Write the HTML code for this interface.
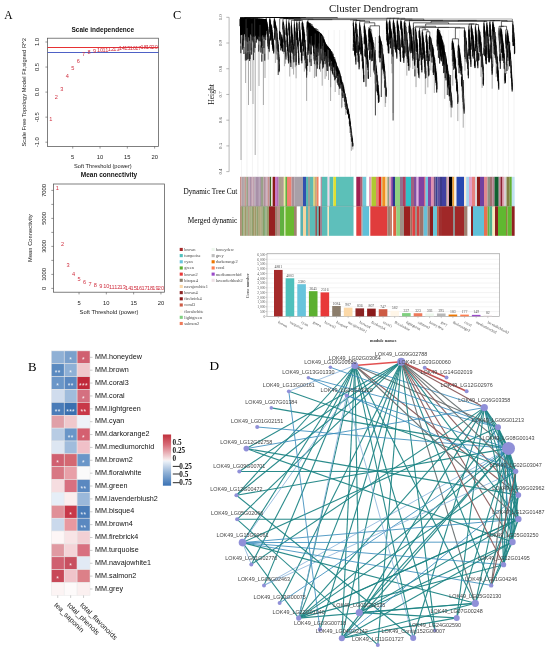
<!DOCTYPE html>
<html><head><meta charset="utf-8"><title>WGCNA figure</title>
<style>html,body{margin:0;padding:0;background:#fff;}svg{display:block}</style></head>
<body><svg width="550" height="651" viewBox="0 0 550 651">
<rect width="550" height="651" fill="#fff"/>
<text x="4.30" y="19.00" font-size="11.5" font-family="'Liberation Serif', 'Times New Roman', serif" fill="#000" text-anchor="start" font-weight="normal">A</text>
<rect x="47.6" y="38.2" width="110.9" height="108.2" fill="none" stroke="#555" stroke-width="0.75"/>
<text x="102.75" y="32.00" font-size="6.5" font-family="'Liberation Sans', Arial, sans-serif" fill="#111" text-anchor="middle" font-weight="bold">Scale independence</text>
<line x1="45.40" y1="42.00" x2="47.60" y2="42.00" stroke="#555" stroke-width="0.6"/>
<text x="39.20" y="42.00" font-size="5.8" font-family="'Liberation Sans', Arial, sans-serif" fill="#222" text-anchor="middle" font-weight="normal" transform="rotate(-90 39.20 42.00)">1.0</text>
<line x1="45.40" y1="67.05" x2="47.60" y2="67.05" stroke="#555" stroke-width="0.6"/>
<text x="39.20" y="67.05" font-size="5.8" font-family="'Liberation Sans', Arial, sans-serif" fill="#222" text-anchor="middle" font-weight="normal" transform="rotate(-90 39.20 67.05)">0.5</text>
<line x1="45.40" y1="92.10" x2="47.60" y2="92.10" stroke="#555" stroke-width="0.6"/>
<text x="39.20" y="92.10" font-size="5.8" font-family="'Liberation Sans', Arial, sans-serif" fill="#222" text-anchor="middle" font-weight="normal" transform="rotate(-90 39.20 92.10)">0.0</text>
<line x1="45.40" y1="117.15" x2="47.60" y2="117.15" stroke="#555" stroke-width="0.6"/>
<text x="39.20" y="117.15" font-size="5.8" font-family="'Liberation Sans', Arial, sans-serif" fill="#222" text-anchor="middle" font-weight="normal" transform="rotate(-90 39.20 117.15)">-0.5</text>
<line x1="45.40" y1="142.20" x2="47.60" y2="142.20" stroke="#555" stroke-width="0.6"/>
<text x="39.20" y="142.20" font-size="5.8" font-family="'Liberation Sans', Arial, sans-serif" fill="#222" text-anchor="middle" font-weight="normal" transform="rotate(-90 39.20 142.20)">-1.0</text>
<line x1="72.74" y1="146.40" x2="72.74" y2="148.60" stroke="#555" stroke-width="0.6"/>
<text x="72.74" y="158.80" font-size="5.8" font-family="'Liberation Sans', Arial, sans-serif" fill="#222" text-anchor="middle" font-weight="normal">5</text>
<line x1="100.04" y1="146.40" x2="100.04" y2="148.60" stroke="#555" stroke-width="0.6"/>
<text x="100.04" y="158.80" font-size="5.8" font-family="'Liberation Sans', Arial, sans-serif" fill="#222" text-anchor="middle" font-weight="normal">10</text>
<line x1="127.34" y1="146.40" x2="127.34" y2="148.60" stroke="#555" stroke-width="0.6"/>
<text x="127.34" y="158.80" font-size="5.8" font-family="'Liberation Sans', Arial, sans-serif" fill="#222" text-anchor="middle" font-weight="normal">15</text>
<line x1="154.64" y1="146.40" x2="154.64" y2="148.60" stroke="#555" stroke-width="0.6"/>
<text x="154.64" y="158.80" font-size="5.8" font-family="'Liberation Sans', Arial, sans-serif" fill="#222" text-anchor="middle" font-weight="normal">20</text>
<text x="102.90" y="167.50" font-size="5.7" font-family="'Liberation Sans', Arial, sans-serif" fill="#222" text-anchor="middle" font-weight="normal">Soft Threshold (power)</text>
<text x="25.60" y="92.30" font-size="5.8" font-family="'Liberation Sans', Arial, sans-serif" fill="#222" text-anchor="middle" font-weight="normal" transform="rotate(-90 25.60 92.30)">Scale Free Topology Model Fit,signed R^2</text>
<line x1="47.60" y1="47.50" x2="158.50" y2="47.50" stroke="#e41a1c" stroke-width="0.9"/>
<line x1="47.60" y1="52.50" x2="158.50" y2="52.50" stroke="#3a4fc0" stroke-width="0.9"/>
<text x="50.90" y="120.65" font-size="5.6" font-family="'Liberation Sans', Arial, sans-serif" fill="#d03040" text-anchor="middle" font-weight="normal">1</text>
<text x="56.36" y="98.61" font-size="5.6" font-family="'Liberation Sans', Arial, sans-serif" fill="#d03040" text-anchor="middle" font-weight="normal">2</text>
<text x="61.82" y="91.09" font-size="5.6" font-family="'Liberation Sans', Arial, sans-serif" fill="#d03040" text-anchor="middle" font-weight="normal">3</text>
<text x="67.28" y="77.57" font-size="5.6" font-family="'Liberation Sans', Arial, sans-serif" fill="#d03040" text-anchor="middle" font-weight="normal">4</text>
<text x="72.74" y="70.05" font-size="5.6" font-family="'Liberation Sans', Arial, sans-serif" fill="#d03040" text-anchor="middle" font-weight="normal">5</text>
<text x="78.20" y="63.04" font-size="5.6" font-family="'Liberation Sans', Arial, sans-serif" fill="#d03040" text-anchor="middle" font-weight="normal">6</text>
<text x="83.66" y="56.02" font-size="5.6" font-family="'Liberation Sans', Arial, sans-serif" fill="#d03040" text-anchor="middle" font-weight="normal">7</text>
<text x="89.12" y="53.52" font-size="5.6" font-family="'Liberation Sans', Arial, sans-serif" fill="#d03040" text-anchor="middle" font-weight="normal">8</text>
<text x="94.58" y="52.52" font-size="5.6" font-family="'Liberation Sans', Arial, sans-serif" fill="#d03040" text-anchor="middle" font-weight="normal">9</text>
<text x="100.04" y="52.02" font-size="5.6" font-family="'Liberation Sans', Arial, sans-serif" fill="#d03040" text-anchor="middle" font-weight="normal">10</text>
<text x="105.50" y="51.51" font-size="5.6" font-family="'Liberation Sans', Arial, sans-serif" fill="#d03040" text-anchor="middle" font-weight="normal">11</text>
<text x="110.96" y="51.01" font-size="5.6" font-family="'Liberation Sans', Arial, sans-serif" fill="#d03040" text-anchor="middle" font-weight="normal">12</text>
<text x="116.42" y="50.51" font-size="5.6" font-family="'Liberation Sans', Arial, sans-serif" fill="#d03040" text-anchor="middle" font-weight="normal">13</text>
<text x="121.88" y="50.26" font-size="5.6" font-family="'Liberation Sans', Arial, sans-serif" fill="#d03040" text-anchor="middle" font-weight="normal">14</text>
<text x="127.34" y="50.01" font-size="5.6" font-family="'Liberation Sans', Arial, sans-serif" fill="#d03040" text-anchor="middle" font-weight="normal">15</text>
<text x="132.80" y="49.76" font-size="5.6" font-family="'Liberation Sans', Arial, sans-serif" fill="#d03040" text-anchor="middle" font-weight="normal">16</text>
<text x="138.26" y="49.51" font-size="5.6" font-family="'Liberation Sans', Arial, sans-serif" fill="#d03040" text-anchor="middle" font-weight="normal">17</text>
<text x="143.72" y="49.26" font-size="5.6" font-family="'Liberation Sans', Arial, sans-serif" fill="#d03040" text-anchor="middle" font-weight="normal">18</text>
<text x="149.18" y="49.01" font-size="5.6" font-family="'Liberation Sans', Arial, sans-serif" fill="#d03040" text-anchor="middle" font-weight="normal">19</text>
<text x="154.64" y="49.01" font-size="5.6" font-family="'Liberation Sans', Arial, sans-serif" fill="#d03040" text-anchor="middle" font-weight="normal">20</text>
<rect x="53.5" y="184" width="111.0" height="108.19999999999999" fill="none" stroke="#555" stroke-width="0.75"/>
<text x="109.00" y="177.30" font-size="6.5" font-family="'Liberation Sans', Arial, sans-serif" fill="#111" text-anchor="middle" font-weight="bold">Mean connectivity</text>
<line x1="51.30" y1="288.40" x2="53.50" y2="288.40" stroke="#555" stroke-width="0.6"/>
<text x="45.60" y="288.40" font-size="5.8" font-family="'Liberation Sans', Arial, sans-serif" fill="#222" text-anchor="middle" font-weight="normal" transform="rotate(-90 45.60 288.40)">0</text>
<line x1="51.30" y1="274.40" x2="53.50" y2="274.40" stroke="#555" stroke-width="0.6"/>
<text x="45.60" y="274.40" font-size="5.8" font-family="'Liberation Sans', Arial, sans-serif" fill="#222" text-anchor="middle" font-weight="normal" transform="rotate(-90 45.60 274.40)">1000</text>
<line x1="51.30" y1="246.40" x2="53.50" y2="246.40" stroke="#555" stroke-width="0.6"/>
<text x="45.60" y="246.40" font-size="5.8" font-family="'Liberation Sans', Arial, sans-serif" fill="#222" text-anchor="middle" font-weight="normal" transform="rotate(-90 45.60 246.40)">3000</text>
<line x1="51.30" y1="218.40" x2="53.50" y2="218.40" stroke="#555" stroke-width="0.6"/>
<text x="45.60" y="218.40" font-size="5.8" font-family="'Liberation Sans', Arial, sans-serif" fill="#222" text-anchor="middle" font-weight="normal" transform="rotate(-90 45.60 218.40)">5000</text>
<line x1="51.30" y1="190.40" x2="53.50" y2="190.40" stroke="#555" stroke-width="0.6"/>
<text x="45.60" y="190.40" font-size="5.8" font-family="'Liberation Sans', Arial, sans-serif" fill="#222" text-anchor="middle" font-weight="normal" transform="rotate(-90 45.60 190.40)">7000</text>
<line x1="51.30" y1="260.40" x2="53.50" y2="260.40" stroke="#555" stroke-width="0.6"/>
<line x1="51.30" y1="232.40" x2="53.50" y2="232.40" stroke="#555" stroke-width="0.6"/>
<line x1="51.30" y1="204.40" x2="53.50" y2="204.40" stroke="#555" stroke-width="0.6"/>
<line x1="79.04" y1="292.20" x2="79.04" y2="294.40" stroke="#555" stroke-width="0.6"/>
<text x="79.04" y="304.80" font-size="5.8" font-family="'Liberation Sans', Arial, sans-serif" fill="#222" text-anchor="middle" font-weight="normal">5</text>
<line x1="106.34" y1="292.20" x2="106.34" y2="294.40" stroke="#555" stroke-width="0.6"/>
<text x="106.34" y="304.80" font-size="5.8" font-family="'Liberation Sans', Arial, sans-serif" fill="#222" text-anchor="middle" font-weight="normal">10</text>
<line x1="133.64" y1="292.20" x2="133.64" y2="294.40" stroke="#555" stroke-width="0.6"/>
<text x="133.64" y="304.80" font-size="5.8" font-family="'Liberation Sans', Arial, sans-serif" fill="#222" text-anchor="middle" font-weight="normal">15</text>
<line x1="160.94" y1="292.20" x2="160.94" y2="294.40" stroke="#555" stroke-width="0.6"/>
<text x="160.94" y="304.80" font-size="5.8" font-family="'Liberation Sans', Arial, sans-serif" fill="#222" text-anchor="middle" font-weight="normal">20</text>
<text x="109.00" y="313.50" font-size="5.8" font-family="'Liberation Sans', Arial, sans-serif" fill="#222" text-anchor="middle" font-weight="normal">Soft Threshold (power)</text>
<text x="32.00" y="238.10" font-size="5.8" font-family="'Liberation Sans', Arial, sans-serif" fill="#222" text-anchor="middle" font-weight="normal" transform="rotate(-90 32.00 238.10)">Mean Connectivity</text>
<text x="57.20" y="190.30" font-size="5.6" font-family="'Liberation Sans', Arial, sans-serif" fill="#d03040" text-anchor="middle" font-weight="normal">1</text>
<text x="62.66" y="245.60" font-size="5.6" font-family="'Liberation Sans', Arial, sans-serif" fill="#d03040" text-anchor="middle" font-weight="normal">2</text>
<text x="68.12" y="266.60" font-size="5.6" font-family="'Liberation Sans', Arial, sans-serif" fill="#d03040" text-anchor="middle" font-weight="normal">3</text>
<text x="73.58" y="276.40" font-size="5.6" font-family="'Liberation Sans', Arial, sans-serif" fill="#d03040" text-anchor="middle" font-weight="normal">4</text>
<text x="79.04" y="281.44" font-size="5.6" font-family="'Liberation Sans', Arial, sans-serif" fill="#d03040" text-anchor="middle" font-weight="normal">5</text>
<text x="84.50" y="284.10" font-size="5.6" font-family="'Liberation Sans', Arial, sans-serif" fill="#d03040" text-anchor="middle" font-weight="normal">6</text>
<text x="89.96" y="285.92" font-size="5.6" font-family="'Liberation Sans', Arial, sans-serif" fill="#d03040" text-anchor="middle" font-weight="normal">7</text>
<text x="95.42" y="287.04" font-size="5.6" font-family="'Liberation Sans', Arial, sans-serif" fill="#d03040" text-anchor="middle" font-weight="normal">8</text>
<text x="100.88" y="287.88" font-size="5.6" font-family="'Liberation Sans', Arial, sans-serif" fill="#d03040" text-anchor="middle" font-weight="normal">9</text>
<text x="106.34" y="288.44" font-size="5.6" font-family="'Liberation Sans', Arial, sans-serif" fill="#d03040" text-anchor="middle" font-weight="normal">10</text>
<text x="111.80" y="288.86" font-size="5.6" font-family="'Liberation Sans', Arial, sans-serif" fill="#d03040" text-anchor="middle" font-weight="normal">11</text>
<text x="117.26" y="289.14" font-size="5.6" font-family="'Liberation Sans', Arial, sans-serif" fill="#d03040" text-anchor="middle" font-weight="normal">12</text>
<text x="122.72" y="289.35" font-size="5.6" font-family="'Liberation Sans', Arial, sans-serif" fill="#d03040" text-anchor="middle" font-weight="normal">13</text>
<text x="128.18" y="289.53" font-size="5.6" font-family="'Liberation Sans', Arial, sans-serif" fill="#d03040" text-anchor="middle" font-weight="normal">14</text>
<text x="133.64" y="289.67" font-size="5.6" font-family="'Liberation Sans', Arial, sans-serif" fill="#d03040" text-anchor="middle" font-weight="normal">15</text>
<text x="139.10" y="289.77" font-size="5.6" font-family="'Liberation Sans', Arial, sans-serif" fill="#d03040" text-anchor="middle" font-weight="normal">16</text>
<text x="144.56" y="289.84" font-size="5.6" font-family="'Liberation Sans', Arial, sans-serif" fill="#d03040" text-anchor="middle" font-weight="normal">17</text>
<text x="150.02" y="289.91" font-size="5.6" font-family="'Liberation Sans', Arial, sans-serif" fill="#d03040" text-anchor="middle" font-weight="normal">18</text>
<text x="155.48" y="289.98" font-size="5.6" font-family="'Liberation Sans', Arial, sans-serif" fill="#d03040" text-anchor="middle" font-weight="normal">19</text>
<text x="160.94" y="290.02" font-size="5.6" font-family="'Liberation Sans', Arial, sans-serif" fill="#d03040" text-anchor="middle" font-weight="normal">20</text>
<text x="172.90" y="18.50" font-size="12.3" font-family="'Liberation Serif', 'Times New Roman', serif" fill="#000" text-anchor="start" font-weight="normal">C</text>
<text x="373.70" y="12.00" font-size="10.9" font-family="'Liberation Serif', 'Times New Roman', serif" fill="#111" text-anchor="middle" font-weight="normal">Cluster Dendrogram</text>
<line x1="241.50" y1="30.00" x2="241.50" y2="176.50" stroke="#e6e6e6" stroke-width="0.5"/>
<line x1="246.95" y1="30.00" x2="246.95" y2="176.50" stroke="#e6e6e6" stroke-width="0.5"/>
<line x1="252.40" y1="30.00" x2="252.40" y2="176.50" stroke="#e6e6e6" stroke-width="0.5"/>
<line x1="257.85" y1="30.00" x2="257.85" y2="176.50" stroke="#e6e6e6" stroke-width="0.5"/>
<line x1="263.30" y1="30.00" x2="263.30" y2="176.50" stroke="#e6e6e6" stroke-width="0.5"/>
<line x1="268.75" y1="30.00" x2="268.75" y2="176.50" stroke="#e6e6e6" stroke-width="0.5"/>
<line x1="274.20" y1="30.00" x2="274.20" y2="176.50" stroke="#e6e6e6" stroke-width="0.5"/>
<line x1="279.65" y1="30.00" x2="279.65" y2="176.50" stroke="#e6e6e6" stroke-width="0.5"/>
<line x1="285.10" y1="30.00" x2="285.10" y2="176.50" stroke="#e6e6e6" stroke-width="0.5"/>
<line x1="290.55" y1="30.00" x2="290.55" y2="176.50" stroke="#e6e6e6" stroke-width="0.5"/>
<line x1="296.00" y1="30.00" x2="296.00" y2="176.50" stroke="#e6e6e6" stroke-width="0.5"/>
<line x1="301.45" y1="30.00" x2="301.45" y2="176.50" stroke="#e6e6e6" stroke-width="0.5"/>
<line x1="306.90" y1="30.00" x2="306.90" y2="176.50" stroke="#e6e6e6" stroke-width="0.5"/>
<line x1="312.35" y1="30.00" x2="312.35" y2="176.50" stroke="#e6e6e6" stroke-width="0.5"/>
<line x1="317.80" y1="30.00" x2="317.80" y2="176.50" stroke="#e6e6e6" stroke-width="0.5"/>
<line x1="323.25" y1="30.00" x2="323.25" y2="176.50" stroke="#e6e6e6" stroke-width="0.5"/>
<line x1="328.70" y1="30.00" x2="328.70" y2="176.50" stroke="#e6e6e6" stroke-width="0.5"/>
<line x1="334.15" y1="30.00" x2="334.15" y2="176.50" stroke="#e6e6e6" stroke-width="0.5"/>
<line x1="339.60" y1="30.00" x2="339.60" y2="176.50" stroke="#e6e6e6" stroke-width="0.5"/>
<line x1="345.05" y1="30.00" x2="345.05" y2="176.50" stroke="#e6e6e6" stroke-width="0.5"/>
<line x1="350.50" y1="30.00" x2="350.50" y2="176.50" stroke="#e6e6e6" stroke-width="0.5"/>
<line x1="355.95" y1="30.00" x2="355.95" y2="176.50" stroke="#e6e6e6" stroke-width="0.5"/>
<line x1="361.40" y1="30.00" x2="361.40" y2="176.50" stroke="#e6e6e6" stroke-width="0.5"/>
<line x1="366.85" y1="30.00" x2="366.85" y2="176.50" stroke="#e6e6e6" stroke-width="0.5"/>
<line x1="372.30" y1="30.00" x2="372.30" y2="176.50" stroke="#e6e6e6" stroke-width="0.5"/>
<line x1="377.75" y1="30.00" x2="377.75" y2="176.50" stroke="#e6e6e6" stroke-width="0.5"/>
<line x1="383.20" y1="30.00" x2="383.20" y2="176.50" stroke="#e6e6e6" stroke-width="0.5"/>
<line x1="388.65" y1="30.00" x2="388.65" y2="176.50" stroke="#e6e6e6" stroke-width="0.5"/>
<line x1="394.10" y1="30.00" x2="394.10" y2="176.50" stroke="#e6e6e6" stroke-width="0.5"/>
<line x1="399.55" y1="30.00" x2="399.55" y2="176.50" stroke="#e6e6e6" stroke-width="0.5"/>
<line x1="405.00" y1="30.00" x2="405.00" y2="176.50" stroke="#e6e6e6" stroke-width="0.5"/>
<line x1="410.45" y1="30.00" x2="410.45" y2="176.50" stroke="#e6e6e6" stroke-width="0.5"/>
<line x1="415.90" y1="30.00" x2="415.90" y2="176.50" stroke="#e6e6e6" stroke-width="0.5"/>
<line x1="421.35" y1="30.00" x2="421.35" y2="176.50" stroke="#e6e6e6" stroke-width="0.5"/>
<line x1="426.80" y1="30.00" x2="426.80" y2="176.50" stroke="#e6e6e6" stroke-width="0.5"/>
<line x1="432.25" y1="30.00" x2="432.25" y2="176.50" stroke="#e6e6e6" stroke-width="0.5"/>
<line x1="437.70" y1="30.00" x2="437.70" y2="176.50" stroke="#e6e6e6" stroke-width="0.5"/>
<line x1="443.15" y1="30.00" x2="443.15" y2="176.50" stroke="#e6e6e6" stroke-width="0.5"/>
<line x1="448.60" y1="30.00" x2="448.60" y2="176.50" stroke="#e6e6e6" stroke-width="0.5"/>
<line x1="454.05" y1="30.00" x2="454.05" y2="176.50" stroke="#e6e6e6" stroke-width="0.5"/>
<line x1="459.50" y1="30.00" x2="459.50" y2="176.50" stroke="#e6e6e6" stroke-width="0.5"/>
<line x1="464.95" y1="30.00" x2="464.95" y2="176.50" stroke="#e6e6e6" stroke-width="0.5"/>
<line x1="470.40" y1="30.00" x2="470.40" y2="176.50" stroke="#e6e6e6" stroke-width="0.5"/>
<line x1="475.85" y1="30.00" x2="475.85" y2="176.50" stroke="#e6e6e6" stroke-width="0.5"/>
<line x1="481.30" y1="30.00" x2="481.30" y2="176.50" stroke="#e6e6e6" stroke-width="0.5"/>
<line x1="486.75" y1="30.00" x2="486.75" y2="176.50" stroke="#e6e6e6" stroke-width="0.5"/>
<line x1="492.20" y1="30.00" x2="492.20" y2="176.50" stroke="#e6e6e6" stroke-width="0.5"/>
<line x1="497.65" y1="30.00" x2="497.65" y2="176.50" stroke="#e6e6e6" stroke-width="0.5"/>
<line x1="503.10" y1="30.00" x2="503.10" y2="176.50" stroke="#e6e6e6" stroke-width="0.5"/>
<line x1="508.55" y1="30.00" x2="508.55" y2="176.50" stroke="#e6e6e6" stroke-width="0.5"/>
<line x1="514.00" y1="30.00" x2="514.00" y2="176.50" stroke="#e6e6e6" stroke-width="0.5"/>
<line x1="229.10" y1="17.30" x2="229.10" y2="171.62" stroke="#888" stroke-width="0.6"/>
<line x1="226.30" y1="17.30" x2="229.10" y2="17.30" stroke="#888" stroke-width="0.6"/>
<text x="222.30" y="17.30" font-size="4.8" font-family="'Liberation Serif', 'Times New Roman', serif" fill="#444" text-anchor="middle" font-weight="normal" transform="rotate(-90 222.30 17.30)">1.0</text>
<line x1="226.30" y1="43.02" x2="229.10" y2="43.02" stroke="#888" stroke-width="0.6"/>
<text x="222.30" y="43.02" font-size="4.8" font-family="'Liberation Serif', 'Times New Roman', serif" fill="#444" text-anchor="middle" font-weight="normal" transform="rotate(-90 222.30 43.02)">0.9</text>
<line x1="226.30" y1="68.74" x2="229.10" y2="68.74" stroke="#888" stroke-width="0.6"/>
<text x="222.30" y="68.74" font-size="4.8" font-family="'Liberation Serif', 'Times New Roman', serif" fill="#444" text-anchor="middle" font-weight="normal" transform="rotate(-90 222.30 68.74)">0.8</text>
<line x1="226.30" y1="94.46" x2="229.10" y2="94.46" stroke="#888" stroke-width="0.6"/>
<text x="222.30" y="94.46" font-size="4.8" font-family="'Liberation Serif', 'Times New Roman', serif" fill="#444" text-anchor="middle" font-weight="normal" transform="rotate(-90 222.30 94.46)">0.7</text>
<line x1="226.30" y1="120.18" x2="229.10" y2="120.18" stroke="#888" stroke-width="0.6"/>
<text x="222.30" y="120.18" font-size="4.8" font-family="'Liberation Serif', 'Times New Roman', serif" fill="#444" text-anchor="middle" font-weight="normal" transform="rotate(-90 222.30 120.18)">0.6</text>
<line x1="226.30" y1="145.90" x2="229.10" y2="145.90" stroke="#888" stroke-width="0.6"/>
<text x="222.30" y="145.90" font-size="4.8" font-family="'Liberation Serif', 'Times New Roman', serif" fill="#444" text-anchor="middle" font-weight="normal" transform="rotate(-90 222.30 145.90)">0.5</text>
<line x1="226.30" y1="171.62" x2="229.10" y2="171.62" stroke="#888" stroke-width="0.6"/>
<text x="222.30" y="171.62" font-size="4.8" font-family="'Liberation Serif', 'Times New Roman', serif" fill="#444" text-anchor="middle" font-weight="normal" transform="rotate(-90 222.30 171.62)">0.4</text>
<text x="213.90" y="94.40" font-size="7.6" font-family="'Liberation Serif', 'Times New Roman', serif" fill="#111" text-anchor="middle" font-weight="normal" transform="rotate(-90 213.90 94.40)">Height</text>
<path d="M240.0,17.9 L240.4,17.9 L240.8,17.9 L241.2,18.0 L241.6,18.0 L242.0,18.0 L242.4,18.0 L242.8,18.0 L243.2,18.0 L243.6,18.1 L244.0,18.1 L244.4,18.1 L244.8,18.1 L245.2,18.1 L245.6,18.1 L246.0,18.2 L246.4,18.2 L246.8,18.2 L247.2,18.2 L247.6,18.2 L248.0,18.2 L248.4,18.3 L248.8,18.3 L249.2,18.3 L249.6,18.3 L250.0,18.3 L250.4,18.3 L250.8,18.4 L251.2,18.4 L251.6,18.4 L252.0,18.4 L252.4,18.4 L252.8,18.4 L253.2,18.5 L253.6,18.5 L254.0,18.5 L254.4,18.5 L254.8,18.5 L255.2,18.5 L255.6,18.6 L256.0,18.6 L256.4,18.6 L256.8,18.6 L257.2,18.6 L257.6,18.6 L258.0,18.7 L258.4,18.7 L258.8,18.7 L259.2,18.7 L259.6,18.7 L260.0,18.7 L260.4,18.8 L260.8,18.8 L261.2,18.8 L261.6,18.8 L262.0,18.8 L262.4,18.8 L262.8,18.9 L263.2,18.9 L263.6,18.9 L264.0,18.9 L264.4,18.9 L264.8,18.9 L265.2,19.0 L265.6,19.0 L266.0,19.0 L266.0,35.2 L265.6,34.8 L265.2,36.7 L264.8,37.3 L264.4,35.4 L264.0,34.7 L263.6,35.2 L263.2,36.7 L262.8,36.3 L262.4,34.6 L262.0,35.5 L261.6,37.3 L261.2,35.7 L260.8,37.0 L260.4,34.9 L260.0,34.2 L259.6,36.8 L259.2,37.1 L258.8,35.4 L258.4,36.7 L258.0,35.4 L257.6,36.4 L257.2,34.3 L256.8,35.0 L256.4,34.8 L256.0,35.0 L255.6,36.2 L255.2,36.6 L254.8,37.0 L254.4,37.0 L254.0,34.8 L253.6,35.3 L253.2,35.9 L252.8,35.4 L252.4,35.8 L252.0,35.5 L251.6,36.4 L251.2,35.2 L250.8,35.2 L250.4,33.9 L250.0,34.5 L249.6,34.4 L249.2,34.0 L248.8,35.4 L248.4,33.8 L248.0,34.2 L247.6,35.6 L247.2,35.7 L246.8,36.6 L246.4,36.6 L246.0,33.8 L245.6,35.7 L245.2,36.0 L244.8,33.9 L244.4,34.5 L244.0,33.9 L243.6,35.9 L243.2,35.4 L242.8,35.1 L242.4,34.1 L242.0,35.2 L241.6,35.0 L241.2,34.8 L240.8,36.2 L240.4,35.1 L240.0,34.8ZM266.0,18.5 L266.4,19.3 L266.8,20.8 L267.2,22.8 L267.6,25.1 L268.0,27.8 L268.4,30.7 L268.8,33.9 L269.2,37.3 L269.2,40.4 L268.8,39.4 L268.4,35.1 L268.0,33.5 L267.6,31.8 L267.2,28.8 L266.8,29.3 L266.4,26.1 L266.0,25.9ZM269.5,18.5 L269.9,19.1 L270.3,20.2 L270.7,21.8 L271.1,23.8 L271.5,26.0 L271.9,28.6 L272.3,31.4 L272.7,34.4 L273.1,37.7 L273.5,41.3 L273.9,45.0 L273.9,50.1 L273.5,45.4 L273.1,41.9 L272.7,41.1 L272.3,36.8 L271.9,36.0 L271.5,34.5 L271.1,30.6 L270.7,29.0 L270.3,28.6 L269.9,27.0 L269.5,28.5ZM274.0,18.5 L274.4,18.7 L274.8,19.5 L275.2,20.6 L275.6,22.3 L276.0,24.5 L276.4,27.1 L276.8,30.2 L277.2,33.8 L277.6,37.8 L278.0,42.4 L278.4,47.4 L278.8,52.9 L279.2,58.8 L279.2,62.5 L278.8,57.8 L278.4,51.7 L278.0,48.2 L277.6,42.7 L277.2,39.1 L276.8,36.7 L276.4,34.2 L276.0,33.4 L275.6,30.2 L275.2,28.9 L274.8,30.5 L274.4,27.6 L274.0,29.5ZM279.4,30.0 L279.8,31.2 L280.2,32.4 L280.6,33.5 L281.0,34.7 L281.4,35.9 L281.8,37.1 L282.2,38.2 L282.6,39.4 L282.6,43.5 L282.2,43.0 L281.8,40.0 L281.4,39.4 L281.0,40.7 L280.6,39.1 L280.2,38.1 L279.8,38.8 L279.4,36.6ZM282.8,19.8 L283.2,20.9 L283.6,23.1 L284.0,26.1 L284.4,29.8 L284.8,34.0 L285.2,38.9 L285.6,44.2 L286.0,50.0 L286.0,54.6 L285.6,50.4 L285.2,47.0 L284.8,43.4 L284.4,38.0 L284.0,37.6 L283.6,35.1 L283.2,32.3 L282.8,32.5ZM286.0,19.8 L286.4,21.4 L286.8,24.7 L287.2,29.1 L287.6,34.6 L288.0,41.0 L288.4,48.1 L288.4,54.0 L288.0,46.6 L287.6,43.0 L287.2,37.5 L286.8,36.7 L286.4,32.0 L286.0,32.1ZM288.7,20.3 L289.1,22.6 L289.5,27.3 L289.9,33.6 L290.3,41.4 L290.7,50.4 L290.7,55.7 L290.3,47.8 L289.9,43.7 L289.5,37.3 L289.1,34.7 L288.7,35.0ZM291.0,21.5 L291.4,22.9 L291.8,25.7 L292.2,29.5 L292.6,34.1 L293.0,39.5 L293.4,45.6 L293.8,52.4 L293.8,57.1 L293.4,50.9 L293.0,46.6 L292.6,44.7 L292.2,39.4 L291.8,37.8 L291.4,37.1 L291.0,36.1ZM294.0,21.5 L294.4,23.3 L294.8,26.9 L295.2,31.9 L295.6,37.9 L296.0,44.9 L296.4,52.9 L296.4,57.7 L296.0,50.6 L295.6,46.4 L295.2,41.3 L294.8,37.3 L294.4,34.8 L294.0,35.7ZM296.5,21.5 L296.9,23.3 L297.3,26.9 L297.7,31.9 L298.1,37.9 L298.5,44.9 L298.9,52.9 L298.9,56.7 L298.5,50.6 L298.1,46.4 L297.7,42.2 L297.3,38.7 L296.9,37.6 L296.5,37.1ZM299.0,21.5 L299.4,22.9 L299.8,25.7 L300.2,29.5 L300.6,34.1 L301.0,39.5 L301.4,45.6 L301.8,52.4 L301.8,58.5 L301.4,52.3 L301.0,47.9 L300.6,42.0 L300.2,41.4 L299.8,38.1 L299.4,37.2 L299.0,34.5ZM302.0,21.5 L302.4,22.0 L302.8,23.1 L303.2,24.9 L303.6,27.2 L304.0,30.0 L304.4,33.3 L304.8,37.0 L305.2,41.2 L305.6,45.9 L306.0,51.0 L306.4,56.5 L306.8,62.5 L306.8,68.6 L306.4,62.8 L306.0,57.1 L305.6,54.5 L305.2,50.2 L304.8,46.5 L304.4,43.7 L304.0,41.7 L303.6,39.1 L303.2,37.1 L302.8,34.7 L302.4,37.1 L302.0,35.4ZM306.9,20.8 L307.3,21.2 L307.7,21.6 L308.1,22.0 L308.5,22.4 L308.9,22.8 L309.3,23.2 L309.7,23.6 L310.1,24.0 L310.5,24.4 L310.9,24.8 L311.3,25.1 L311.7,25.5 L312.1,25.9 L312.5,26.3 L312.9,26.7 L313.3,27.1 L313.7,27.5 L314.1,27.9 L314.5,28.3 L314.9,28.7 L315.3,29.1 L315.7,29.4 L316.1,29.7 L316.5,30.0 L316.9,30.4 L317.3,30.7 L317.7,31.0 L318.1,31.3 L318.5,31.6 L318.9,31.9 L319.3,32.2 L319.7,32.5 L320.1,32.8 L320.5,33.1 L320.9,33.4 L321.3,33.8 L321.7,34.1 L322.1,34.5 L322.5,35.5 L322.9,36.4 L323.3,37.4 L323.7,38.3 L324.1,39.2 L324.5,40.2 L324.9,41.1 L325.3,42.1 L325.7,43.0 L326.1,43.9 L326.5,44.6 L326.9,45.1 L327.3,45.6 L327.7,46.1 L328.1,46.5 L328.5,47.0 L328.9,47.5 L329.3,48.0 L329.7,48.4 L330.1,48.9 L330.5,49.4 L330.9,50.2 L331.3,51.2 L331.7,52.1 L332.1,53.0 L332.5,54.0 L332.9,54.9 L333.3,55.9 L333.7,56.8 L334.1,57.8 L334.5,58.7 L334.9,59.6 L335.3,60.6 L335.7,61.6 L336.1,62.7 L336.5,63.8 L336.9,64.9 L337.3,66.0 L337.7,67.1 L338.1,68.2 L338.5,69.3 L338.9,70.4 L339.3,71.5 L339.7,72.6 L340.1,73.9 L340.5,75.4 L340.9,76.9 L341.3,78.4 L341.7,79.9 L342.1,81.4 L342.5,82.8 L342.9,84.3 L343.3,85.8 L343.7,87.3 L344.1,88.9 L344.5,90.8 L344.9,92.7 L345.3,94.7 L345.7,96.6 L346.1,98.5 L346.5,100.5 L346.9,102.4 L347.3,104.3 L347.7,106.4 L348.1,108.5 L348.5,110.7 L348.9,112.9 L349.3,115.0 L349.7,117.2 L350.1,119.7 L350.5,123.5 L350.9,127.2 L351.3,131.0 L351.7,134.0 L352.1,137.0 L352.5,139.9 L352.9,142.9 L352.9,146.9 L352.5,143.0 L352.1,139.5 L351.7,138.1 L351.3,134.3 L350.9,130.1 L350.5,125.5 L350.1,123.6 L349.7,121.8 L349.3,117.2 L348.9,117.7 L348.5,115.3 L348.1,112.0 L347.7,111.1 L347.3,108.7 L346.9,106.6 L346.5,105.3 L346.1,102.5 L345.7,100.4 L345.3,98.3 L344.9,98.1 L344.5,95.6 L344.1,92.4 L343.7,91.4 L343.3,90.9 L342.9,88.7 L342.5,88.8 L342.1,88.3 L341.7,86.4 L341.3,84.6 L340.9,83.2 L340.5,81.3 L340.1,80.4 L339.7,77.5 L339.3,76.8 L338.9,76.1 L338.5,76.9 L338.1,73.5 L337.7,73.8 L337.3,71.9 L336.9,70.7 L336.5,72.0 L336.1,69.7 L335.7,69.5 L335.3,69.1 L334.9,66.3 L334.5,68.1 L334.1,64.8 L333.7,64.1 L333.3,64.5 L332.9,65.3 L332.5,64.1 L332.1,61.8 L331.7,61.5 L331.3,61.1 L330.9,59.7 L330.5,58.5 L330.1,58.4 L329.7,58.6 L329.3,57.4 L328.9,57.5 L328.5,59.2 L328.1,58.2 L327.7,58.3 L327.3,57.9 L326.9,56.6 L326.5,55.2 L326.1,55.2 L325.7,55.3 L325.3,53.9 L324.9,54.6 L324.5,54.0 L324.1,52.9 L323.7,51.0 L323.3,49.5 L322.9,50.2 L322.5,48.4 L322.1,49.3 L321.7,47.7 L321.3,48.2 L320.9,48.8 L320.5,46.4 L320.1,46.4 L319.7,47.7 L319.3,46.4 L318.9,45.4 L318.5,46.0 L318.1,47.9 L317.7,46.8 L317.3,46.3 L316.9,46.8 L316.5,45.3 L316.1,45.9 L315.7,46.1 L315.3,44.2 L314.9,46.2 L314.5,43.9 L314.1,46.0 L313.7,44.6 L313.3,44.8 L312.9,45.0 L312.5,43.7 L312.1,44.5 L311.7,44.8 L311.3,44.9 L310.9,43.6 L310.5,41.7 L310.1,43.1 L309.7,42.8 L309.3,41.9 L308.9,42.4 L308.5,42.1 L308.1,42.7 L307.7,42.3 L307.3,40.9 L306.9,42.1ZM353.0,21.6 L353.4,22.5 L353.8,24.7 L354.2,28.0 L354.6,32.4 L355.0,37.7 L355.4,44.0 L355.8,51.1 L355.8,56.0 L355.4,50.7 L355.0,45.4 L354.6,39.8 L354.2,38.1 L353.8,35.5 L353.4,36.0 L353.0,35.9ZM355.5,21.6 L355.9,22.3 L356.3,23.9 L356.7,26.4 L357.1,29.7 L357.5,33.7 L357.9,38.4 L358.3,43.8 L358.7,49.8 L359.1,56.4 L359.1,61.8 L358.7,56.1 L358.3,49.2 L357.9,46.1 L357.5,41.5 L357.1,39.7 L356.7,37.3 L356.3,35.4 L355.9,32.5 L355.5,34.3ZM359.3,22.5 L359.7,23.1 L360.1,24.6 L360.5,26.9 L360.9,29.9 L361.3,33.6 L361.7,37.9 L362.1,42.8 L362.5,48.3 L362.9,54.4 L363.3,61.0 L363.7,68.2 L363.7,72.2 L363.3,65.3 L362.9,61.4 L362.5,53.9 L362.1,51.4 L361.7,45.0 L361.3,42.9 L360.9,40.9 L360.5,38.1 L360.1,36.3 L359.7,34.5 L359.3,35.5ZM364.0,24.0 L364.4,24.6 L364.8,26.0 L365.2,28.1 L365.6,30.9 L366.0,34.3 L366.4,38.3 L366.8,42.8 L367.2,47.9 L367.6,53.6 L368.0,59.8 L368.4,66.5 L368.4,69.9 L368.0,63.6 L367.6,60.9 L367.2,54.7 L366.8,51.8 L366.4,47.3 L366.0,44.6 L365.6,41.6 L365.2,39.1 L364.8,36.7 L364.4,36.1 L364.0,38.3ZM368.6,27.0 L369.0,27.2 L369.4,27.7 L369.8,28.4 L370.2,29.3 L370.6,30.5 L371.0,31.9 L371.4,33.4 L371.8,35.1 L372.2,37.1 L372.6,39.2 L373.0,41.5 L373.4,43.9 L373.8,46.5 L374.2,49.3 L374.6,52.3 L375.0,55.4 L375.4,58.6 L375.8,62.1 L376.2,65.7 L376.6,69.4 L377.0,73.3 L377.4,77.3 L377.8,81.5 L378.2,85.9 L378.6,90.4 L379.0,95.0 L379.0,97.9 L378.6,93.9 L378.2,90.5 L377.8,85.4 L377.4,82.0 L377.0,79.8 L376.6,73.5 L376.2,72.0 L375.8,68.5 L375.4,65.6 L375.0,61.8 L374.6,60.2 L374.2,57.6 L373.8,56.6 L373.4,54.0 L373.0,50.1 L372.6,50.3 L372.2,48.5 L371.8,45.6 L371.4,44.1 L371.0,43.8 L370.6,43.7 L370.2,42.0 L369.8,41.9 L369.4,41.9 L369.0,40.5 L368.6,41.5ZM379.0,35.0 L379.4,35.3 L379.8,36.0 L380.2,37.1 L380.6,38.6 L381.0,40.3 L381.4,42.4 L381.8,44.8 L382.2,47.5 L382.6,50.4 L383.0,53.6 L383.4,57.1 L383.8,60.9 L384.2,64.9 L384.6,69.1 L385.0,73.6 L385.4,78.4 L385.8,83.4 L386.2,88.7 L386.2,92.5 L385.8,85.8 L385.4,83.6 L385.0,78.4 L384.6,73.1 L384.2,69.7 L383.8,66.6 L383.4,64.6 L383.0,61.4 L382.6,57.5 L382.2,54.1 L381.8,52.9 L381.4,50.4 L381.0,50.8 L380.6,49.6 L380.2,47.0 L379.8,46.7 L379.4,45.0 L379.0,47.1ZM386.3,19.5 L386.7,20.4 L387.1,22.5 L387.5,25.7 L387.9,29.8 L388.3,34.9 L388.7,40.9 L388.7,46.2 L388.3,40.8 L387.9,37.0 L387.5,35.4 L387.1,32.2 L386.7,31.5 L386.3,31.5ZM389.0,19.5 L389.4,20.0 L389.8,21.2 L390.2,23.0 L390.6,25.4 L391.0,28.3 L391.4,31.7 L391.8,35.6 L392.2,39.9 L392.6,44.7 L393.0,50.0 L393.0,53.9 L392.6,49.3 L392.2,45.3 L391.8,42.1 L391.4,39.4 L391.0,36.0 L390.6,34.2 L390.2,33.6 L389.8,31.6 L389.4,33.2 L389.0,31.8ZM393.0,19.5 L393.4,20.0 L393.8,21.3 L394.2,23.2 L394.6,25.7 L395.0,28.8 L395.4,32.5 L395.8,36.6 L396.2,41.2 L396.6,46.4 L397.0,52.0 L397.0,56.8 L396.6,52.0 L396.2,46.4 L395.8,44.7 L395.4,40.9 L395.0,39.0 L394.6,36.0 L394.2,34.9 L393.8,34.0 L393.4,32.5 L393.0,32.9ZM397.0,20.3 L397.4,20.8 L397.8,22.2 L398.2,24.2 L398.6,26.9 L399.0,30.1 L399.4,33.9 L399.8,38.3 L400.2,43.2 L400.6,48.6 L400.6,53.3 L400.2,47.5 L399.8,43.4 L399.4,42.3 L399.0,39.9 L398.6,35.3 L398.2,35.8 L397.8,33.0 L397.4,32.7 L397.0,34.9ZM400.7,20.3 L401.1,21.1 L401.5,23.0 L401.9,25.9 L402.3,29.7 L402.7,34.4 L403.1,39.9 L403.5,46.1 L403.9,53.1 L403.9,55.7 L403.5,51.5 L403.1,45.2 L402.7,39.8 L402.3,37.9 L401.9,33.8 L401.5,32.9 L401.1,29.6 L400.7,30.1ZM404.0,21.6 L404.4,22.0 L404.8,22.9 L405.2,24.4 L405.6,26.3 L406.0,28.6 L406.4,31.3 L406.8,34.4 L407.2,37.9 L407.6,41.8 L408.0,46.0 L408.4,50.5 L408.8,55.4 L408.8,58.3 L408.4,54.4 L408.0,50.6 L407.6,47.6 L407.2,46.1 L406.8,42.9 L406.4,41.4 L406.0,38.8 L405.6,36.1 L405.2,37.7 L404.8,36.9 L404.4,36.1 L404.0,35.1ZM409.0,21.6 L409.4,22.1 L409.8,23.3 L410.2,25.1 L410.6,27.4 L411.0,30.3 L411.4,33.7 L411.8,37.6 L412.2,41.9 L412.6,46.7 L413.0,52.0 L413.0,54.5 L412.6,50.3 L412.2,49.0 L411.8,45.8 L411.4,42.4 L411.0,38.1 L410.6,36.1 L410.2,34.6 L409.8,35.0 L409.4,34.6 L409.0,35.2ZM413.0,24.0 L413.4,26.1 L413.8,31.3 L414.2,39.2 L414.6,49.4 L415.0,62.0 L415.0,65.9 L414.6,55.1 L414.2,46.3 L413.8,41.7 L413.4,37.5 L413.0,38.8ZM415.0,27.5 L415.4,28.1 L415.8,29.7 L416.2,32.1 L416.6,35.3 L417.0,39.1 L417.4,43.6 L417.8,48.8 L418.2,54.6 L418.6,61.0 L419.0,68.0 L419.0,70.8 L418.6,64.9 L418.2,60.1 L417.8,56.3 L417.4,51.2 L417.0,46.8 L416.6,45.9 L416.2,43.3 L415.8,39.8 L415.4,40.9 L415.0,40.7ZM419.0,29.0 L419.4,29.9 L419.8,32.2 L420.2,35.7 L420.6,40.3 L421.0,45.9 L421.4,52.4 L421.8,59.9 L421.8,64.1 L421.4,58.6 L421.0,54.0 L420.6,49.2 L420.2,46.2 L419.8,44.3 L419.4,40.6 L419.0,42.5ZM422.0,31.0 L422.4,31.6 L422.8,33.3 L423.2,35.7 L423.6,38.9 L424.0,42.8 L424.4,47.3 L424.8,52.6 L425.2,58.4 L425.6,64.9 L426.0,72.0 L426.0,77.0 L425.6,69.5 L425.2,65.3 L424.8,60.4 L424.4,56.1 L424.0,53.1 L423.6,48.3 L423.2,47.8 L422.8,47.0 L422.4,45.0 L422.0,45.7ZM426.0,33.0 L426.4,33.9 L426.8,36.2 L427.2,39.7 L427.6,44.3 L428.0,49.9 L428.4,56.4 L428.8,63.9 L428.8,68.0 L428.4,61.1 L428.0,57.9 L427.6,52.8 L427.2,50.7 L426.8,48.6 L426.4,47.5 L426.0,48.5ZM429.0,35.0 L429.4,35.2 L429.8,35.7 L430.2,36.5 L430.6,37.5 L431.0,38.7 L431.4,40.2 L431.8,41.8 L432.2,43.6 L432.6,45.7 L433.0,47.9 L433.4,50.3 L433.8,52.9 L434.2,55.7 L434.6,58.7 L435.0,61.8 L435.4,65.1 L435.8,68.6 L436.2,72.2 L436.6,76.0 L437.0,80.0 L437.0,84.6 L436.6,80.8 L436.2,75.8 L435.8,75.6 L435.4,72.0 L435.0,69.1 L434.6,66.4 L434.2,65.1 L433.8,61.1 L433.4,59.5 L433.0,57.7 L432.6,56.3 L432.2,53.9 L431.8,53.6 L431.4,53.4 L431.0,50.4 L430.6,50.9 L430.2,50.5 L429.8,49.5 L429.4,48.5 L429.0,50.3ZM437.0,28.6 L437.4,28.7 L437.8,29.0 L438.2,29.4 L438.6,29.9 L439.0,30.5 L439.4,31.2 L439.8,32.1 L440.2,33.0 L440.6,34.1 L441.0,35.2 L441.4,36.5 L441.8,37.8 L442.2,39.2 L442.6,40.7 L443.0,42.3 L443.4,44.0 L443.8,45.8 L444.2,47.7 L444.6,49.6 L445.0,51.6 L445.4,53.7 L445.8,55.9 L446.2,58.2 L446.6,60.6 L447.0,63.0 L447.4,65.5 L447.8,68.1 L448.2,70.8 L448.6,73.6 L449.0,76.4 L449.4,79.3 L449.8,82.3 L450.2,85.3 L450.6,88.5 L451.0,91.7 L451.4,94.9 L451.8,98.3 L451.8,99.9 L451.4,97.7 L451.0,96.1 L450.6,91.9 L450.2,90.0 L449.8,87.6 L449.4,83.9 L449.0,81.5 L448.6,79.8 L448.2,77.2 L447.8,74.5 L447.4,73.9 L447.0,69.0 L446.6,68.6 L446.2,66.3 L445.8,63.4 L445.4,62.5 L445.0,59.8 L444.6,60.4 L444.2,56.2 L443.8,56.8 L443.4,54.9 L443.0,52.0 L442.6,53.0 L442.2,51.3 L441.8,51.3 L441.4,49.0 L441.0,49.4 L440.6,47.2 L440.2,46.6 L439.8,47.1 L439.4,44.7 L439.0,43.8 L438.6,44.4 L438.2,43.7 L437.8,43.2 L437.4,44.4 L437.0,44.2ZM452.0,40.0 L452.4,40.4 L452.8,41.5 L453.2,43.0 L453.6,45.1 L454.0,47.6 L454.4,50.6 L454.8,54.0 L455.2,57.7 L455.6,61.9 L456.0,66.5 L456.4,71.5 L456.8,76.8 L457.2,82.5 L457.6,88.6 L458.0,95.0 L458.0,97.1 L457.6,93.4 L457.2,86.3 L456.8,81.0 L456.4,77.6 L456.0,70.7 L455.6,69.2 L455.2,65.7 L454.8,59.6 L454.4,58.8 L454.0,56.8 L453.6,53.3 L453.2,52.8 L452.8,50.0 L452.4,49.1 L452.0,49.8ZM458.0,44.0 L458.4,44.4 L458.8,45.6 L459.2,47.2 L459.6,49.4 L460.0,52.1 L460.4,55.2 L460.8,58.8 L461.2,62.9 L461.6,67.3 L462.0,72.2 L462.4,77.4 L462.8,83.1 L463.2,89.2 L463.6,95.6 L464.0,102.4 L464.0,106.1 L463.6,99.2 L463.2,92.3 L462.8,88.0 L462.4,81.5 L462.0,77.2 L461.6,73.7 L461.2,70.3 L460.8,65.3 L460.4,63.7 L460.0,61.8 L459.6,60.1 L459.2,57.0 L458.8,56.6 L458.4,56.7 L458.0,55.6ZM464.2,29.2 L464.6,29.7 L465.0,31.1 L465.4,33.1 L465.8,35.7 L466.2,39.0 L466.6,42.8 L467.0,47.1 L467.4,52.0 L467.8,57.4 L468.2,63.3 L468.2,66.6 L467.8,62.0 L467.4,59.0 L467.0,55.7 L466.6,52.4 L466.2,48.0 L465.8,46.4 L465.4,43.6 L465.0,43.0 L464.6,41.6 L464.2,42.5ZM468.5,25.2 L468.9,26.4 L469.3,29.4 L469.7,34.0 L470.1,39.9 L470.5,47.2 L470.9,55.7 L470.9,60.1 L470.5,53.7 L470.1,46.8 L469.7,42.9 L469.3,40.8 L468.9,40.0 L468.5,40.8ZM471.0,25.2 L471.4,25.7 L471.8,27.0 L472.2,28.8 L472.6,31.3 L473.0,34.4 L473.4,37.9 L473.8,42.0 L474.2,46.5 L474.6,51.6 L475.0,57.1 L475.0,60.7 L474.6,55.6 L474.2,51.5 L473.8,50.5 L473.4,47.5 L473.0,45.2 L472.6,40.9 L472.2,39.3 L471.8,40.1 L471.4,39.5 L471.0,39.9ZM475.2,25.8 L475.6,26.9 L476.0,29.6 L476.4,33.7 L476.8,39.0 L477.2,45.6 L477.6,53.2 L478.0,62.0 L478.0,66.0 L477.6,59.1 L477.2,51.2 L476.8,46.1 L476.4,43.7 L476.0,39.8 L475.6,40.2 L475.2,40.0ZM478.0,26.0 L478.4,26.4 L478.8,27.4 L479.2,29.0 L479.6,31.0 L480.0,33.4 L480.4,36.3 L480.8,39.6 L481.2,43.3 L481.6,47.4 L482.0,51.9 L482.4,56.7 L482.8,62.0 L483.2,67.5 L483.6,73.5 L483.6,76.8 L483.2,72.1 L482.8,66.6 L482.4,63.8 L482.0,59.3 L481.6,56.1 L481.2,50.7 L480.8,47.6 L480.4,47.3 L480.0,44.9 L479.6,41.9 L479.2,40.3 L478.8,40.3 L478.4,39.7 L478.0,40.8ZM483.7,22.6 L484.1,23.6 L484.5,26.0 L484.9,29.6 L485.3,34.4 L485.7,40.3 L486.1,47.1 L486.5,55.0 L486.5,60.1 L486.1,53.2 L485.7,47.3 L485.3,42.3 L484.9,41.0 L484.5,37.8 L484.1,36.1 L483.7,37.9ZM486.5,22.6 L486.9,23.4 L487.3,25.5 L487.7,28.7 L488.1,32.8 L488.5,37.8 L488.9,43.7 L489.3,50.4 L489.3,55.2 L488.9,50.1 L488.5,44.1 L488.1,40.4 L487.7,40.1 L487.3,36.0 L486.9,36.1 L486.5,36.8ZM489.6,21.8 L490.0,23.1 L490.4,26.3 L490.8,31.2 L491.2,37.6 L491.6,45.5 L492.0,54.7 L492.4,65.2 L492.4,68.8 L492.0,59.1 L491.6,53.1 L491.2,45.4 L490.8,40.0 L490.4,38.7 L490.0,35.4 L489.6,36.8ZM492.5,21.8 L492.9,22.2 L493.3,23.2 L493.7,24.8 L494.1,26.8 L494.5,29.2 L494.9,32.1 L495.3,35.4 L495.7,39.1 L496.1,43.2 L496.5,47.6 L496.9,52.5 L497.3,57.7 L497.7,63.2 L498.1,69.1 L498.5,75.4 L498.9,82.0 L498.9,85.3 L498.5,79.3 L498.1,75.2 L497.7,68.9 L497.3,65.4 L496.9,60.9 L496.5,56.7 L496.1,51.8 L495.7,48.8 L495.3,44.0 L494.9,42.1 L494.5,41.0 L494.1,38.1 L493.7,36.1 L493.3,35.7 L492.9,36.5 L492.5,36.9ZM498.9,27.5 L499.3,30.6 L499.7,38.3 L500.1,49.8 L500.5,65.0 L500.5,68.4 L500.1,55.3 L499.7,48.1 L499.3,42.9 L498.9,40.6ZM500.5,27.5 L500.9,28.0 L501.3,29.2 L501.7,31.0 L502.1,33.4 L502.5,36.3 L502.9,39.7 L503.3,43.6 L503.7,48.0 L504.1,52.9 L504.5,58.2 L504.9,63.9 L505.3,70.1 L505.3,75.6 L504.9,69.8 L504.5,63.1 L504.1,59.7 L503.7,56.5 L503.3,51.9 L502.9,49.5 L502.5,46.2 L502.1,42.9 L501.7,41.9 L501.3,40.8 L500.9,40.3 L500.5,40.5ZM505.6,31.0 L506.0,34.0 L506.4,41.6 L506.8,53.0 L506.8,58.3 L506.4,49.6 L506.0,43.3 L505.6,43.8ZM507.0,31.0 L507.4,31.5 L507.8,32.7 L508.2,34.5 L508.6,36.9 L509.0,39.9 L509.4,43.3 L509.8,47.2 L510.2,51.7 L510.6,56.5 L511.0,61.9 L511.4,67.7 L511.8,73.9 L512.2,80.5 L512.2,83.6 L511.8,79.2 L511.4,72.0 L511.0,69.4 L510.6,64.3 L510.2,58.2 L509.8,54.5 L509.4,53.4 L509.0,49.9 L508.6,46.2 L508.2,46.8 L507.8,45.2 L507.4,45.6 L507.0,44.6ZM512.4,22.6 L512.8,23.5 L513.2,25.8 L513.6,29.3 L514.0,33.9 L514.4,39.5 L514.8,46.0 L514.8,49.7 L514.4,43.5 L514.0,39.8 L513.6,34.7 L513.2,32.4 L512.8,32.5 L512.4,32.9Z" fill="#000"/>
<path d="M240.06 26.2V19.2H240.18V26.2M240.30 26.1V19.1H240.42V26.1M240.12 19.2V19.1H240.36V19.1M240.54 43.4V36.4H240.66V43.4M240.78 53.2V46.2H240.90V53.2M240.84 46.2V24.8H241.02V31.8M240.60 36.4V20.2H240.93V24.8M240.77 20.2V19.2H241.14V26.2M241.26 31.1V24.1H241.38V31.1M241.32 24.1V21.1H241.50V28.1M240.95 19.2V18.9H241.41V21.1M240.24 19.1V18.7H241.18V18.9M241.74 29.7V22.7H241.86V29.7M241.98 31.6V24.6H242.10V31.6M242.34 49.6V42.6H242.46V49.6M242.22 34.6V27.6H242.40V42.6M242.58 33.9V26.9H242.70V33.9M242.31 27.6V26.7H242.64V26.9M242.04 24.6V24.0H242.48V26.7M241.80 22.7V22.2H242.26V24.0M241.62 28.7V21.7H242.03V22.2M242.82 45.7V38.7H242.94V45.7M243.06 47.7V40.7H243.18V47.7M242.88 38.7V20.9H243.12V40.7M241.82 21.7V20.4H243.00V20.9M242.41 20.4V18.9H243.30V25.9M240.71 18.7V18.1H242.86V18.9M243.66 40.5V33.5H243.78V40.5M243.54 33.6V26.6H243.72V33.5M243.90 54.0V47.0H244.02V54.0M243.96 47.0V21.4H244.14V28.4M243.63 26.6V20.2H244.05V21.4M243.42 26.5V19.5H243.84V20.2M244.26 30.7V23.7H244.38V30.7M244.50 30.6V23.6H244.62V30.6M244.32 23.7V21.7H244.56V23.6M244.98 33.5V26.5H245.10V33.5M244.86 32.5V25.5H245.04V26.5M244.74 32.0V25.0H244.95V25.5M244.85 25.0V24.8H245.22V31.8M245.34 60.5V53.5H245.46V60.5M245.40 53.5V52.0H245.58V59.0M245.49 52.0V32.6H245.70V39.6M245.82 39.3V32.3H245.94V39.3M245.60 32.6V30.4H245.88V32.3M245.03 24.8V22.7H245.74V30.4M244.44 21.7V21.3H245.39V22.7M246.06 40.9V33.9H246.18V40.9M244.91 21.3V19.1H246.12V33.9M246.54 60.3V53.3H246.66V60.3M247.02 35.1V28.1H247.14V35.1M247.26 42.0V35.0H247.38V42.0M247.32 35.0V27.4H247.50V34.4M247.08 28.1V25.2H247.41V27.4M246.90 28.8V21.8H247.25V25.2M246.78 28.5V21.5H247.07V21.8M246.60 53.3V21.3H246.93V21.5M246.42 26.9V19.9H246.76V21.3M247.62 59.3V52.3H247.74V59.3M247.68 52.3V30.0H247.86V37.0M247.98 51.1V44.1H248.10V51.1M247.77 30.0V25.6H248.04V44.1M248.22 58.9V51.9H248.34V58.9M248.46 36.8V29.8H248.58V36.8M248.70 37.7V30.7H248.82V37.7M248.52 29.8V28.7H248.76V30.7M248.28 51.9V26.2H248.64V28.7M247.91 25.6V20.8H248.46V26.2M246.59 19.9V19.7H248.18V20.8M246.30 26.3V19.3H247.39V19.7M245.52 19.1V19.0H246.84V19.3M248.94 37.9V30.9H249.06V37.9M249.30 40.8V33.8H249.42V40.8M249.54 60.9V53.9H249.66V60.9M249.36 33.8V32.1H249.60V53.9M249.48 32.1V25.4H249.78V32.4M249.18 26.7V19.7H249.63V25.4M249.00 30.9V19.6H249.41V19.7M250.02 59.1V52.1H250.14V59.1M249.90 31.4V24.4H250.08V52.1M249.99 24.4V19.8H250.26V26.8M250.50 32.6V25.6H250.62V32.6M250.56 25.6V19.9H250.74V26.9M250.38 26.7V19.7H250.65V19.9M250.13 19.8V19.6H250.52V19.7M249.20 19.6V18.7H250.32V19.6M246.18 19.0V18.7H249.76V18.7M250.98 50.3V43.3H251.10V50.3M251.04 43.3V22.1H251.22V29.1M250.86 27.3V20.3H251.13V22.1M251.34 29.7V22.7H251.46V29.7M251.58 54.6V47.6H251.70V54.6M251.94 32.2V25.2H252.06V32.2M251.82 30.5V23.5H252.00V25.2M252.18 40.2V33.2H252.30V40.2M251.91 23.5V22.4H252.24V33.2M251.64 47.6V21.5H252.08V22.4M251.40 22.7V20.1H251.86V21.5M252.42 40.5V33.5H252.54V40.5M251.63 20.1V19.4H252.48V33.5M251.00 20.3V19.0H252.05V19.4M252.78 26.7V19.7H252.90V26.7M252.66 26.4V19.4H252.84V19.7M251.52 19.0V19.0H252.75V19.4M253.02 42.3V35.3H253.14V42.3M252.14 19.0V19.0H253.08V35.3M253.50 60.1V53.1H253.62V60.1M253.74 36.4V29.4H253.86V36.4M253.56 53.1V20.0H253.80V29.4M253.38 26.7V19.7H253.68V20.0M253.26 26.4V19.4H253.53V19.7M252.61 19.0V18.7H253.40V19.4M253.98 52.6V45.6H254.10V52.6M254.04 45.6V39.4H254.22V46.4M254.34 35.1V28.1H254.46V35.1M254.13 39.4V21.8H254.40V28.1M254.27 21.8V20.6H254.58V27.6M253.00 18.7V18.6H254.42V20.6M254.70 34.1V27.1H254.82V34.1M254.76 27.1V24.4H254.94V31.4M255.06 48.0V41.0H255.18V48.0M255.12 41.0V22.2H255.30V29.2M254.85 24.4V22.0H255.21V22.2M255.42 32.8V25.8H255.54V32.8M255.03 22.0V18.9H255.48V25.8M255.90 35.1V28.1H256.02V35.1M256.26 42.6V35.6H256.38V42.6M256.14 35.6V28.6H256.32V35.6M256.23 28.6V28.0H256.50V35.0M255.96 28.1V28.0H256.37V28.0M255.78 33.6V26.6H256.16V28.0M255.66 33.0V26.0H255.97V26.6M256.62 37.9V30.9H256.74V37.9M255.82 26.0V24.6H256.68V30.9M256.86 40.1V33.1H256.98V40.1M257.10 38.7V31.7H257.22V38.7M256.92 33.1V25.0H257.16V31.7M256.25 24.6V21.4H257.04V25.0M257.46 39.0V32.0H257.58V39.0M257.70 28.3V21.3H257.82V28.3M258.06 32.5V25.5H258.18V32.5M257.94 28.9V21.9H258.12V25.5M258.42 40.6V33.6H258.54V40.6M258.30 35.3V28.3H258.48V33.6M258.03 21.9V21.7H258.39V28.3M258.66 51.6V44.6H258.78V51.6M258.90 33.3V26.3H259.02V33.3M258.72 44.6V25.6H258.96V26.3M258.21 21.7V21.3H258.84V25.6M257.76 21.3V20.4H258.53V21.3M257.52 32.0V19.4H258.14V20.4M257.34 26.1V19.1H257.83V19.4M259.26 33.4V26.4H259.38V33.4M259.50 41.1V34.1H259.62V41.1M259.56 34.1V23.7H259.74V30.7M259.86 31.9V24.9H259.98V31.9M259.65 23.7V22.5H259.92V24.9M259.32 26.4V20.4H259.79V22.5M259.55 20.4V20.1H260.10V27.1M260.22 41.4V34.4H260.34V41.4M260.46 28.2V21.2H260.58V28.2M260.82 52.5V45.5H260.94V52.5M260.70 40.3V33.3H260.88V45.5M260.79 33.3V21.6H261.06V28.6M261.42 47.5V40.5H261.54V47.5M261.30 42.1V35.1H261.48V40.5M261.18 29.3V22.3H261.39V35.1M261.78 61.6V54.6H261.90V61.6M262.02 45.9V38.9H262.14V45.9M261.84 54.6V28.2H262.08V38.9M261.66 30.3V23.3H261.96V28.2M262.26 33.9V26.9H262.38V33.9M262.74 53.7V46.7H262.86V53.7M262.62 32.7V25.7H262.80V46.7M262.98 34.4V27.4H263.10V34.4M262.71 25.7V25.5H263.04V27.4M262.50 32.4V25.4H262.88V25.5M262.32 26.9V25.1H262.69V25.4M261.81 23.3V21.8H262.50V25.1M261.29 22.3V21.3H262.16V21.8M260.93 21.6V21.1H261.72V21.3M260.52 21.2V20.6H261.32V21.1M263.22 34.9V27.9H263.34V34.9M263.28 27.9V27.5H263.46V34.5M263.82 48.0V41.0H263.94V48.0M263.70 37.3V30.3H263.88V41.0M263.58 35.0V28.0H263.79V30.3M264.06 38.8V31.8H264.18V38.8M263.69 28.0V22.6H264.12V31.8M263.37 27.5V20.8H263.90V22.6M260.92 20.6V20.3H263.64V20.8M262.28 20.3V20.2H264.30V27.2M260.28 34.4V20.0H263.29V20.2M264.42 33.1V26.1H264.54V33.1M264.66 60.7V53.7H264.78V60.7M264.90 33.7V26.7H265.02V33.7M265.14 32.7V25.7H265.26V32.7M265.20 25.7V24.7H265.38V31.7M265.62 40.1V33.1H265.74V40.1M265.68 33.1V28.0H265.86V35.0M265.50 32.7V25.7H265.77V28.0M265.29 24.7V24.4H265.64V25.7M264.96 26.7V24.3H265.46V24.4M264.72 53.7V22.6H265.21V24.3M264.48 26.1V20.7H264.97V22.6M261.78 20.0V19.7H264.72V20.7M259.83 20.1V19.6H263.25V19.7M261.54 19.6V19.4H265.98V26.4M259.14 26.2V19.2H263.76V19.4M257.59 19.1V19.1H261.45V19.2M256.64 21.4V18.8H259.52V19.1M255.26 18.9V18.7H258.08V18.8M253.71 18.6V18.6H256.67V18.7M247.97 18.7V18.4H255.19V18.6M243.63 19.5V18.3H251.58V18.4M241.78 18.1V18.1H247.61V18.3M266.18 30.7V23.7H266.30V30.7M266.54 30.7V23.7H266.66V30.7M267.02 33.6V26.6H267.14V33.6M267.38 36.8V29.8H267.50V36.8M267.44 29.8V28.9H267.62V35.9M267.86 46.4V39.4H267.98V46.4M267.74 43.5V36.5H267.92V39.4M267.83 36.5V34.3H268.10V41.3M268.34 48.5V41.5H268.46V48.5M268.58 49.0V42.0H268.70V49.0M268.64 42.0V41.9H268.82V48.9M269.18 51.5V44.5H269.30V51.5M269.24 44.5V39.9H269.42V46.9M269.06 46.2V39.2H269.33V39.9M268.94 44.8V37.8H269.20V39.2M268.73 41.9V36.0H269.07V37.8M268.40 41.5V34.5H268.90V36.0M268.22 41.1V34.1H268.65V34.5M267.97 34.3V29.8H268.43V34.1M267.53 28.9V27.0H268.20V29.8M267.26 33.7V26.7H267.86V27.0M267.08 26.6V25.4H267.56V26.7M266.90 31.1V24.1H267.32V25.4M266.78 29.5V22.5H267.11V24.1M266.60 23.7V22.0H266.95V22.5M266.42 28.1V21.1H266.77V22.0M266.24 23.7V21.0H266.60V21.1M266.06 25.8V18.8H266.42V21.0M269.68 33.8V26.8H269.80V33.8M269.92 32.1V25.1H270.04V32.1M269.74 26.8V20.8H269.98V25.1M270.40 40.4V33.4H270.52V40.4M270.46 33.4V32.3H270.64V39.3M270.55 32.3V29.6H270.76V36.6M271.00 40.5V33.5H271.12V40.5M270.88 39.8V32.8H271.06V33.5M270.66 29.6V29.5H270.97V32.8M270.28 32.4V25.4H270.81V29.5M271.48 34.7V27.7H271.60V34.7M271.72 38.5V31.5H271.84V38.5M271.96 44.7V37.7H272.08V44.7M272.02 37.7V32.8H272.20V39.8M272.44 46.8V39.8H272.56V46.8M272.32 44.3V37.3H272.50V39.8M272.68 48.6V41.6H272.80V48.6M272.92 50.8V43.8H273.04V50.8M272.98 43.8V40.3H273.16V47.3M273.64 53.5V46.5H273.76V53.5M273.52 52.6V45.6H273.70V46.5M273.61 45.6V44.8H273.88V51.8M273.40 50.7V43.7H273.75V44.8M273.28 49.7V42.7H273.57V43.7M273.07 40.3V39.7H273.43V42.7M272.74 41.6V38.6H273.25V39.7M272.41 37.3V35.6H272.99V38.6M272.11 32.8V32.6H272.70V35.6M271.78 31.5V30.0H272.41V32.6M271.54 27.7V27.6H272.09V30.0M271.36 33.3V26.3H271.82V27.6M271.24 32.6V25.6H271.59V26.3M270.55 25.4V24.9H271.41V25.6M270.16 31.5V24.5H270.98V24.9M269.86 20.8V20.1H270.57V24.5M269.56 26.0V19.0H270.22V20.1M274.06 27.9V20.9H274.18V27.9M274.30 27.6V20.6H274.42V27.6M274.54 39.7V32.7H274.66V39.7M274.60 32.7V31.1H274.78V38.1M275.14 37.3V30.3H275.26V37.3M275.20 30.3V28.4H275.38V35.4M275.86 40.6V33.6H275.98V40.6M275.92 33.6V31.7H276.10V38.7M276.22 39.9V32.9H276.34V39.9M276.01 31.7V30.7H276.28V32.9M275.74 36.3V29.3H276.15V30.7M275.62 35.1V28.1H275.94V29.3M276.58 43.7V36.7H276.70V43.7M276.94 48.5V41.5H277.06V48.5M277.30 50.4V43.4H277.42V50.4M277.18 48.6V41.6H277.36V43.4M277.00 41.5V40.6H277.27V41.6M277.90 51.6V44.6H278.02V51.6M278.14 59.9V52.9H278.26V59.9M278.38 58.9V51.9H278.50V58.9M278.98 72.2V65.2H279.10V72.2M279.22 70.8V63.8H279.34V70.8M279.04 65.2V59.2H279.28V63.8M278.86 64.1V57.1H279.16V59.2M278.74 61.7V54.7H279.01V57.1M278.62 60.6V53.6H278.88V54.7M278.44 51.9V51.0H278.75V53.6M278.20 52.9V48.1H278.59V51.0M277.96 44.6V44.4H278.40V48.1M277.78 49.1V42.1H278.18V44.4M277.66 47.4V40.4H277.98V42.1M277.54 47.1V40.1H277.82V40.4M277.14 40.6V38.0H277.68V40.1M276.82 40.6V33.6H277.41V38.0M276.64 36.7V30.5H277.11V33.6M276.46 35.5V28.5H276.88V30.5M275.78 28.1V27.9H276.67V28.5M275.50 33.6V26.6H276.22V27.9M275.29 28.4V25.3H275.86V26.6M275.02 31.1V24.1H275.58V25.3M274.90 29.3V22.3H275.30V24.1M274.69 31.1V21.7H275.10V22.3M274.36 20.6V20.3H274.89V21.7M274.12 20.9V19.3H274.63V20.3M279.46 38.6V31.6H279.58V38.6M279.94 40.0V33.0H280.06V40.0M280.54 45.7V38.7H280.66V45.7M280.78 50.4V43.4H280.90V50.4M280.84 43.4V36.8H281.02V43.8M280.60 38.7V35.8H280.93V36.8M281.62 47.9V40.9H281.74V47.9M281.50 46.8V39.8H281.68V40.9M281.38 45.7V38.7H281.59V39.8M281.26 45.5V38.5H281.49V38.7M281.14 45.2V38.2H281.37V38.5M281.86 48.5V41.5H281.98V48.5M281.92 41.5V40.8H282.10V47.8M282.01 40.8V39.2H282.22V46.2M282.46 51.4V44.4H282.58V51.4M282.34 51.1V44.1H282.52V44.4M282.43 44.1V40.3H282.70V47.3M282.12 39.2V39.1H282.57V40.3M281.26 38.2V37.4H282.34V39.1M280.77 35.8V35.6H281.80V37.4M280.42 41.5V34.5H281.28V35.6M280.30 40.9V33.9H280.85V34.5M280.18 40.6V33.6H280.58V33.9M280.00 33.0V32.9H280.38V33.6M279.82 39.3V32.3H280.19V32.9M279.70 39.2V32.2H280.00V32.3M279.52 31.6V31.5H279.85V32.2M283.10 41.8V34.8H283.22V41.8M283.34 31.3V24.3H283.46V31.3M283.94 52.0V45.0H284.06V52.0M283.82 42.9V35.9H284.00V45.0M284.30 51.7V44.7H284.42V51.7M284.18 42.3V35.3H284.36V44.7M284.90 51.8V44.8H285.02V51.8M285.14 49.0V42.0H285.26V49.0M285.86 59.5V52.5H285.98V59.5M285.74 57.3V50.3H285.92V52.5M285.62 55.8V48.8H285.83V50.3M285.50 54.4V47.4H285.73V48.8M285.38 52.7V45.7H285.61V47.4M285.20 42.0V41.7H285.50V45.7M284.96 44.8V41.5H285.35V41.7M284.78 46.7V39.7H285.15V41.5M284.66 43.7V36.7H284.97V39.7M284.54 39.7V32.7H284.81V36.7M284.27 35.3V32.4H284.68V32.7M283.91 35.9V30.4H284.47V32.4M283.70 33.4V26.4H284.19V30.4M283.58 31.8V24.8H283.95V26.4M283.40 24.3V24.2H283.76V24.8M283.16 34.8V23.3H283.58V24.2M282.98 29.6V22.6H283.37V23.3M282.86 29.2V22.2H283.18V22.6M286.18 34.9V27.9H286.30V34.9M286.06 34.7V27.7H286.24V27.9M286.90 47.2V40.2H287.02V47.2M287.50 50.9V43.9H287.62V50.9M288.46 63.4V56.4H288.58V63.4M288.34 61.3V54.3H288.52V56.4M288.22 60.2V53.2H288.43V54.3M288.10 57.7V50.7H288.33V53.2M287.98 55.6V48.6H288.21V50.7M287.86 53.5V46.5H288.10V48.6M287.74 51.2V44.2H287.98V46.5M287.56 43.9V42.0H287.86V44.2M287.38 45.5V38.5H287.71V42.0M287.26 44.5V37.5H287.54V38.5M287.14 42.0V35.0H287.40V37.5M286.96 40.2V32.9H287.27V35.0M286.78 35.7V28.7H287.12V32.9M286.66 35.4V28.4H286.95V28.7M286.54 33.6V26.6H286.80V28.4M286.42 32.6V25.6H286.67V26.6M286.15 27.7V24.3H286.55V25.6M289.24 51.7V44.7H289.36V51.7M289.12 35.8V28.8H289.30V44.7M289.60 52.6V45.6H289.72V52.6M290.08 62.3V55.3H290.20V62.3M290.14 55.3V53.4H290.32V60.4M290.80 67.0V60.0H290.92V67.0M290.68 63.3V56.3H290.86V60.0M290.56 60.6V53.6H290.77V56.3M290.44 58.1V51.1H290.67V53.6M290.23 53.4V47.0H290.55V51.1M289.96 47.7V40.7H290.39V47.0M289.84 46.4V39.4H290.18V40.7M289.66 45.6V36.5H290.01V39.4M289.48 38.6V31.6H289.83V36.5M289.21 28.8V27.6H289.66V31.6M289.00 31.3V24.3H289.43V27.6M288.88 30.0V23.0H289.22V24.3M288.76 29.6V22.6H289.05V23.0M291.06 43.4V36.4H291.18V43.4M291.12 36.4V25.8H291.30V32.8M291.66 52.7V45.7H291.78V52.7M291.54 50.8V43.8H291.72V45.7M292.14 51.8V44.8H292.26V51.8M292.20 44.8V41.2H292.38V48.2M292.62 52.7V45.7H292.74V52.7M292.50 52.3V45.3H292.68V45.7M292.59 45.3V41.9H292.86V48.9M292.98 54.0V47.0H293.10V54.0M293.34 59.0V52.0H293.46V59.0M293.70 62.4V55.4H293.82V62.4M293.76 55.4V54.9H293.94V61.9M293.58 60.3V53.3H293.85V54.9M293.40 52.0V49.6H293.72V53.3M293.22 52.8V45.8H293.56V49.6M293.04 47.0V44.1H293.39V45.8M292.73 41.9V39.9H293.21V44.1M292.29 41.2V37.0H292.97V39.9M292.02 42.2V35.2H292.63V37.0M291.90 41.9V34.9H292.32V35.2M291.63 43.8V33.5H292.11V34.9M291.42 34.3V27.3H291.87V33.5M291.21 25.8V25.5H291.65V27.3M294.06 55.6V48.6H294.18V55.6M294.42 45.9V38.9H294.54V45.9M294.30 40.5V33.5H294.48V38.9M294.90 48.9V41.9H295.02V48.9M294.96 41.9V37.3H295.14V44.3M295.26 49.2V42.2H295.38V49.2M295.50 55.1V48.1H295.62V55.1M295.86 61.8V54.8H295.98V61.8M296.10 65.4V58.4H296.22V65.4M296.34 61.8V54.8H296.46V61.8M296.16 58.4V51.9H296.40V54.8M295.92 54.8V46.9H296.28V51.9M295.74 53.1V46.1H296.10V46.9M295.56 48.1V41.2H295.92V46.1M295.32 42.2V39.8H295.74V41.2M295.05 37.3V32.7H295.53V39.8M294.78 38.5V31.5H295.29V32.7M294.66 35.1V28.1H295.04V31.5M294.39 33.5V27.1H294.85V28.1M294.12 48.6V24.4H294.62V27.1M296.56 39.9V32.9H296.68V39.9M297.04 46.2V39.2H297.16V46.2M296.92 40.4V33.4H297.10V39.2M298.24 53.1V46.1H298.36V53.1M298.60 63.2V56.2H298.72V63.2M298.84 64.9V57.9H298.96V64.9M298.66 56.2V53.2H298.90V57.9M298.48 57.4V50.4H298.78V53.2M298.30 46.1V44.6H298.63V50.4M298.12 50.2V43.2H298.47V44.6M298.00 48.7V41.7H298.29V43.2M297.88 46.9V39.9H298.15V41.7M297.76 44.7V37.7H298.01V39.9M297.64 44.3V37.3H297.89V37.7M297.52 41.4V34.4H297.76V37.3M297.40 39.1V32.1H297.64V34.4M297.28 38.9V31.9H297.52V32.1M297.01 33.4V28.8H297.40V31.9M296.80 30.4V23.4H297.21V28.8M296.62 32.9V22.7H297.00V23.4M299.18 31.1V24.1H299.30V31.1M299.42 33.6V26.6H299.54V33.6M299.66 41.0V34.0H299.78V41.0M300.50 52.4V45.4H300.62V52.4M300.38 50.7V43.7H300.56V45.4M300.74 48.3V41.3H300.86V48.3M300.47 43.7V41.2H300.80V41.3M301.34 60.6V53.6H301.46V60.6M301.82 63.3V56.3H301.94V63.3M301.70 60.6V53.6H301.88V56.3M301.58 58.1V51.1H301.79V53.6M301.40 53.6V49.8H301.69V51.1M301.22 52.2V45.2H301.54V49.8M301.10 49.8V42.8H301.38V45.2M300.98 49.8V42.8H301.24V42.8M300.64 41.2V39.9H301.11V42.8M300.26 45.8V38.8H300.87V39.9M300.14 43.2V36.2H300.57V38.8M300.02 42.0V35.0H300.35V36.2M299.90 39.8V32.8H300.19V35.0M299.72 34.0V29.8H300.04V32.8M299.48 26.6V26.4H299.88V29.8M299.24 24.1V23.5H299.68V26.4M299.06 29.0V22.0H299.46V23.5M302.18 30.0V23.0H302.30V30.0M302.42 46.1V39.1H302.54V46.1M302.48 39.1V37.4H302.66V44.4M302.90 55.8V48.8H303.02V55.8M302.78 43.0V36.0H302.96V48.8M303.38 51.5V44.5H303.50V51.5M303.62 50.7V43.7H303.74V50.7M303.44 44.5V30.3H303.68V43.7M303.26 37.3V30.3H303.56V30.3M303.98 41.2V34.2H304.10V41.2M304.22 49.3V42.3H304.34V49.3M304.04 34.2V34.1H304.28V42.3M304.70 60.3V53.3H304.82V60.3M304.76 53.3V51.0H304.94V58.0M304.58 47.4V40.4H304.85V51.0M305.42 58.7V51.7H305.54V58.7M305.30 56.2V49.2H305.48V51.7M305.18 55.1V48.1H305.39V49.2M306.02 68.3V61.3H306.14V68.3M306.26 69.5V62.5H306.38V69.5M306.50 77.6V70.6H306.62V77.6M306.56 70.6V68.3H306.74V75.3M306.65 68.3V63.9H306.86V70.9M306.32 62.5V62.0H306.76V63.9M306.08 61.3V58.7H306.54V62.0M305.90 63.1V56.1H306.31V58.7M305.78 62.8V55.8H306.10V56.1M305.66 59.1V52.1H305.94V55.8M305.29 48.1V47.3H305.80V52.1M305.06 53.9V46.9H305.54V47.3M304.72 40.4V40.0H305.30V46.9M304.46 47.0V40.0H305.01V40.0M304.16 34.1V34.1H304.73V40.0M303.86 39.5V32.5H304.45V34.1M303.41 30.3V29.5H304.15V32.5M303.14 34.4V27.4H303.78V29.5M302.87 36.0V26.9H303.46V27.4M302.57 37.4V23.6H303.17V26.9M302.24 23.0V22.8H302.87V23.6M302.06 29.4V22.4H302.55V22.8M299.26 22.0V20.3H302.31V22.4M296.81 22.7V20.3H300.78V20.3M294.37 24.4V20.3H298.80V20.3M291.43 25.5V20.3H296.58V20.3M307.20 35.9V28.9H307.32V35.9M307.56 65.9V58.9H307.68V65.9M307.44 36.7V29.7H307.62V58.9M307.92 54.9V47.9H308.04V54.9M308.40 48.5V41.5H308.52V48.5M308.64 50.6V43.6H308.76V50.6M308.46 41.5V39.6H308.70V43.6M308.28 45.8V38.8H308.58V39.6M308.16 43.3V36.3H308.43V38.8M307.98 47.9V33.1H308.30V36.3M307.80 39.9V32.9H308.14V33.1M309.00 53.5V46.5H309.12V53.5M308.88 35.8V28.8H309.06V46.5M307.97 32.9V27.5H308.97V28.8M307.53 29.7V27.5H308.47V27.5M307.26 28.9V26.8H308.00V27.5M307.08 32.3V25.3H307.63V26.8M309.36 50.7V43.7H309.48V50.7M309.24 45.3V38.3H309.42V43.7M309.33 38.3V23.7H309.60V30.7M309.72 62.3V55.3H309.84V62.3M310.20 44.6V37.6H310.32V44.6M310.68 54.5V47.5H310.80V54.5M310.56 43.2V36.2H310.74V47.5M310.44 42.0V35.0H310.65V36.2M310.26 37.6V33.2H310.55V35.0M310.08 39.8V32.8H310.40V33.2M309.96 37.3V30.3H310.24V32.8M311.04 66.0V59.0H311.16V66.0M310.92 47.5V40.5H311.10V59.0M311.28 54.2V47.2H311.40V54.2M311.01 40.5V36.0H311.34V47.2M311.18 36.0V31.2H311.52V38.2M311.35 31.2V31.1H311.64V38.1M310.10 30.3V27.8H311.49V31.1M311.76 34.4V27.4H311.88V34.4M310.80 27.8V26.5H311.82V27.4M312.36 45.7V38.7H312.48V45.7M312.60 42.7V35.7H312.72V42.7M312.66 35.7V33.6H312.84V40.6M313.20 47.4V40.4H313.32V47.4M313.26 40.4V39.9H313.44V46.9M313.08 45.3V38.3H313.35V39.9M312.96 45.1V38.1H313.22V38.3M312.75 33.6V33.6H313.09V38.1M312.42 38.7V33.6H312.92V33.6M312.24 38.5V31.5H312.67V33.6M313.68 53.3V46.3H313.80V53.3M313.56 52.7V45.7H313.74V46.3M314.40 64.1V57.1H314.52V64.1M314.28 60.9V53.9H314.46V57.1M314.16 60.3V53.3H314.37V53.9M314.04 58.9V51.9H314.27V53.3M313.92 56.0V49.0H314.15V51.9M313.65 45.7V45.5H314.04V49.0M312.45 31.5V30.3H313.84V45.5M312.12 35.6V28.6H313.15V30.3M314.88 59.7V52.7H315.00V59.7M314.94 52.7V40.7H315.12V47.7M314.76 42.9V35.9H315.03V40.7M315.36 60.5V53.5H315.48V60.5M315.60 46.5V39.5H315.72V46.5M315.84 47.7V40.7H315.96V47.7M316.08 53.6V46.6H316.20V53.6M316.14 46.6V44.9H316.32V51.9M316.56 56.9V49.9H316.68V56.9M317.04 64.4V57.4H317.16V64.4M316.92 60.2V53.2H317.10V57.4M316.80 56.8V49.8H317.01V53.2M316.62 49.9V48.3H316.91V49.8M316.44 52.7V45.7H316.76V48.3M316.23 44.9V42.6H316.60V45.7M315.90 40.7V39.8H316.42V42.6M315.66 39.5V39.3H316.16V39.8M315.42 53.5V37.7H315.91V39.3M315.24 41.1V34.1H315.66V37.7M314.90 35.9V33.5H315.45V34.1M317.28 68.6V61.6H317.40V68.6M317.34 61.6V44.9H317.52V51.9M317.64 42.0V35.0H317.76V42.0M318.00 55.8V48.8H318.12V55.8M317.88 52.0V45.0H318.06V48.8M318.24 42.8V35.8H318.36V42.8M318.30 35.8V35.6H318.48V42.6M317.97 45.0V34.9H318.39V35.6M317.70 35.0V34.0H318.18V34.9M317.43 44.9V33.7H317.94V34.0M315.17 33.5V32.6H317.69V33.7M318.60 52.5V45.5H318.72V52.5M318.96 50.4V43.4H319.08V50.4M319.20 50.5V43.5H319.32V50.5M319.02 43.4V41.9H319.26V43.5M318.84 47.7V40.7H319.14V41.9M318.66 45.5V39.5H318.99V40.7M319.44 69.2V62.2H319.56V69.2M319.68 55.3V48.3H319.80V55.3M319.50 62.2V44.7H319.74V48.3M320.04 48.9V41.9H320.16V48.9M319.92 46.0V39.0H320.10V41.9M320.01 39.0V34.3H320.28V41.3M320.52 63.5V56.5H320.64V63.5M320.40 59.0V52.0H320.58V56.5M320.88 48.4V41.4H321.00V48.4M321.12 60.2V53.2H321.24V60.2M321.18 53.2V41.5H321.36V48.5M321.27 41.5V40.6H321.48V47.6M321.60 47.9V40.9H321.72V47.9M321.38 40.6V40.3H321.66V40.9M320.94 41.4V38.0H321.52V40.3M320.76 43.2V36.2H321.23V38.0M322.08 61.4V54.4H322.20V61.4M322.56 68.6V61.6H322.68V68.6M322.44 64.6V57.6H322.62V61.6M322.53 57.6V49.1H322.80V56.1M322.32 53.3V46.3H322.67V49.1M322.14 54.4V46.1H322.49V46.3M321.96 48.9V41.9H322.32V46.1M321.84 47.7V40.7H322.14V41.9M323.04 64.5V57.5H323.16V64.5M323.28 67.4V60.4H323.40V67.4M323.10 57.5V55.3H323.34V60.4M322.92 59.2V52.2H323.22V55.3M323.07 52.2V42.8H323.52V49.8M323.30 42.8V42.2H323.64V49.2M324.12 55.3V48.3H324.24V55.3M324.00 49.3V42.3H324.18V48.3M324.36 61.0V54.0H324.48V61.0M324.60 52.5V45.5H324.72V52.5M324.66 45.5V45.0H324.84V52.0M325.08 64.2V57.2H325.20V64.2M324.96 59.0V52.0H325.14V57.2M325.32 55.6V48.6H325.44V55.6M325.68 57.1V50.1H325.80V57.1M326.28 63.2V56.2H326.40V63.2M326.16 60.2V53.2H326.34V56.2M326.04 59.2V52.2H326.25V53.2M325.92 57.9V50.9H326.15V52.2M326.88 70.7V63.7H327.00V70.7M326.76 65.6V58.6H326.94V63.7M326.64 63.2V56.2H326.85V58.6M326.52 62.6V55.6H326.75V56.2M326.03 50.9V50.6H326.63V55.6M327.12 67.1V60.1H327.24V67.1M327.18 60.1V57.1H327.36V64.1M326.33 50.6V50.4H327.27V57.1M325.74 50.1V50.0H326.80V50.4M325.56 55.8V48.8H326.27V50.0M325.38 48.6V47.6H325.92V48.8M325.05 52.0V47.3H325.65V47.6M327.72 71.0V64.0H327.84V71.0M327.78 64.0V53.0H327.96V60.0M327.60 56.4V49.4H327.87V53.0M328.20 56.9V53.9H328.32V56.9M328.08 53.0V50.0H328.26V53.9M328.44 52.1V49.1H328.56V52.1M328.17 50.0V49.0H328.50V49.1M328.80 62.0V59.0H328.92V62.0M328.86 59.0V55.3H329.04V58.3M329.28 66.5V63.5H329.40V66.5M329.64 65.3V62.3H329.76V65.3M330.00 65.9V62.9H330.12V65.9M329.88 60.6V57.6H330.06V62.9M329.70 62.3V57.1H329.97V57.6M329.52 58.9V55.9H329.84V57.1M329.34 63.5V54.8H329.68V55.9M329.16 56.1V53.1H329.51V54.8M328.95 55.3V52.8H329.33V53.1M330.24 64.7V61.7H330.36V64.7M329.14 52.8V51.1H330.30V61.7M330.48 70.0V67.0H330.60V70.0M330.54 67.0V61.9H330.72V64.9M331.08 71.2V68.2H331.20V71.2M331.14 68.2V66.1H331.32V69.1M330.96 68.0V65.0H331.23V66.1M330.84 59.8V56.8H331.10V65.0M330.97 56.8V55.6H331.44V58.6M331.68 65.9V62.9H331.80V65.9M331.74 62.9V57.6H331.92V60.6M332.04 61.1V58.1H332.16V61.1M332.40 73.0V70.0H332.52V73.0M332.28 58.9V55.9H332.46V70.0M332.10 58.1V55.2H332.37V55.9M331.83 57.6V54.6H332.24V55.2M332.64 74.4V71.4H332.76V74.4M332.88 71.3V68.3H333.00V71.3M332.70 71.4V58.1H332.94V68.3M333.36 66.7V63.7H333.48V66.7M333.24 64.8V61.8H333.42V63.7M333.12 64.0V61.0H333.33V61.8M333.60 67.5V64.5H333.72V67.5M333.66 64.5V64.2H333.84V67.2M333.23 61.0V57.8H333.75V64.2M334.20 77.2V74.2H334.32V77.2M334.08 75.5V72.5H334.26V74.2M333.96 75.4V72.4H334.17V72.5M334.07 72.4V70.5H334.44V73.5M334.68 80.3V77.3H334.80V80.3M334.56 77.2V74.2H334.74V77.3M334.92 70.4V67.4H335.04V70.4M334.98 67.4V64.1H335.16V67.1M334.65 74.2V62.2H335.07V64.1M335.40 79.2V76.2H335.52V79.2M335.28 79.0V76.0H335.46V76.2M335.64 66.8V63.8H335.76V66.8M335.37 76.0V63.6H335.70V63.8M335.54 63.6V62.9H335.88V65.9M336.12 70.7V67.7H336.24V70.7M336.36 77.9V74.9H336.48V77.9M336.72 74.8V71.8H336.84V74.8M336.60 71.8V68.8H336.78V71.8M336.42 74.9V67.0H336.69V68.8M337.20 82.7V79.7H337.32V82.7M337.44 76.2V73.2H337.56V76.2M337.26 79.7V72.8H337.50V73.2M337.38 72.8V71.3H337.68V74.3M337.08 71.7V68.7H337.53V71.3M337.80 84.7V81.7H337.92V84.7M337.86 81.7V76.8H338.04V79.8M338.28 82.3V79.3H338.40V82.3M338.16 81.2V78.2H338.34V79.3M337.95 76.8V72.2H338.25V78.2M338.64 85.5V82.5H338.76V85.5M338.52 81.4V78.4H338.70V82.5M338.61 78.4V71.0H338.88V74.0M339.12 86.7V83.7H339.24V86.7M339.00 86.3V83.3H339.18V83.7M339.48 88.5V85.5H339.60V88.5M339.36 86.6V83.6H339.54V85.5M339.96 88.7V85.7H340.08V88.7M340.56 82.9V79.9H340.68V82.9M340.44 81.8V78.8H340.62V79.9M340.32 81.5V78.5H340.53V78.8M340.20 80.4V77.4H340.43V78.5M341.16 87.9V84.9H341.28V87.9M341.04 86.2V83.2H341.22V84.9M340.92 85.0V82.0H341.13V83.2M340.80 84.8V81.8H341.03V82.0M341.64 90.5V87.5H341.76V90.5M341.52 87.7V84.7H341.70V87.5M342.12 95.6V92.6H342.24V95.6M342.36 91.2V88.2H342.48V91.2M342.18 92.6V87.5H342.42V88.2M342.00 89.2V86.2H342.30V87.5M341.88 89.0V86.0H342.15V86.2M342.02 86.0V84.7H342.60V87.7M342.84 98.0V95.0H342.96V98.0M342.72 97.8V94.8H342.90V95.0M342.81 94.8V86.1H343.08V89.1M343.32 90.9V87.9H343.44V90.9M343.20 90.1V87.1H343.38V87.9M343.68 92.8V89.8H343.80V92.8M343.56 92.2V89.2H343.74V89.8M344.40 101.4V98.4H344.52V101.4M344.46 98.4V96.0H344.64V99.0M344.28 97.4V94.4H344.55V96.0M344.76 101.3V98.3H344.88V101.3M344.42 94.4V94.3H344.82V98.3M345.24 106.9V103.9H345.36V106.9M345.12 104.9V101.9H345.30V103.9M345.00 102.0V99.0H345.21V101.9M345.60 101.5V98.5H345.72V101.5M345.84 108.9V105.9H345.96V108.9M346.80 110.0V107.0H346.92V110.0M347.16 113.2V110.2H347.28V113.2M347.52 113.7V110.7H347.64V113.7M347.58 110.7V110.3H347.76V113.3M347.88 114.6V111.6H348.00V114.6M347.67 110.3V109.2H347.94V111.6M347.40 111.9V108.9H347.81V109.2M348.60 118.4V115.4H348.72V118.4M348.66 115.4V114.5H348.84V117.5M349.32 124.2V121.2H349.44V124.2M349.68 126.4V123.4H349.80V126.4M349.74 123.4V122.8H349.92V125.8M350.04 125.7V122.7H350.16V125.7M350.76 132.5V129.5H350.88V132.5M351.12 136.9V133.9H351.24V136.9M351.48 140.8V137.8H351.60V140.8M351.36 140.1V137.1H351.54V137.8M351.72 141.8V138.8H351.84V141.8M351.96 141.3V138.3H352.08V141.3M352.32 146.3V143.3H352.44V146.3M352.68 146.4V143.4H352.80V146.4M352.74 143.4V143.1H352.92V146.1M352.56 145.3V142.3H352.83V143.1M352.38 143.3V140.9H352.70V142.3M352.20 141.9V138.9H352.54V140.9M352.02 138.3V137.7H352.37V138.9M351.78 138.8V135.9H352.19V137.7M351.45 137.1V134.7H351.99V135.9M351.18 133.9V132.4H351.72V134.7M351.00 134.8V131.8H351.45V132.4M350.82 129.5V128.5H351.22V131.8M350.64 129.5V126.5H351.02V128.5M350.52 129.2V126.2H350.83V126.5M350.40 129.2V126.2H350.68V126.2M350.28 126.0V123.0H350.54V126.2M350.10 122.7V122.5H350.41V123.0M349.83 122.8V121.0H350.25V122.5M349.56 121.7V118.7H350.04V121.0M349.38 121.2V117.9H349.80V118.7M349.20 119.7V116.7H349.59V117.9M349.08 117.8V114.8H349.40V116.7M348.96 117.0V114.0H349.24V114.8M348.75 114.5V113.9H349.10V114.0M348.48 114.9V111.9H348.92V113.9M348.36 114.0V111.0H348.70V111.9M348.24 113.5V110.5H348.53V111.0M348.12 112.5V109.5H348.39V110.5M347.60 108.9V108.8H348.25V109.5M347.22 110.2V107.8H347.93V108.8M347.04 109.9V106.9H347.57V107.8M346.86 107.0V106.2H347.31V106.9M346.68 107.3V104.3H347.08V106.2M346.56 106.5V103.5H346.88V104.3M346.44 106.2V103.2H346.72V103.5M346.32 105.5V102.5H346.58V103.2M346.20 104.3V101.3H346.45V102.5M346.08 103.3V100.3H346.33V101.3M345.90 105.9V100.0H346.20V100.3M345.66 98.5V97.3H346.05V100.0M345.48 100.0V97.0H345.86V97.3M345.11 99.0V96.9H345.67V97.0M344.62 94.3V94.0H345.39V96.9M344.16 96.1V93.1H345.00V94.0M344.04 95.5V92.5H344.58V93.1M343.92 94.5V91.5H344.31V92.5M343.65 89.2V88.5H344.12V91.5M343.29 87.1V86.9H343.88V88.5M342.95 86.1V85.6H343.59V86.9M342.31 84.7V83.9H343.27V85.6M341.61 84.7V82.7H342.79V83.9M341.40 85.3V82.3H342.20V82.7M340.91 81.8V80.3H341.80V82.3M340.31 77.4V76.6H341.36V80.3M340.02 85.7V76.2H340.83V76.6M339.84 77.8V74.8H340.43V76.2M339.72 76.4V73.4H340.13V74.8M339.45 83.6V72.8H339.93V73.4M339.09 83.3V71.8H339.69V72.8M338.75 71.0V70.8H339.39V71.8M338.10 72.2V70.1H339.07V70.8M337.31 68.7V68.7H338.58V70.1M336.96 70.2V67.2H337.94V68.7M336.56 67.0V66.9H337.45V67.2M336.18 67.7V66.4H337.00V66.9M336.00 67.6V64.6H336.59V66.4M335.71 62.9V62.8H336.30V64.6M334.86 62.2V61.7H336.00V62.8M334.25 70.5V59.6H335.43V61.7M333.49 57.8V57.5H334.84V59.6M332.82 58.1V57.3H334.16V57.5M332.03 54.6V54.3H333.49V57.3M331.56 56.1V53.1H332.76V54.3M331.20 55.6V51.9H332.16V53.1M330.63 61.9V51.8H331.68V51.9M329.72 51.1V51.0H331.16V51.8M328.68 52.7V49.7H330.44V51.0M328.34 49.0V48.7H329.56V49.7M327.74 49.4V48.0H328.95V48.7M327.48 54.0V47.0H328.34V48.0M325.35 47.3V47.0H327.91V47.0M324.75 45.0V44.8H326.63V47.0M324.42 54.0V43.5H325.69V44.8M324.09 42.3V41.9H325.05V43.5M323.88 47.4V40.4H324.57V41.9M323.76 46.5V39.5H324.23V40.4M323.47 42.2V39.0H323.99V39.5M321.99 40.7V37.0H323.73V39.0M320.99 36.2V36.0H322.86V37.0M320.49 52.0V35.1H321.93V36.0M320.15 34.3V33.9H321.21V35.1M319.62 44.7V33.7H320.68V33.9M318.83 39.5V33.2H320.15V33.7M316.43 32.6V32.1H319.49V33.2M314.64 36.6V29.6H317.96V32.1M312.63 28.6V28.5H316.30V29.6M312.00 35.1V28.1H314.47V28.5M311.31 26.5V26.5H313.23V28.1M309.78 55.3V24.6H312.27V26.5M309.47 23.7V23.7H311.03V24.6M307.35 25.3V23.4H310.25V23.7M306.96 29.2V22.2H308.80V23.4M353.18 50.7V47.7H353.30V50.7M353.24 47.7V44.2H353.42V47.2M353.54 42.6V39.6H353.66V42.6M353.90 46.9V43.9H354.02V50.9M354.62 54.9V47.9H354.74V54.9M354.50 48.6V41.6H354.68V47.9M354.38 48.4V41.4H354.59V41.6M354.98 56.5V49.5H355.10V56.5M354.86 53.9V46.9H355.04V49.5M355.34 56.2V49.2H355.46V56.2M355.82 64.5V57.5H355.94V64.5M355.70 61.7V54.7H355.88V57.5M355.58 60.0V53.0H355.79V54.7M355.40 49.2V48.0H355.69V53.0M355.22 52.9V45.9H355.54V48.0M354.95 46.9V42.1H355.38V45.9M354.49 41.4V41.1H355.17V42.1M354.26 44.1V37.1H354.83V41.1M354.14 43.4V36.4H354.54V37.1M353.96 43.9V32.5H354.34V36.4M353.78 33.5V30.5H354.15V32.5M353.60 39.6V27.7H353.97V30.5M353.33 44.2V26.0H353.78V27.7M353.06 26.0V23.0H353.56V26.0M355.68 51.6V44.6H355.80V51.6M355.56 30.9V23.9H355.74V44.6M355.92 33.0V26.0H356.04V33.0M356.16 45.5V38.5H356.28V45.5M356.22 38.5V28.9H356.40V35.9M356.52 52.9V45.9H356.64V52.9M356.58 45.9V35.5H356.76V42.5M357.36 55.3V48.3H357.48V55.3M357.24 43.9V36.9H357.42V48.3M357.12 43.7V36.7H357.33V36.9M357.00 43.3V36.3H357.23V36.7M357.72 52.2V45.2H357.84V52.2M357.96 52.9V45.9H358.08V52.9M358.20 62.1V55.1H358.32V62.1M359.04 69.3V62.3H359.16V69.3M359.10 62.3V60.3H359.28V67.3M358.92 63.4V56.4H359.19V60.3M358.80 61.1V54.1H359.06V56.4M358.68 60.6V53.6H358.93V54.1M358.56 57.2V50.2H358.80V53.6M358.44 55.0V48.0H358.68V50.2M358.26 55.1V45.9H358.56V48.0M358.02 45.9V45.6H358.41V45.9M357.78 45.2V41.8H358.22V45.6M357.60 43.8V36.8H358.00V41.8M357.11 36.3V35.8H357.80V36.8M356.88 41.6V34.6H357.46V35.8M356.67 35.5V29.3H357.17V34.6M356.31 28.9V28.8H356.92V29.3M355.98 26.0V24.7H356.61V28.8M355.65 23.9V23.9H356.30V24.7M359.36 49.6V42.6H359.48V49.6M359.72 51.6V44.6H359.84V51.6M359.60 49.9V42.9H359.78V44.6M360.08 49.2V42.2H360.20V49.2M360.32 47.5V40.5H360.44V47.5M360.80 54.0V47.0H360.92V54.0M361.16 55.4V48.4H361.28V55.4M361.04 53.9V46.9H361.22V48.4M360.86 47.0V43.6H361.13V46.9M360.68 45.0V38.0H361.00V43.6M360.56 44.7V37.7H360.84V38.0M361.40 47.3V40.3H361.52V47.3M361.64 50.6V43.6H361.76V50.6M361.88 53.5V46.5H362.00V53.5M362.12 61.4V54.4H362.24V61.4M362.36 60.8V53.8H362.48V60.8M362.72 68.3V61.3H362.84V68.3M363.44 78.6V71.6H363.56V78.6M363.68 82.1V75.1H363.80V82.1M363.74 75.1V74.8H363.92V81.8M363.50 71.6V70.5H363.83V74.8M363.32 72.6V65.6H363.67V70.5M363.20 70.7V63.7H363.49V65.6M363.08 69.2V62.2H363.35V63.7M362.96 66.5V59.5H363.21V62.2M362.78 61.3V56.7H363.09V59.5M362.60 60.4V53.4H362.93V56.7M362.42 53.8V50.9H362.77V53.4M362.18 54.4V47.1H362.59V50.9M361.94 46.5V44.1H362.39V47.1M361.70 43.6V40.9H362.16V44.1M361.46 40.3V37.8H361.93V40.9M360.70 37.7V36.5H361.70V37.8M360.38 40.5V34.5H361.20V36.5M360.14 42.2V30.3H360.79V34.5M359.96 36.3V29.3H360.46V30.3M359.69 42.9V27.5H360.21V29.3M359.42 42.6V25.3H359.95V27.5M364.18 44.2V37.2H364.30V44.2M364.42 43.3V36.3H364.54V43.3M364.66 38.3V31.3H364.78V38.3M365.02 56.6V49.6H365.14V56.6M364.90 56.0V49.0H365.08V49.6M365.50 57.3V50.3H365.62V57.3M365.38 48.8V41.8H365.56V50.3M365.26 44.9V37.9H365.47V41.8M364.99 49.0V35.5H365.37V37.9M365.98 48.4V41.4H366.10V48.4M366.34 59.3V52.3H366.46V59.3M366.94 64.4V57.4H367.06V64.4M367.42 67.6V60.6H367.54V67.6M367.90 70.1V63.1H368.02V70.1M368.14 78.7V71.7H368.26V78.7M368.38 78.6V71.6H368.50V78.6M368.20 71.7V69.4H368.44V71.6M367.96 63.1V62.3H368.32V69.4M367.78 67.5V60.5H368.14V62.3M367.66 66.3V59.3H367.96V60.5M367.48 60.6V55.5H367.81V59.3M367.30 62.1V55.1H367.65V55.5M367.18 58.2V51.2H367.47V55.1M367.00 57.4V48.7H367.33V51.2M366.82 54.6V47.6H367.16V48.7M366.70 51.7V44.7H366.99V47.6M366.58 50.2V43.2H366.85V44.7M366.40 52.3V41.0H366.71V43.2M366.22 47.0V40.0H366.56V41.0M366.04 41.4V38.5H366.39V40.0M365.86 43.7V36.7H366.21V38.5M365.74 42.0V35.0H366.04V36.7M365.18 35.5V33.7H365.89V35.0M364.72 31.3V30.6H365.53V33.7M364.48 36.3V29.5H365.13V30.6M364.24 37.2V26.5H364.80V29.5M364.06 33.0V26.0H364.52V26.5M368.78 50.3V43.3H368.90V50.3M368.84 43.3V39.4H369.02V46.4M368.66 36.9V29.9H368.93V39.4M369.50 58.4V51.4H369.62V58.4M369.74 60.0V53.0H369.86V60.0M369.56 51.4V50.6H369.80V53.0M369.38 44.0V37.0H369.68V50.6M369.53 37.0V35.9H369.98V42.9M369.26 38.3V31.3H369.76V35.9M369.14 37.8V30.8H369.51V31.3M368.80 29.9V29.4H369.32V30.8M370.10 49.5V42.5H370.22V49.5M370.34 59.4V52.4H370.46V59.4M370.40 52.4V51.0H370.58V58.0M370.16 42.5V39.1H370.49V51.0M370.70 57.9V50.9H370.82V57.9M370.33 39.1V38.8H370.76V50.9M370.94 44.3V37.3H371.06V44.3M370.54 38.8V34.6H371.00V37.3M371.18 44.5V37.5H371.30V44.5M371.42 61.2V54.2H371.54V61.2M371.24 37.5V35.6H371.48V54.2M371.66 49.8V42.8H371.78V49.8M372.38 60.9V53.9H372.50V60.9M372.26 55.2V48.2H372.44V53.9M372.74 57.7V50.7H372.86V57.7M372.62 52.0V45.0H372.80V50.7M372.35 48.2V42.9H372.71V45.0M373.10 57.0V50.0H373.22V57.0M372.98 55.6V48.6H373.16V50.0M373.46 70.1V63.1H373.58V70.1M373.52 63.1V53.7H373.70V60.7M373.34 55.7V48.7H373.61V53.7M373.82 65.8V58.8H373.94V65.8M374.06 70.7V63.7H374.18V70.7M374.30 70.1V63.1H374.42V70.1M374.12 63.7V62.3H374.36V63.1M374.24 62.3V54.9H374.54V61.9M374.90 74.4V67.4H375.02V74.4M374.78 65.7V58.7H374.96V67.4M375.14 66.2V59.2H375.26V66.2M375.38 71.2V64.2H375.50V71.2M375.62 73.9V66.9H375.74V73.9M376.22 79.9V72.9H376.34V79.9M376.46 80.7V73.7H376.58V80.7M376.94 91.2V84.2H377.06V91.2M377.18 92.4V85.4H377.30V92.4M377.54 92.8V85.8H377.66V92.8M377.42 90.9V83.9H377.60V85.8M377.24 85.4V83.3H377.51V83.9M377.78 95.2V88.2H377.90V95.2M378.38 102.9V95.9H378.50V102.9M378.26 99.4V92.4H378.44V95.9M378.86 102.2V95.2H378.98V102.2M378.74 101.2V94.2H378.92V95.2M378.62 99.4V92.4H378.83V94.2M378.35 92.4V90.7H378.73V92.4M378.14 95.5V88.5H378.54V90.7M378.02 92.5V85.5H378.34V88.5M377.84 88.2V85.5H378.18V85.5M377.38 83.3V81.5H378.01V85.5M377.00 84.2V80.5H377.69V81.5M376.82 82.6V75.6H377.35V80.5M376.70 82.4V75.4H377.08V75.6M376.52 73.7V72.0H376.89V75.4M376.28 72.9V71.2H376.71V72.0M376.10 76.0V69.0H376.49V71.2M375.98 75.4V68.4H376.30V69.0M375.86 73.1V66.1H376.14V68.4M375.68 66.9V64.6H376.00V66.1M375.44 64.2V60.6H375.84V64.6M375.20 59.2V59.0H375.64V60.6M374.87 58.7V57.3H375.42V59.0M374.66 61.0V54.0H375.14V57.3M374.39 54.9V53.7H374.90V54.0M373.88 58.8V52.2H374.65V53.7M373.48 48.7V47.2H374.26V52.2M373.07 48.6V43.6H373.87V47.2M372.53 42.9V42.1H373.47V43.6M372.14 47.0V40.0H373.00V42.1M372.02 46.7V39.7H372.57V40.0M371.90 44.8V37.8H372.29V39.7M371.72 42.8V37.4H372.10V37.8M371.36 35.6V35.5H371.91V37.4M370.77 34.6V33.8H371.63V35.5M369.06 29.4V29.4H371.20V33.8M379.18 57.6V50.6H379.30V57.6M379.42 52.9V45.9H379.54V52.9M379.24 50.6V42.0H379.48V45.9M379.66 48.5V41.5H379.78V48.5M379.90 62.3V55.3H380.02V62.3M379.96 55.3V51.3H380.14V58.3M380.26 58.2V51.2H380.38V58.2M380.62 54.9V47.9H380.74V54.9M380.50 54.6V47.6H380.68V47.9M380.32 51.2V46.3H380.59V47.6M380.05 51.3V44.6H380.46V46.3M380.25 44.6V43.3H380.86V50.3M380.56 43.3V42.4H380.98V49.4M381.58 60.2V53.2H381.70V60.2M381.46 53.5V46.5H381.64V53.2M381.34 52.5V45.5H381.55V46.5M381.82 57.5V50.5H381.94V57.5M382.06 69.6V62.6H382.18V69.6M382.12 62.6V61.9H382.30V68.9M382.42 64.6V57.6H382.54V64.6M382.21 61.9V55.8H382.48V57.6M382.66 68.0V61.0H382.78V68.0M382.72 61.0V55.9H382.90V62.9M383.38 71.4V64.4H383.50V71.4M383.98 73.6V66.6H384.10V73.6M384.34 78.6V71.6H384.46V78.6M384.58 78.6V71.6H384.70V78.6M384.94 88.0V81.0H385.06V88.0M384.82 87.0V80.0H385.00V81.0M385.54 95.0V88.0H385.66V95.0M385.90 96.0V89.0H386.02V96.0M386.14 96.9V89.9H386.26V96.9M385.96 89.0V87.9H386.20V89.9M385.78 94.6V87.6H386.08V87.9M385.60 88.0V85.5H385.93V87.6M385.42 89.4V82.4H385.77V85.5M385.30 87.4V80.4H385.59V82.4M385.18 86.0V79.0H385.45V80.4M384.91 80.0V76.8H385.31V79.0M384.64 71.6V71.6H385.11V76.8M384.40 71.6V70.3H384.88V71.6M384.22 75.8V68.8H384.64V70.3M384.04 66.6V65.9H384.43V68.8M383.86 71.0V64.0H384.23V65.9M383.74 69.4V62.4H384.05V64.0M383.62 67.4V60.4H383.89V62.4M383.44 64.4V59.5H383.76V60.4M383.26 64.6V57.6H383.60V59.5M383.14 64.2V57.2H383.43V57.6M383.02 62.1V55.1H383.28V57.2M382.81 55.9V53.9H383.15V55.1M382.35 55.8V53.5H382.98V53.9M381.88 50.5V48.9H382.66V53.5M381.45 45.5V45.1H382.27V48.9M381.22 51.2V44.2H381.86V45.1M381.10 49.8V42.8H381.54V44.2M380.77 42.4V41.6H381.32V42.8M379.72 41.5V40.8H381.04V41.6M379.36 42.0V40.8H380.38V40.8M379.06 43.0V36.0H379.87V40.8M370.13 29.4V25.8H379.47V36.0M364.29 26.0V22.8H374.80V25.8M359.69 25.3V21.3H369.54V22.8M355.97 23.9V20.4H364.62V21.3M353.31 23.0V20.4H360.29V20.4M307.88 22.2V19.6H356.80V20.4M294.01 20.3V19.6H332.34V19.6M288.90 22.6V19.1H313.17V19.6M286.35 24.3V18.6H301.04V19.1M283.02 22.2V18.6H293.69V18.6M279.69 31.5V18.6H288.36V18.6M386.48 33.9V26.9H386.60V33.9M386.54 26.9V23.5H386.72V30.5M386.36 29.2V22.2H386.63V23.5M386.84 40.2V33.2H386.96V40.2M387.08 41.7V34.7H387.20V41.7M387.32 45.0V38.0H387.44V45.0M387.80 46.3V39.3H387.92V46.3M387.68 44.3V37.3H387.86V39.3M387.56 43.5V36.5H387.77V37.3M388.28 53.2V46.2H388.40V53.2M388.16 50.5V43.5H388.34V46.2M388.76 53.4V46.4H388.88V53.4M388.64 50.5V43.5H388.82V46.4M388.52 47.6V40.6H388.73V43.5M388.25 43.5V38.9H388.63V40.6M388.04 42.8V35.8H388.44V38.9M387.67 36.5V33.6H388.24V35.8M387.38 38.0V33.4H387.95V33.6M387.14 34.7V29.1H387.67V33.4M386.90 33.2V23.8H387.40V29.1M386.50 22.2V21.6H387.15V23.8M389.06 29.5V22.5H389.18V29.5M389.30 44.2V37.2H389.42V44.2M389.36 37.2V27.0H389.54V34.0M389.45 27.0V24.1H389.66V31.1M389.12 22.5V21.8H389.56V24.1M389.78 39.8V32.8H389.90V39.8M389.84 32.8V32.0H390.02V39.0M390.14 38.1V31.1H390.26V38.1M390.20 31.1V30.7H390.38V37.7M390.62 47.9V40.9H390.74V47.9M390.86 48.5V41.5H390.98V48.5M390.68 40.9V40.3H390.92V41.5M390.50 43.1V36.1H390.80V40.3M390.65 36.1V32.6H391.10V39.6M391.58 54.3V47.3H391.70V54.3M391.46 44.7V37.7H391.64V47.3M391.82 45.9V38.9H391.94V45.9M392.18 53.8V46.8H392.30V53.8M392.78 56.7V49.7H392.90V56.7M392.66 55.9V48.9H392.84V49.7M392.54 53.3V46.3H392.75V48.9M392.42 53.2V46.2H392.65V46.3M392.24 46.8V44.8H392.53V46.2M392.06 47.9V40.9H392.39V44.8M391.88 38.9V38.4H392.22V40.9M391.55 37.7V36.7H392.05V38.4M391.34 40.2V33.2H391.80V36.7M391.22 38.8V31.8H391.57V33.2M390.88 32.6V30.9H391.40V31.8M390.29 30.7V28.8H391.14V30.9M389.93 32.0V28.7H390.71V28.8M389.34 21.8V21.7H390.32V28.7M393.06 46.7V39.7H393.18V46.7M393.12 39.7V22.8H393.30V29.8M393.54 31.5V24.5H393.66V31.5M394.02 49.4V42.4H394.14V49.4M394.08 42.4V34.7H394.26V41.7M394.50 37.8V30.8H394.62V37.8M394.38 37.2V30.2H394.56V30.8M394.17 34.7V29.3H394.47V30.2M393.90 34.3V27.3H394.32V29.3M394.98 46.8V39.8H395.10V46.8M394.86 42.6V35.6H395.04V39.8M394.74 41.8V34.8H394.95V35.6M395.82 52.1V45.1H395.94V52.1M395.70 50.6V43.6H395.88V45.1M395.58 50.3V43.3H395.79V43.6M395.69 43.3V42.3H396.06V49.3M396.18 52.8V45.8H396.30V52.8M396.78 58.6V51.6H396.90V58.6M396.66 56.8V49.8H396.84V51.6M396.54 54.6V47.6H396.75V49.8M396.42 52.9V45.9H396.65V47.6M396.24 45.8V44.6H396.53V45.9M395.87 42.3V41.3H396.39V44.6M395.46 47.2V40.2H396.13V41.3M395.34 47.0V40.0H395.79V40.2M395.22 46.2V39.2H395.57V40.0M394.85 34.8V32.8H395.39V39.2M394.11 27.3V27.0H395.12V32.8M393.78 32.4V25.4H394.61V27.0M393.60 24.5V22.9H394.20V25.4M393.42 29.7V22.7H393.90V22.9M393.21 22.8V21.4H393.66V22.7M397.18 42.0V35.0H397.30V42.0M397.42 49.2V42.2H397.54V49.2M397.90 47.3V40.3H398.02V47.3M398.38 50.0V43.0H398.50V50.0M398.26 39.9V32.9H398.44V43.0M398.62 40.6V33.6H398.74V40.6M398.86 44.4V37.4H398.98V44.4M399.46 50.5V43.5H399.58V50.5M399.34 46.1V39.1H399.52V43.5M400.30 61.2V54.2H400.42V61.2M400.54 61.9V54.9H400.66V61.9M400.36 54.2V51.8H400.60V54.9M400.18 56.6V49.6H400.48V51.8M400.06 54.4V47.4H400.33V49.6M399.94 53.8V46.8H400.20V47.4M399.82 51.3V44.3H400.07V46.8M399.70 46.5V39.5H399.94V44.3M399.43 39.1V38.7H399.82V39.5M399.22 44.8V37.8H399.63V38.7M399.10 43.0V36.0H399.42V37.8M398.92 37.4V35.6H399.26V36.0M398.68 33.6V31.0H399.09V35.6M398.35 32.9V30.2H398.89V31.0M398.14 34.1V27.1H398.62V30.2M397.96 40.3V26.2H398.38V27.1M397.78 32.3V25.3H398.17V26.2M397.66 31.4V24.4H397.97V25.3M397.48 42.2V23.0H397.82V24.4M397.24 35.0V21.6H397.65V23.0M397.06 27.8V20.8H397.44V21.6M400.88 29.2V22.2H401.00V29.2M401.24 47.2V40.2H401.36V47.2M401.12 30.2V23.2H401.30V40.2M401.96 44.5V37.5H402.08V44.5M402.32 47.5V40.5H402.44V47.5M402.92 57.8V50.8H403.04V57.8M403.76 62.8V55.8H403.88V62.8M403.64 60.8V53.8H403.82V55.8M403.52 58.8V51.8H403.73V53.8M403.40 57.4V50.4H403.63V51.8M403.28 54.8V47.8H403.51V50.4M403.16 52.9V45.9H403.40V47.8M402.98 50.8V44.1H403.28V45.9M402.80 48.2V41.2H403.13V44.1M402.68 45.9V38.9H402.96V41.2M402.56 44.3V37.3H402.82V38.9M402.38 40.5V35.5H402.69V37.3M402.20 39.7V32.7H402.54V35.5M402.02 37.5V31.9H402.37V32.7M401.84 36.1V29.1H402.19V31.9M401.72 34.9V27.9H402.02V29.1M401.60 32.8V25.8H401.87V27.9M401.48 32.5V25.5H401.73V25.8M401.21 23.2V23.0H401.61V25.5M400.94 22.2V21.5H401.41V23.0M400.76 28.0V21.0H401.17V21.5M404.06 57.5V50.5H404.18V57.5M404.42 40.9V33.9H404.54V40.9M404.48 33.9V27.1H404.66V34.1M404.30 31.6V24.6H404.57V27.1M404.78 53.5V46.5H404.90V53.5M405.02 52.5V45.5H405.14V52.5M404.84 46.5V41.6H405.08V45.5M405.38 41.1V34.1H405.50V41.1M405.26 36.4V29.4H405.44V34.1M404.96 41.6V29.2H405.35V29.4M406.10 45.0V38.0H406.22V45.0M405.98 44.7V37.7H406.16V38.0M405.86 43.5V36.5H406.07V37.7M405.74 41.9V34.9H405.97V36.5M405.62 39.5V32.5H405.85V34.9M406.34 49.8V42.8H406.46V49.8M406.58 52.0V45.0H406.70V52.0M406.82 56.5V49.5H406.94V56.5M406.88 49.5V42.3H407.06V49.3M406.97 42.3V41.7H407.18V48.7M406.64 45.0V40.9H407.08V41.7M407.30 58.8V51.8H407.42V58.8M407.90 62.7V55.7H408.02V62.7M408.26 66.0V59.0H408.38V66.0M408.50 66.0V59.0H408.62V66.0M408.32 59.0V56.7H408.56V59.0M408.86 70.6V63.6H408.98V70.6M408.74 65.5V58.5H408.92V63.6M408.44 56.7V56.3H408.83V58.5M408.14 59.3V52.3H408.64V56.3M407.96 55.7V50.9H408.39V52.3M407.78 54.4V47.4H408.17V50.9M407.66 53.2V46.2H407.98V47.4M407.54 51.5V44.5H407.82V46.2M407.36 51.8V43.0H407.68V44.5M406.86 40.9V40.0H407.52V43.0M406.40 42.8V32.7H407.19V40.0M405.74 32.5V32.0H406.79V32.7M405.16 29.2V27.0H406.27V32.0M404.44 24.6V23.5H405.71V27.0M404.12 50.5V21.9H405.07V23.5M409.06 32.9V25.9H409.18V32.9M409.78 51.5V44.5H409.90V51.5M409.66 38.3V31.3H409.84V44.5M410.14 49.9V42.9H410.26V49.9M410.38 53.2V46.2H410.50V53.2M410.44 46.2V36.9H410.62V43.9M410.20 42.9V34.3H410.53V36.9M410.02 40.9V33.9H410.37V34.3M410.19 33.9V32.3H410.74V39.3M409.75 31.3V31.0H410.47V32.3M410.86 50.8V43.8H410.98V50.8M411.22 52.8V45.8H411.34V52.8M411.10 48.6V41.6H411.28V45.8M410.92 43.8V40.0H411.19V41.6M411.82 48.4V41.4H411.94V48.4M411.70 48.2V41.2H411.88V41.4M412.06 50.8V43.8H412.18V50.8M412.42 58.2V51.2H412.54V58.2M412.78 60.6V53.6H412.90V60.6M412.66 56.8V49.8H412.84V53.6M412.48 51.2V48.3H412.75V49.8M412.30 52.4V45.4H412.62V48.3M412.12 43.8V43.7H412.46V45.4M411.79 41.2V40.8H412.29V43.7M411.58 44.2V37.2H412.04V40.8M411.46 43.6V36.6H411.81V37.2M411.06 40.0V35.4H411.63V36.6M410.11 31.0V29.8H411.34V35.4M409.54 35.5V28.5H410.73V29.8M409.42 33.7V26.7H410.13V28.5M409.30 32.6V25.6H409.78V26.7M409.12 25.9V25.3H409.54V25.6M413.18 44.2V37.2H413.30V44.2M413.24 37.2V35.4H413.42V42.4M413.54 56.1V49.1H413.66V56.1M413.78 58.8V51.8H413.90V58.8M413.60 49.1V40.4H413.84V51.8M414.02 54.8V47.8H414.14V54.8M414.50 65.7V58.7H414.62V65.7M414.38 63.8V56.8H414.56V58.7M414.86 76.4V69.4H414.98V76.4M414.74 64.6V57.6H414.92V69.4M414.47 56.8V54.6H414.83V57.6M414.26 52.3V45.3H414.65V54.6M414.08 47.8V42.0H414.46V45.3M413.72 40.4V40.3H414.27V42.0M413.33 35.4V28.4H413.99V40.3M413.06 34.9V27.9H413.66V28.4M415.18 51.1V44.1H415.30V51.1M415.06 48.4V41.4H415.24V44.1M415.42 39.3V32.3H415.54V39.3M415.15 41.4V31.2H415.48V32.3M415.66 39.3V32.3H415.78V39.3M415.90 59.9V52.9H416.02V59.9M416.14 48.1V41.1H416.26V48.1M416.50 47.1V40.1H416.62V47.1M416.74 51.8V44.8H416.86V51.8M416.56 40.1V39.6H416.80V44.8M416.98 51.8V44.8H417.10V51.8M417.22 54.3V47.3H417.34V54.3M417.46 67.6V60.6H417.58V67.6M417.94 67.8V60.8H418.06V67.8M418.18 73.3V66.3H418.30V73.3M418.78 77.7V70.7H418.90V77.7M418.66 75.3V68.3H418.84V70.7M418.54 74.6V67.6H418.75V68.3M418.42 71.0V64.0H418.65V67.6M418.24 66.3V59.8H418.53V64.0M418.00 60.8V59.1H418.39V59.8M417.82 65.5V58.5H418.19V59.1M417.70 61.2V54.2H418.01V58.5M417.52 60.6V49.1H417.85V54.2M417.28 47.3V44.7H417.69V49.1M417.04 44.8V42.9H417.48V44.7M416.68 39.6V39.5H417.26V42.9M416.38 46.3V39.3H416.97V39.5M416.20 41.1V37.9H416.68V39.3M415.96 52.9V35.6H416.44V37.9M415.72 32.3V31.7H416.20V35.6M415.31 31.2V29.7H415.96V31.7M419.18 38.2V31.2H419.30V38.2M419.06 37.6V30.6H419.24V31.2M419.42 60.8V53.8H419.54V60.8M419.48 53.8V40.0H419.66V47.0M419.78 58.0V51.0H419.90V58.0M419.84 51.0V43.6H420.02V50.6M420.26 50.0V43.0H420.38V50.0M420.74 55.1V48.1H420.86V55.1M421.22 65.2V58.2H421.34V65.2M421.58 70.0V63.0H421.70V70.0M421.82 72.4V65.4H421.94V72.4M421.64 63.0V60.4H421.88V65.4M421.46 65.0V58.0H421.76V60.4M421.28 58.2V55.8H421.61V58.0M421.10 59.4V52.4H421.45V55.8M420.98 56.9V49.9H421.27V52.4M420.80 48.1V47.6H421.13V49.9M420.62 51.2V44.2H420.96V47.6M420.50 48.2V41.2H420.79V44.2M420.32 43.0V40.3H420.65V41.2M420.14 44.9V37.9H420.48V40.3M419.93 43.6V36.2H420.31V37.9M419.57 40.0V33.7H420.12V36.2M419.15 30.6V30.6H419.85V33.7M422.06 49.8V42.8H422.18V49.8M422.30 40.2V33.2H422.42V40.2M422.54 59.8V52.8H422.66V59.8M422.90 58.4V51.4H423.02V58.4M423.14 51.0V44.0H423.26V51.0M423.74 54.6V47.6H423.86V54.6M423.62 54.3V47.3H423.80V47.6M423.50 50.8V43.8H423.71V47.3M424.10 58.6V51.6H424.22V58.6M424.58 66.9V59.9H424.70V66.9M424.46 64.7V57.7H424.64V59.9M424.34 62.7V55.7H424.55V57.7M424.45 55.7V55.5H424.82V62.5M425.06 73.7V66.7H425.18V73.7M424.94 72.3V65.3H425.12V66.7M425.42 78.5V71.5H425.54V78.5M425.78 78.0V71.0H425.90V78.0M425.66 75.3V68.3H425.84V71.0M425.48 71.5V67.0H425.75V68.3M425.30 69.2V62.2H425.62V67.0M425.03 65.3V60.6H425.46V62.2M424.63 55.5V54.8H425.24V60.6M424.16 51.6V51.2H424.94V54.8M423.98 58.0V51.0H424.55V51.2M423.61 43.8V42.6H424.26V51.0M423.38 49.0V42.0H423.93V42.6M423.20 44.0V40.3H423.66V42.0M422.96 51.4V38.6H423.43V40.3M422.78 44.5V37.5H423.19V38.6M422.60 52.8V35.4H422.99V37.5M422.36 33.2V32.5H422.79V35.4M422.12 42.8V32.2H422.58V32.5M426.06 42.3V35.3H426.18V42.3M426.42 53.2V46.2H426.54V53.2M426.78 61.0V54.0H426.90V61.0M427.14 57.7V50.7H427.26V57.7M427.20 50.7V46.4H427.38V53.4M427.74 64.4V57.4H427.86V64.4M427.98 66.2V59.2H428.10V66.2M427.80 57.4V56.7H428.04V59.2M427.92 56.7V56.5H428.22V63.5M428.34 71.5V64.5H428.46V71.5M428.58 76.3V69.3H428.70V76.3M428.82 75.2V68.2H428.94V75.2M428.64 69.3V65.9H428.88V68.2M428.40 64.5V60.9H428.76V65.9M428.07 56.5V56.2H428.58V60.9M427.62 57.8V50.8H428.33V56.2M427.50 55.6V48.6H427.97V50.8M427.29 46.4V45.0H427.74V48.6M427.02 49.4V42.4H427.51V45.0M426.84 54.0V40.8H427.27V42.4M426.66 45.8V38.8H427.05V40.8M426.48 46.2V36.2H426.86V38.8M426.30 42.6V35.6H426.67V36.2M426.12 35.3V34.5H426.48V35.6M429.30 61.1V54.1H429.42V61.1M429.18 49.6V42.6H429.36V54.1M429.06 44.1V37.1H429.27V42.6M429.16 37.1V37.0H429.54V44.0M429.66 46.5V39.5H429.78V46.5M429.72 39.5V37.8H429.90V44.8M430.50 51.5V44.5H430.62V51.5M430.38 49.7V42.7H430.56V44.5M430.26 48.1V41.1H430.47V42.7M430.37 41.1V39.9H430.74V46.9M430.14 46.8V39.8H430.55V39.9M430.02 45.5V38.5H430.35V39.8M431.10 55.5V48.5H431.22V55.5M431.46 57.5V50.5H431.58V57.5M431.34 55.8V48.8H431.52V50.5M431.16 48.5V47.8H431.43V48.8M431.70 56.8V49.8H431.82V56.8M431.94 62.6V55.6H432.06V62.6M431.76 49.8V49.2H432.00V55.6M432.18 54.9V47.9H432.30V54.9M431.88 49.2V47.4H432.24V47.9M431.30 47.8V45.5H432.06V47.4M432.54 56.3V49.3H432.66V56.3M432.60 49.3V48.4H432.78V55.4M432.90 56.5V49.5H433.02V56.5M433.14 72.6V65.6H433.26V72.6M433.38 75.0V68.0H433.50V75.0M433.62 67.5V60.5H433.74V67.5M433.68 60.5V60.0H433.86V67.0M433.44 68.0V57.3H433.77V60.0M434.22 72.1V65.1H434.34V72.1M434.10 65.9V58.9H434.28V65.1M433.98 65.3V58.3H434.19V58.9M434.46 70.6V63.6H434.58V70.6M434.82 73.3V66.3H434.94V73.3M434.70 71.9V64.9H434.88V66.3M435.18 77.6V70.6H435.30V77.6M435.06 75.7V68.7H435.24V70.6M435.54 80.4V73.4H435.66V80.4M435.78 82.8V75.8H435.90V82.8M436.26 85.5V78.5H436.38V85.5M436.62 92.5V85.5H436.74V92.5M436.86 89.4V82.4H436.98V89.4M436.68 85.5V80.7H436.92V82.4M436.50 84.6V77.6H436.80V80.7M436.32 78.5V75.7H436.65V77.6M436.14 80.4V73.4H436.49V75.7M436.02 79.5V72.5H436.31V73.4M435.84 75.8V70.9H436.17V72.5M435.60 73.4V68.8H436.00V70.9M435.42 74.8V67.8H435.80V68.8M435.15 68.7V66.1H435.61V67.8M434.79 64.9V63.4H435.38V66.1M434.52 63.6V60.1H435.09V63.4M434.09 58.3V58.2H434.80V60.1M433.61 57.3V57.1H434.44V58.2M433.20 65.6V54.7H434.02V57.1M432.96 49.5V49.4H433.61V54.7M432.69 48.4V47.7H433.29V49.4M432.42 54.1V47.1H432.99V47.7M431.68 45.5V45.4H432.70V47.1M430.98 52.2V45.2H432.19V45.4M430.86 50.0V43.0H431.59V45.2M430.18 38.5V38.5H431.22V43.0M429.81 37.8V37.5H430.70V38.5M429.35 37.0V36.8H430.26V37.5M426.30 34.5V31.8H429.80V36.8M422.35 32.2V29.8H428.05V31.8M419.50 30.6V27.8H425.20V29.8M437.06 46.4V39.4H437.18V46.4M437.12 39.4V35.4H437.30V42.4M437.42 38.5V31.5H437.54V38.5M437.21 35.4V31.0H437.48V31.5M437.78 50.4V43.4H437.90V50.4M437.66 39.0V32.0H437.84V43.4M438.14 40.2V33.2H438.26V40.2M438.02 40.0V33.0H438.20V33.2M438.38 57.8V50.8H438.50V57.8M438.74 41.3V34.3H438.86V41.3M438.62 40.6V33.6H438.80V34.3M438.44 50.8V33.3H438.71V33.6M438.11 33.0V32.3H438.58V33.3M437.75 32.0V31.6H438.34V32.3M438.98 50.6V43.6H439.10V50.6M439.04 43.6V38.6H439.22V45.6M439.58 63.5V56.5H439.70V63.5M439.46 59.1V52.1H439.64V56.5M439.55 52.1V42.3H439.82V49.3M439.34 47.1V40.1H439.69V42.3M439.94 52.4V45.4H440.06V52.4M440.30 55.8V48.8H440.42V55.8M440.36 48.8V46.1H440.54V53.1M440.18 52.9V45.9H440.45V46.1M440.00 45.4V45.0H440.32V45.9M439.51 40.1V36.6H440.16V45.0M440.66 56.8V49.8H440.78V56.8M440.90 60.6V53.6H441.02V60.6M440.96 53.6V52.6H441.14V59.6M440.72 49.8V46.0H441.05V52.6M440.89 46.0V38.0H441.26V45.0M441.38 61.4V54.4H441.50V61.4M441.44 54.4V39.7H441.62V46.7M441.98 58.9V51.9H442.10V58.9M442.04 51.9V48.8H442.22V55.8M442.58 65.9V58.9H442.70V65.9M442.82 56.9V49.9H442.94V56.9M442.64 58.9V48.2H442.88V49.9M442.46 54.1V47.1H442.76V48.2M442.34 52.5V45.5H442.61V47.1M443.06 58.7V51.7H443.18V58.7M443.30 64.1V57.1H443.42V64.1M443.54 73.1V66.1H443.66V73.1M443.36 57.1V56.7H443.60V66.1M443.12 51.7V47.8H443.48V56.7M443.90 66.1V59.1H444.02V66.1M443.96 59.1V58.1H444.14V65.1M443.78 63.5V56.5H444.05V58.1M444.74 72.6V65.6H444.86V72.6M444.62 72.1V65.1H444.80V65.6M444.50 69.4V62.4H444.71V65.1M444.38 62.5V55.5H444.61V62.4M444.26 61.0V54.0H444.49V55.5M445.10 78.1V71.1H445.22V78.1M445.16 71.1V56.6H445.34V63.6M445.46 63.2V56.2H445.58V63.2M445.70 66.4V59.4H445.82V66.4M445.94 80.4V73.4H446.06V80.4M446.54 72.8V65.8H446.66V72.8M446.90 73.8V66.8H447.02V73.8M446.78 72.7V65.7H446.96V66.8M447.50 86.4V79.4H447.62V86.4M447.38 83.6V76.6H447.56V79.4M447.26 79.1V72.1H447.47V76.6M447.74 81.6V74.6H447.86V81.6M447.98 87.7V80.7H448.10V87.7M448.04 80.7V75.7H448.22V82.7M448.46 85.2V78.2H448.58V85.2M448.34 84.5V77.5H448.52V78.2M448.13 75.7V74.8H448.43V77.5M448.82 89.4V82.4H448.94V89.4M449.18 96.4V89.4H449.30V96.4M449.24 89.4V88.9H449.42V95.9M449.06 95.0V88.0H449.33V88.9M449.78 95.8V88.8H449.90V95.8M449.66 95.4V88.4H449.84V88.8M449.54 95.3V88.3H449.75V88.4M449.20 88.0V87.0H449.65V88.3M450.02 100.9V93.9H450.14V100.9M450.38 100.6V93.6H450.50V100.6M450.26 99.5V92.5H450.44V93.6M450.62 99.4V92.4H450.74V99.4M451.10 105.3V98.3H451.22V105.3M451.34 105.0V98.0H451.46V105.0M451.16 98.3V97.9H451.40V98.0M451.82 107.7V100.7H451.94V107.7M451.70 107.1V100.1H451.88V100.7M451.58 105.4V98.4H451.79V100.1M451.28 97.9V96.5H451.69V98.4M450.98 102.9V95.9H451.48V96.5M450.86 100.5V93.5H451.23V95.9M450.68 92.4V92.2H451.05V93.5M450.35 92.5V90.8H450.86V92.2M450.08 93.9V86.6H450.61V90.8M449.42 87.0V84.4H450.34V86.6M448.88 82.4V77.9H449.88V84.4M448.70 82.4V75.4H449.38V77.9M448.28 74.8V74.3H449.04V75.4M447.80 74.6V74.3H448.66V74.3M447.37 72.1V71.4H448.23V74.3M447.14 75.6V68.6H447.80V71.4M446.87 65.7V65.1H447.47V68.6M446.60 65.8V65.0H447.17V65.1M446.42 70.6V63.6H446.88V65.0M446.30 69.5V62.5H446.65V63.6M446.18 68.7V61.7H446.48V62.5M446.00 73.4V59.7H446.33V61.7M445.76 59.4V57.6H446.16V59.7M445.52 56.2V56.1H445.96V57.6M445.25 56.6V55.4H445.74V56.1M444.98 61.8V54.8H445.50V55.4M444.38 54.0V52.3H445.24V54.8M443.92 56.5V52.2H444.81V52.3M443.30 47.8V45.7H444.36V52.2M442.48 45.5V43.9H443.83V45.7M442.13 48.8V41.9H443.15V43.9M441.86 48.2V41.2H442.64V41.9M441.74 47.1V40.1H442.25V41.2M441.53 39.7V39.5H442.00V40.1M441.07 38.0V36.4H441.76V39.5M439.84 36.6V35.9H441.42V36.4M439.13 38.6V34.3H440.63V35.9M438.05 31.6V30.7H439.88V34.3M437.35 31.0V30.0H438.96V30.7M452.06 50.0V43.0H452.18V50.0M452.42 61.6V54.6H452.54V61.6M452.30 56.1V49.1H452.48V54.6M452.66 60.8V53.8H452.78V60.8M453.26 61.6V54.6H453.38V61.6M453.62 69.8V62.8H453.74V69.8M453.98 64.0V57.0H454.10V64.0M454.58 68.3V61.3H454.70V68.3M454.82 65.8V58.8H454.94V65.8M455.18 69.0V62.0H455.30V69.0M455.06 67.9V60.9H455.24V62.0M455.42 77.7V70.7H455.54V77.7M455.66 78.4V71.4H455.78V78.4M456.02 79.7V72.7H456.14V79.7M456.26 83.1V76.1H456.38V83.1M456.62 90.8V83.8H456.74V90.8M456.68 83.8V82.4H456.86V89.4M457.10 92.2V85.2H457.22V92.2M457.58 103.9V96.9H457.70V103.9M457.82 102.3V95.3H457.94V102.3M457.64 96.9V93.8H457.88V95.3M457.46 96.5V89.5H457.76V93.8M457.34 93.8V86.8H457.61V89.5M457.16 85.2V84.7H457.48V86.8M456.98 88.9V81.9H457.32V84.7M456.77 82.4V79.5H457.15V81.9M456.50 85.6V78.6H456.96V79.5M456.32 76.1V74.7H456.73V78.6M456.08 72.7V69.7H456.52V74.7M455.90 75.5V68.5H456.30V69.7M455.72 71.4V66.8H456.10V68.5M455.48 70.7V66.4H455.91V66.8M455.15 60.9V60.1H455.70V66.4M454.88 58.8V58.7H455.42V60.1M454.64 61.3V57.2H455.15V58.7M454.46 62.1V55.1H454.90V57.2M454.34 60.4V53.4H454.68V55.1M454.22 60.2V53.2H454.51V53.4M454.04 57.0V51.6H454.36V53.2M453.86 57.2V50.2H454.20V51.6M453.68 62.8V47.8H454.03V50.2M453.50 54.0V47.0H453.86V47.8M453.32 54.6V46.1H453.68V47.0M453.14 52.3V45.3H453.50V46.1M453.02 50.9V43.9H453.32V45.3M452.90 50.0V43.0H453.17V43.9M452.72 53.8V42.3H453.03V43.0M452.39 49.1V41.5H452.88V42.3M452.12 43.0V41.3H452.63V41.5M458.06 57.8V50.8H458.18V57.8M458.42 65.3V58.3H458.54V65.3M458.48 58.3V53.1H458.66V60.1M458.78 61.9V54.9H458.90V61.9M459.02 73.2V66.2H459.14V73.2M458.84 54.9V53.6H459.08V66.2M458.57 53.1V50.0H458.96V53.6M459.50 67.3V60.3H459.62V67.3M459.38 65.5V58.5H459.56V60.3M459.98 68.3V61.3H460.10V68.3M460.34 66.1V59.1H460.46V66.1M460.70 71.0V64.0H460.82V71.0M461.18 75.0V68.0H461.30V75.0M461.06 73.8V66.8H461.24V68.0M460.94 73.6V66.6H461.15V66.8M461.54 86.3V79.3H461.66V86.3M461.60 79.3V77.2H461.78V84.2M461.42 83.9V76.9H461.69V77.2M461.90 85.6V78.6H462.02V85.6M461.56 76.9V76.6H461.96V78.6M462.38 91.6V84.6H462.50V91.6M462.26 90.6V83.6H462.44V84.6M462.62 96.5V89.5H462.74V96.5M462.68 89.5V89.1H462.86V96.1M463.10 102.0V95.0H463.22V102.0M462.98 99.6V92.6H463.16V95.0M464.06 113.6V106.6H464.18V113.6M463.94 111.5V104.5H464.12V106.6M463.82 109.6V102.6H464.03V104.5M463.70 106.4V99.4H463.93V102.6M463.58 104.9V97.9H463.81V99.4M463.46 102.7V95.7H463.70V97.9M463.34 101.7V94.7H463.58V95.7M463.07 92.6V92.0H463.46V94.7M462.77 89.1V86.6H463.26V92.0M462.35 83.6V82.0H463.02V86.6M462.14 86.8V79.8H462.68V82.0M461.76 76.6V74.6H462.41V79.8M461.05 66.6V66.3H462.08V74.6M460.76 64.0V63.7H461.56V66.3M460.58 67.9V60.9H461.16V63.7M460.40 59.1V58.4H460.87V60.9M460.22 64.1V57.1H460.64V58.4M460.04 61.3V56.5H460.43V57.1M459.86 62.1V55.1H460.23V56.5M459.74 60.5V53.5H460.05V55.1M459.47 58.5V51.8H459.89V53.5M459.26 56.2V49.2H459.68V51.8M458.77 50.0V48.4H459.47V49.2M458.30 52.9V45.9H459.12V48.4M458.12 50.8V45.4H458.71V45.9M452.38 41.3V38.8H458.41V45.4M464.38 51.5V44.5H464.50V51.5M464.62 57.1V50.1H464.74V57.1M464.68 50.1V39.7H464.86V46.7M464.77 39.7V39.4H464.98V46.4M464.88 39.4V33.6H465.10V40.6M465.22 59.1V52.1H465.34V59.1M465.46 46.0V39.0H465.58V46.0M465.70 53.2V46.2H465.82V53.2M466.18 51.1V44.1H466.30V51.1M466.06 51.0V44.0H466.24V44.1M465.94 48.9V41.9H466.15V44.0M465.76 46.2V41.7H466.05V41.9M467.26 63.9V56.9H467.38V63.9M467.62 68.8V61.8H467.74V68.8M467.50 67.5V60.5H467.68V61.8M468.10 75.4V68.4H468.22V75.4M468.34 78.3V71.3H468.46V78.3M468.16 68.4V67.5H468.40V71.3M467.98 69.0V62.0H468.28V67.5M467.86 67.0V60.0H468.13V62.0M467.59 60.5V59.6H468.00V60.0M467.32 56.9V56.4H467.79V59.6M467.14 62.8V55.8H467.56V56.4M467.02 61.5V54.5H467.35V55.8M466.90 60.5V53.5H467.18V54.5M466.78 59.3V52.3H467.04V53.5M466.66 56.9V49.9H466.91V52.3M466.54 55.2V48.2H466.79V49.9M466.42 51.4V44.4H466.66V48.2M465.90 41.7V41.0H466.54V44.4M465.52 39.0V38.1H466.22V41.0M465.28 52.1V37.1H465.87V38.1M464.99 33.6V32.5H465.58V37.1M464.44 44.5V31.0H465.28V32.5M464.26 37.1V30.1H464.86V31.0M455.40 38.8V28.0H464.56V30.1M438.15 30.0V27.4H459.98V28.0M422.35 27.8V27.4H449.07V27.4M415.64 29.7V26.3H435.71V27.4M468.68 55.8V48.8H468.80V55.8M469.04 59.3V52.3H469.16V59.3M468.92 47.4V40.4H469.10V52.3M468.74 48.8V30.7H469.01V40.4M468.56 36.9V29.9H468.88V30.7M469.28 55.6V48.6H469.40V55.6M469.76 50.1V43.1H469.88V50.1M470.12 52.5V45.5H470.24V52.5M470.84 66.9V59.9H470.96V66.9M470.72 64.4V57.4H470.90V59.9M470.60 61.8V54.8H470.81V57.4M470.48 59.3V52.3H470.71V54.8M470.36 58.0V51.0H470.59V52.3M470.18 45.5V44.6H470.48V51.0M470.00 50.1V43.1H470.33V44.6M469.82 43.1V40.8H470.16V43.1M469.64 44.3V37.3H469.99V40.8M469.52 44.2V37.2H469.82V37.3M469.34 48.6V34.8H469.67V37.2M468.72 29.9V29.8H469.50V34.8M471.18 49.6V42.6H471.30V49.6M471.78 46.1V39.1H471.90V46.1M471.84 39.1V33.6H472.02V40.6M471.66 39.7V32.7H471.93V33.6M472.38 56.5V49.5H472.50V56.5M472.44 49.5V41.7H472.62V48.7M472.74 52.3V45.3H472.86V52.3M472.53 41.7V40.3H472.80V45.3M472.26 45.2V38.2H472.67V40.3M472.14 43.5V36.5H472.46V38.2M472.98 45.9V38.9H473.10V45.9M473.22 58.5V51.5H473.34V58.5M473.28 51.5V40.5H473.46V47.5M473.82 55.0V48.0H473.94V55.0M474.18 58.1V51.1H474.30V58.1M474.42 66.0V59.0H474.54V66.0M474.48 59.0V57.9H474.66V64.9M474.90 68.1V61.1H475.02V68.1M474.96 61.1V60.7H475.14V67.7M474.78 66.6V59.6H475.05V60.7M474.57 57.9V57.6H474.92V59.6M474.24 51.1V49.9H474.74V57.6M474.06 56.2V49.2H474.49V49.9M473.88 48.0V47.7H474.28V49.2M473.70 50.7V43.7H474.08V47.7M473.58 48.0V41.0H473.89V43.7M473.37 40.5V40.4H473.73V41.0M473.04 38.9V36.6H473.55V40.4M472.30 36.5V34.9H473.30V36.6M471.80 32.7V31.9H472.80V34.9M471.54 36.3V29.3H472.30V31.9M471.42 35.1V28.1H471.92V29.3M471.24 42.6V27.4H471.67V28.1M471.06 32.3V25.3H471.45V27.4M475.38 51.1V44.1H475.50V51.1M475.74 48.2V41.2H475.86V48.2M476.10 41.6V34.6H476.22V41.6M476.70 61.2V54.2H476.82V61.2M477.78 68.2V61.2H477.90V68.2M477.66 66.3V59.3H477.84V61.2M477.54 64.9V57.9H477.75V59.3M477.42 62.4V55.4H477.65V57.9M477.30 60.0V53.0H477.53V55.4M477.18 57.8V50.8H477.42V53.0M477.06 55.0V48.0H477.30V50.8M476.94 52.8V45.8H477.18V48.0M476.76 54.2V43.5H477.06V45.8M476.58 47.2V40.2H476.91V43.5M476.46 45.7V38.7H476.74V40.2M476.34 43.2V36.2H476.60V38.7M476.16 34.6V34.6H476.47V36.2M475.98 39.7V32.7H476.32V34.6M475.80 41.2V30.7H476.15V32.7M475.62 36.4V29.4H475.97V30.7M475.44 44.1V28.4H475.80V29.4M475.26 33.7V26.7H475.62V28.4M478.18 44.3V37.3H478.30V44.3M478.06 41.5V34.5H478.24V37.3M478.54 60.8V53.8H478.66V60.8M478.60 53.8V53.1H478.78V60.1M478.69 53.1V53.1H478.90V60.1M478.80 53.1V34.4H479.02V41.4M479.38 43.6V36.6H479.50V43.6M479.26 42.5V35.5H479.44V36.6M479.14 42.1V35.1H479.35V35.5M478.91 34.4V33.7H479.25V35.1M479.74 52.1V45.1H479.86V52.1M479.80 45.1V42.5H479.98V49.5M479.62 47.1V40.1H479.89V42.5M479.76 40.1V38.3H480.10V45.3M480.46 56.3V49.3H480.58V56.3M480.34 51.9V44.9H480.52V49.3M480.43 44.9V44.8H480.70V51.8M480.82 52.5V45.5H480.94V52.5M481.42 67.2V60.2H481.54V67.2M481.90 63.3V56.3H482.02V63.3M482.26 66.5V59.5H482.38V66.5M482.14 65.4V58.4H482.32V59.5M483.10 84.2V77.2H483.22V84.2M483.34 85.6V78.6H483.46V85.6M483.40 78.6V73.3H483.58V80.3M483.16 77.2V72.6H483.49V73.3M482.98 74.1V67.1H483.33V72.6M482.86 72.3V65.3H483.15V67.1M482.74 70.6V63.6H483.01V65.3M482.62 69.1V62.1H482.87V63.6M482.50 67.0V60.0H482.75V62.1M482.23 58.4V58.2H482.62V60.0M481.96 56.3V54.5H482.43V58.2M481.78 61.0V54.0H482.19V54.5M481.66 60.4V53.4H481.99V54.0M481.48 60.2V51.2H481.82V53.4M481.30 54.4V47.4H481.65V51.2M481.18 53.2V46.2H481.48V47.4M481.06 50.9V43.9H481.33V46.2M480.88 45.5V42.4H481.19V43.9M480.57 44.8V41.7H481.04V42.4M480.22 44.2V37.2H480.80V41.7M479.93 38.3V35.8H480.51V37.2M479.08 33.7V32.2H480.22V35.8M478.42 38.1V31.1H479.65V32.2M478.15 34.5V30.3H479.03V31.1M475.44 26.7V24.6H478.59V30.3M471.26 25.3V24.0H477.02V24.6M469.11 29.8V24.0H474.14V24.0M425.67 26.3V24.0H471.62V24.0M413.36 27.9V22.8H448.65V24.0M483.76 54.9V47.9H483.88V54.9M484.36 56.1V49.1H484.48V56.1M484.42 49.1V40.3H484.60V47.3M484.51 40.3V31.2H484.72V38.2M484.84 39.5V32.5H484.96V39.5M485.08 44.1V37.1H485.20V44.1M485.32 56.9V49.9H485.44V56.9M485.56 60.4V53.4H485.68V60.4M485.92 63.7V56.7H486.04V63.7M486.28 64.2V57.2H486.40V64.2M486.16 60.4V53.4H486.34V57.2M485.98 56.7V51.8H486.25V53.4M485.80 55.3V48.3H486.12V51.8M485.62 53.4V45.6H485.96V48.3M485.38 49.9V42.6H485.79V45.6M485.14 37.1V34.8H485.58V42.6M484.90 32.5V32.1H485.36V34.8M484.62 31.2V30.8H485.13V32.1M484.24 36.8V29.8H484.87V30.8M484.12 33.9V26.9H484.56V29.8M484.00 33.1V26.1H484.34V26.9M483.82 47.9V23.4H484.17V26.1M486.56 53.8V46.8H486.68V53.8M486.80 51.6V44.6H486.92V51.6M486.86 44.6V26.7H487.04V33.7M487.28 43.1V36.1H487.40V43.1M487.34 36.1V30.8H487.52V37.8M487.43 30.8V30.5H487.64V37.5M488.00 57.9V50.9H488.12V57.9M488.06 50.9V47.7H488.24V54.7M488.72 62.3V55.3H488.84V62.3M488.60 56.1V49.1H488.78V55.3M488.48 53.1V46.1H488.69V49.1M488.96 61.3V54.3H489.08V61.3M489.44 62.3V55.3H489.56V62.3M489.32 60.1V53.1H489.50V55.3M489.20 58.0V51.0H489.41V53.1M489.02 54.3V49.4H489.31V51.0M488.59 46.1V44.7H489.16V49.4M488.36 50.2V43.2H488.87V44.7M488.15 47.7V41.9H488.62V43.2M487.88 46.3V39.3H488.38V41.9M487.76 41.3V34.3H488.13V39.3M487.54 30.5V30.0H487.95V34.3M487.16 34.6V27.6H487.74V30.0M486.95 26.7V25.5H487.45V27.6M486.62 46.8V23.5H487.20V25.5M483.99 23.4V21.4H486.91V23.5M431.00 22.8V21.4H485.45V21.4M489.78 36.8V29.8H489.90V36.8M489.84 29.8V25.2H490.02V32.2M490.26 51.5V44.5H490.38V51.5M490.14 41.3V34.3H490.32V44.5M490.50 39.4V32.4H490.62V39.4M490.74 58.1V51.1H490.86V58.1M490.98 59.3V52.3H491.10V59.3M491.04 52.3V46.8H491.22V53.8M491.13 46.8V46.3H491.34V53.3M492.06 74.8V67.8H492.18V74.8M492.30 73.4V66.4H492.42V73.4M492.12 67.8V64.3H492.36V66.4M491.94 71.0V64.0H492.24V64.3M491.82 67.8V60.8H492.09V64.0M491.70 64.1V57.1H491.96V60.8M491.58 61.5V54.5H491.83V57.1M491.46 53.8V46.8H491.70V54.5M491.24 46.3V42.7H491.58V46.8M490.80 51.1V35.9H491.41V42.7M490.56 32.4V30.4H491.10V35.9M490.23 34.3V29.0H490.83V30.4M489.93 25.2V24.6H490.53V29.0M489.66 29.3V22.3H490.23V24.6M492.56 31.1V24.1H492.68V31.1M492.80 39.2V32.2H492.92V39.2M493.04 41.6V34.6H493.16V41.6M492.86 32.2V25.1H493.10V34.6M493.52 46.3V39.3H493.64V46.3M493.40 36.3V29.3H493.58V39.3M493.76 38.4V31.4H493.88V38.4M493.49 29.3V28.5H493.82V31.4M494.00 54.0V47.0H494.12V54.0M494.06 47.0V42.4H494.24V49.4M494.48 42.9V35.9H494.60V42.9M494.36 42.7V35.7H494.54V35.9M494.84 55.2V48.2H494.96V55.2M494.72 48.6V41.6H494.90V48.2M495.20 58.1V51.1H495.32V58.1M495.08 50.2V43.2H495.26V51.1M494.81 41.6V41.5H495.17V43.2M495.44 56.7V49.7H495.56V56.7M495.50 49.7V49.5H495.68V56.5M495.92 59.7V52.7H496.04V59.7M496.16 62.5V55.5H496.28V62.5M496.22 55.5V51.3H496.40V58.3M496.76 64.1V57.1H496.88V64.1M497.00 73.7V66.7H497.12V73.7M497.36 75.8V68.8H497.48V75.8M497.24 73.0V66.0H497.42V68.8M497.06 66.7V64.2H497.33V66.0M497.60 81.2V74.2H497.72V81.2M497.66 74.2V70.4H497.84V77.4M498.68 89.6V82.6H498.80V89.6M498.56 87.9V80.9H498.74V82.6M498.44 85.8V78.8H498.65V80.9M498.32 83.1V76.1H498.55V78.8M498.20 80.5V73.5H498.43V76.1M498.08 78.1V71.1H498.32V73.5M497.96 77.2V70.2H498.20V71.1M497.75 70.4V67.3H498.08V70.2M497.20 64.2V62.3H497.91V67.3M496.82 57.1V57.0H497.55V62.3M496.64 63.3V56.3H497.19V57.0M496.52 59.6V52.6H496.91V56.3M496.31 51.3V51.2H496.72V52.6M495.98 52.7V47.1H496.51V51.2M495.80 52.4V45.4H496.25V47.1M495.59 49.5V42.0H496.02V45.4M494.99 41.5V36.7H495.81V42.0M494.45 35.7V32.5H495.40V36.7M494.15 42.4V31.9H494.92V32.5M493.66 28.5V27.5H494.54V31.9M493.28 34.1V27.1H494.10V27.5M492.98 25.1V24.8H493.69V27.1M492.62 24.1V22.3H493.33V24.8M499.80 61.4V54.4H499.92V61.4M500.28 68.8V61.8H500.40V68.8M500.16 63.3V56.3H500.34V61.8M500.04 60.8V53.8H500.25V56.3M499.86 54.4V49.0H500.14V53.8M499.68 48.6V41.6H500.00V49.0M499.56 45.1V38.1H499.84V41.6M499.44 42.5V35.5H499.70V38.1M499.32 41.4V34.4H499.57V35.5M499.20 39.7V32.7H499.45V34.4M499.08 37.7V30.7H499.32V32.7M498.96 35.3V28.3H499.20V30.7M500.68 43.6V36.6H500.80V43.6M500.56 38.4V31.4H500.74V36.6M501.04 37.6V30.6H501.16V37.6M501.28 42.2V35.2H501.40V42.2M501.64 52.4V45.4H501.76V52.4M501.52 46.6V39.6H501.70V45.4M501.88 53.0V46.0H502.00V53.0M502.12 60.8V53.8H502.24V60.8M502.36 53.3V46.3H502.48V53.3M502.60 57.3V50.3H502.72V57.3M502.66 50.3V46.1H502.84V53.1M502.75 46.1V44.2H502.96V51.2M502.42 46.3V43.5H502.86V44.2M503.08 57.8V50.8H503.20V57.8M503.32 58.2V51.2H503.44V58.2M503.56 57.8V50.8H503.68V57.8M503.80 63.0V56.0H503.92V63.0M504.16 68.8V61.8H504.28V68.8M505.00 83.3V76.3H505.12V83.3M504.88 81.3V74.3H505.06V76.3M504.97 74.3V73.8H505.24V80.8M505.36 82.7V75.7H505.48V82.7M505.11 73.8V73.6H505.42V75.7M504.76 80.5V73.5H505.26V73.6M504.64 80.0V73.0H505.01V73.5M504.52 69.1V62.1H504.83V73.0M504.40 67.8V60.8H504.67V62.1M504.22 61.8V59.2H504.54V60.8M504.04 61.1V54.1H504.38V59.2M503.86 56.0V53.4H504.21V54.1M503.62 50.8V50.0H504.03V53.4M503.38 51.2V48.4H503.83V50.0M503.14 50.8V44.9H503.60V48.4M502.64 43.5V43.0H503.37V44.9M502.18 53.8V40.6H503.00V43.0M501.94 46.0V38.9H502.59V40.6M501.61 39.6V34.7H502.27V38.9M501.34 35.2V31.7H501.94V34.7M501.10 30.6V30.2H501.64V31.7M500.92 36.2V29.2H501.37V30.2M500.65 31.4V28.8H501.14V29.2M506.38 64.8V57.8H506.50V64.8M506.86 71.0V64.0H506.98V71.0M506.74 66.5V59.5H506.92V64.0M506.62 63.2V56.2H506.83V59.5M506.44 57.8V52.9H506.73V56.2M506.26 52.5V45.5H506.58V52.9M506.14 48.9V41.9H506.42V45.5M506.02 47.9V40.9H506.28V41.9M505.90 44.7V37.7H506.15V40.9M505.78 42.3V35.3H506.03V37.7M505.66 41.1V34.1H505.90V35.3M507.30 42.7V35.7H507.42V42.7M507.18 42.1V35.1H507.36V35.7M507.54 57.1V50.1H507.66V57.1M507.60 50.1V48.5H507.78V55.5M508.02 60.8V53.8H508.14V60.8M507.90 58.0V51.0H508.08V53.8M508.26 49.9V42.9H508.38V49.9M508.98 52.9V45.9H509.10V52.9M508.86 51.8V44.8H509.04V45.9M508.74 51.2V44.2H508.95V44.8M508.62 49.7V42.7H508.85V44.2M509.58 66.3V59.3H509.70V66.3M509.46 64.2V57.2H509.64V59.3M509.34 59.2V52.2H509.55V57.2M509.82 65.8V58.8H509.94V65.8M509.45 52.2V51.2H509.88V58.8M509.22 58.1V51.1H509.66V51.2M510.90 73.2V66.2H511.02V73.2M511.14 78.1V71.1H511.26V78.1M512.10 91.5V84.5H512.22V91.5M512.16 84.5V83.1H512.34V90.1M511.98 89.3V82.3H512.25V83.1M511.86 86.5V79.5H512.12V82.3M511.74 84.4V77.4H511.99V79.5M511.62 82.3V75.3H511.86V77.4M511.50 80.7V73.7H511.74V75.3M511.38 78.6V71.6H511.62V73.7M511.20 71.1V69.2H511.50V71.6M510.96 66.2V65.6H511.35V69.2M510.78 68.4V61.4H511.16V65.6M510.66 67.3V60.3H510.97V61.4M510.54 65.9V58.9H510.81V60.3M510.42 64.0V57.0H510.68V58.9M510.30 61.3V54.3H510.55V57.0M510.18 60.1V53.1H510.42V54.3M510.06 59.7V52.7H510.30V53.1M509.44 51.1V50.1H510.18V52.7M508.73 42.7V42.4H509.81V50.1M508.50 48.8V41.8H509.27V42.4M508.32 42.9V41.6H508.89V41.8M507.99 51.0V38.4H508.60V41.6M507.69 48.5V36.1H508.30V38.4M507.27 35.1V33.0H507.99V36.1M507.06 38.2V31.2H507.63V33.0M505.78 34.1V29.8H507.35V31.2M500.90 28.8V26.3H506.56V29.8M499.08 28.3V26.3H503.73V26.3M512.46 42.0V35.0H512.58V42.0M512.52 35.0V31.6H512.70V38.6M512.61 31.6V25.6H512.82V32.6M513.06 45.8V38.8H513.18V45.8M513.30 45.8V38.8H513.42V45.8M513.36 38.8V38.3H513.54V45.3M513.90 45.7V38.7H514.02V45.7M514.38 54.1V47.1H514.50V54.1M514.62 53.3V46.3H514.74V53.3M514.44 47.1V43.0H514.68V46.3M514.26 46.5V39.5H514.56V43.0M514.14 46.2V39.2H514.41V39.5M513.96 38.7V37.2H514.28V39.2M513.78 40.6V33.6H514.12V37.2M513.66 39.4V32.4H513.95V33.6M513.45 38.3V31.9H513.80V32.4M513.12 38.8V28.0H513.63V31.9M512.94 32.5V25.5H513.37V28.0M512.71 25.6V24.3H513.16V25.5M501.41 26.3V21.4H512.94V24.3M492.98 22.3V20.6H507.17V21.4M489.95 22.3V20.6H500.07V20.6M458.23 21.4V20.6H495.01V20.6M409.33 25.3V20.4H476.62V20.6M404.60 21.9V20.4H442.97V20.4M400.97 21.0V19.1H423.79V20.4M397.25 20.8V19.1H412.38V19.1M393.43 21.4V18.3H404.81V19.1M389.83 21.7V18.3H399.12V18.3M386.82 21.6V18.3H394.48V18.3M284.02 18.6V18.3H390.65V18.3M274.37 19.3V17.5H337.34V18.3M269.89 19.0V17.5H305.85V17.5M266.24 18.8V17.5H287.87V17.5M244.69 18.1V17.5H277.06V17.5" stroke="#000" stroke-width="0.6" fill="none"/>
<path d="M375.40 50.0V115.4M393.10 50.0V120.5M381.30 60.0V97.0M278.20 45.0V75.0M316.20 50.0V76.5M366.00 55.0V86.7M463.30 80.0V108.6M450.60 75.0V102.0M447.30 70.0V95.0" stroke="#111" stroke-width="0.8" fill="none"/>
<path d="M246.06 19.1V53.7M247.14 28.1V60.2M251.94 23.5V51.5M254.70 18.6V42.8M259.98 24.9V50.0M268.22 29.8V59.6M269.30 44.5V52.3M275.38 28.4V62.9M276.22 30.7V53.8M276.82 30.5V59.5M277.06 41.5V55.1M278.50 51.9V68.9M280.18 32.9V43.9M283.70 24.8V53.9M284.42 44.7V66.2M285.38 41.7V63.7M289.72 45.6V76.5M292.26 44.8V68.8M293.58 49.6V74.6M295.14 37.3V54.4M295.26 32.7V67.2M295.98 54.8V65.1M296.10 46.9V78.3M298.48 44.6V50.6M299.42 23.5V30.5M304.34 42.3V71.6M306.02 56.1V64.8M306.62 70.6V100.9M307.56 29.7V46.1M307.80 27.5V44.2M309.48 43.7V59.4M309.84 55.3V71.8M311.28 36.0V51.8M314.40 53.9V78.0M315.24 33.5V65.5M316.80 48.3V55.5M318.12 48.8V61.5M319.08 43.4V65.0M319.44 33.2V66.3M320.52 52.0V71.7M321.84 36.0V54.5M322.20 54.4V85.7M322.32 46.1V59.2M323.52 42.8V61.4M325.08 52.0V78.9M326.40 56.2V76.3M327.72 49.4V69.6M330.60 67.0V101.0M330.72 61.9V87.2M341.64 84.7V108.2M344.28 93.1V101.1M345.72 98.5V115.0M349.80 123.4V133.0M351.36 132.4V150.8M352.80 143.4V149.5M356.16 24.7V33.6M357.24 36.7V43.6M357.72 36.8V61.6M360.32 30.3V47.5M368.14 62.3V75.2M370.22 42.5V51.2M370.58 51.0V77.0M373.46 48.7V65.7M373.58 63.1V71.9M373.82 47.2V72.9M375.02 67.4V83.5M375.50 64.2V81.9M376.34 72.9V86.3M381.70 53.2V83.4M381.82 45.1V75.2M382.06 48.9V61.0M384.46 71.6V79.6M385.18 76.8V107.0M385.66 88.0V103.1M391.58 37.7V63.8M392.06 38.4V73.3M398.86 31.0V48.0M404.54 33.9V45.9M405.62 27.0V55.8M406.34 32.0V53.8M406.82 40.9V75.6M410.14 33.9V67.6M412.90 53.6V69.0M413.42 35.4V58.5M415.18 41.4V61.9M415.42 31.2V61.6M416.02 52.9V87.1M419.54 53.8V78.6M425.30 60.6V94.1M427.86 57.4V87.4M430.86 38.5V70.4M431.10 45.2V61.8M434.34 65.1V92.9M444.74 65.1V98.8M445.10 54.8V75.5M450.38 92.5V107.4M451.10 95.9V117.4M452.42 49.1V65.9M452.78 53.8V85.7M457.82 93.8V121.1M458.18 50.8V66.4M462.26 79.8V98.0M462.74 89.5V95.6M463.10 92.6V104.8M463.22 95.0V127.7M464.98 39.4V70.7M465.22 32.5V61.7M466.54 44.4V62.1M467.98 60.0V69.0M471.90 39.1V49.5M473.34 51.5V58.5M476.82 54.2V61.8M478.54 31.1V48.0M480.94 45.5V76.8M482.14 54.5V87.9M485.32 34.8V46.0M487.40 36.1V54.2M491.22 46.8V55.5M492.18 67.8V88.7M492.92 32.2V53.1M493.16 34.6V66.8M494.36 31.9V39.5M496.16 47.1V77.1M499.20 30.7V51.7M499.56 35.5V41.6M500.80 36.6V45.5M504.40 59.2V83.7M506.62 52.9V74.0M508.38 42.9V69.5M510.66 58.9V72.5M512.82 25.6V43.4M241.00 37.0V160.0M245.60 37.0V83.0M248.50 37.0V105.0M250.70 37.0V91.0M253.00 37.0V104.0M255.20 37.0V155.0M259.00 37.0V86.0M263.40 37.0V105.0M265.00 37.0V78.0M375.40 37.0V108.0M393.10 37.0V113.0M328.50 50.0V80.0M335.20 63.4V92.0M339.00 73.7V95.0M342.00 84.0V107.0M347.00 105.9V110.0" stroke="#5a5a5a" stroke-width="0.6" fill="none" stroke-opacity="0.85"/>
<line x1="240.00" y1="17.50" x2="300.00" y2="17.50" stroke="#000" stroke-width="0.8"/>
<line x1="300.00" y1="19.00" x2="512.40" y2="19.00" stroke="#777" stroke-width="0.6"/>
<line x1="350.00" y1="20.00" x2="387.00" y2="20.00" stroke="#333" stroke-width="0.5"/>
<line x1="405.00" y1="20.80" x2="512.40" y2="20.80" stroke="#333" stroke-width="0.5"/>
<line x1="413.50" y1="27.50" x2="465.00" y2="27.50" stroke="#555" stroke-width="0.5"/>
<line x1="512.40" y1="19.00" x2="512.40" y2="24.00" stroke="#444" stroke-width="0.6"/>
<text x="237.30" y="193.90" font-size="7.3" font-family="'Liberation Serif', 'Times New Roman', serif" fill="#000" text-anchor="end" font-weight="normal">Dynamic Tree Cut</text>
<text x="237.30" y="222.90" font-size="7.3" font-family="'Liberation Serif', 'Times New Roman', serif" fill="#000" text-anchor="end" font-weight="normal">Merged dynamic</text>
<rect x="240.00" y="176.80" width="1.61" height="29.50" fill="#c8908c"/>
<rect x="241.56" y="176.80" width="1.62" height="29.50" fill="#b0a0a8"/>
<rect x="243.13" y="176.80" width="1.67" height="29.50" fill="#a8a0a0"/>
<rect x="244.75" y="176.80" width="1.58" height="29.50" fill="#c89890"/>
<rect x="246.28" y="176.80" width="1.88" height="29.50" fill="#98a088"/>
<rect x="248.10" y="176.80" width="1.35" height="29.50" fill="#c0a0b0"/>
<rect x="249.40" y="176.80" width="1.64" height="29.50" fill="#a890a8"/>
<rect x="250.99" y="176.80" width="1.68" height="29.50" fill="#c0a0b0"/>
<rect x="252.62" y="176.80" width="1.65" height="29.50" fill="#c0a0b0"/>
<rect x="254.21" y="176.80" width="1.13" height="29.50" fill="#b0a0a8"/>
<rect x="255.29" y="176.80" width="1.77" height="29.50" fill="#a890a8"/>
<rect x="257.01" y="176.80" width="1.15" height="29.50" fill="#a890a8"/>
<rect x="258.11" y="176.80" width="1.61" height="29.50" fill="#a890a8"/>
<rect x="259.67" y="176.80" width="1.29" height="29.50" fill="#a890a8"/>
<rect x="260.91" y="176.80" width="1.08" height="29.50" fill="#98a088"/>
<rect x="261.94" y="176.80" width="1.52" height="29.50" fill="#98a088"/>
<rect x="263.42" y="176.80" width="1.58" height="29.50" fill="#b09098"/>
<rect x="264.95" y="176.80" width="1.65" height="29.50" fill="#c0a0b0"/>
<rect x="266.55" y="176.80" width="1.20" height="29.50" fill="#c0a0b0"/>
<rect x="267.70" y="176.80" width="1.45" height="29.50" fill="#c8908c"/>
<rect x="269.11" y="176.80" width="0.90" height="29.50" fill="#b09098"/>
<rect x="269.96" y="176.80" width="0.09" height="29.50" fill="#c8908c"/>
<rect x="240.00" y="206.30" width="1.93" height="29.50" fill="#b09078"/>
<rect x="241.88" y="206.30" width="1.67" height="29.50" fill="#88a068"/>
<rect x="243.50" y="206.30" width="0.97" height="29.50" fill="#98a078"/>
<rect x="244.43" y="206.30" width="1.83" height="29.50" fill="#a09868"/>
<rect x="246.21" y="206.30" width="1.08" height="29.50" fill="#98a078"/>
<rect x="247.24" y="206.30" width="0.93" height="29.50" fill="#90a070"/>
<rect x="248.12" y="206.30" width="1.56" height="29.50" fill="#b09078"/>
<rect x="249.63" y="206.30" width="1.13" height="29.50" fill="#88a068"/>
<rect x="250.71" y="206.30" width="0.88" height="29.50" fill="#a8a070"/>
<rect x="251.53" y="206.30" width="1.49" height="29.50" fill="#90a070"/>
<rect x="252.97" y="206.30" width="1.45" height="29.50" fill="#a09868"/>
<rect x="254.37" y="206.30" width="2.03" height="29.50" fill="#a09868"/>
<rect x="256.35" y="206.30" width="1.93" height="29.50" fill="#90a070"/>
<rect x="258.23" y="206.30" width="1.59" height="29.50" fill="#a09868"/>
<rect x="259.77" y="206.30" width="0.89" height="29.50" fill="#a8a070"/>
<rect x="260.61" y="206.30" width="1.12" height="29.50" fill="#a09868"/>
<rect x="261.68" y="206.30" width="1.11" height="29.50" fill="#98a078"/>
<rect x="262.74" y="206.30" width="1.34" height="29.50" fill="#88a068"/>
<rect x="264.03" y="206.30" width="1.47" height="29.50" fill="#80a878"/>
<rect x="265.45" y="206.30" width="0.95" height="29.50" fill="#88a068"/>
<rect x="266.35" y="206.30" width="1.67" height="29.50" fill="#90a070"/>
<rect x="267.96" y="206.30" width="1.09" height="29.50" fill="#a09868"/>
<rect x="270.00" y="176.80" width="1.45" height="29.50" fill="#406820"/>
<rect x="271.40" y="176.80" width="1.25" height="29.50" fill="#ffffff"/>
<rect x="272.60" y="176.80" width="0.45" height="29.50" fill="#8b1a1a"/>
<rect x="273.00" y="176.80" width="2.05" height="29.50" fill="#8b1a1a"/>
<rect x="275.00" y="176.80" width="2.05" height="29.50" fill="#c878c8"/>
<rect x="277.00" y="176.80" width="1.75" height="29.50" fill="#b070b0"/>
<rect x="278.70" y="176.80" width="2.35" height="29.50" fill="#a8a088"/>
<rect x="281.00" y="176.80" width="2.85" height="29.50" fill="#b09c90"/>
<rect x="283.80" y="176.80" width="1.65" height="29.50" fill="#e8f0a0"/>
<rect x="285.40" y="176.80" width="1.65" height="29.50" fill="#60b040"/>
<rect x="287.00" y="176.80" width="4.55" height="29.50" fill="#f08070"/>
<rect x="291.50" y="176.80" width="3.05" height="29.50" fill="#a89098"/>
<rect x="294.50" y="176.80" width="8.55" height="29.50" fill="#a8a0a8"/>
<rect x="303.00" y="176.80" width="3.05" height="29.50" fill="#3050b0"/>
<rect x="306.00" y="176.80" width="2.05" height="29.50" fill="#58b8b0"/>
<rect x="308.00" y="176.80" width="2.05" height="29.50" fill="#9aa098"/>
<rect x="310.00" y="176.80" width="3.55" height="29.50" fill="#60b8b0"/>
<rect x="313.50" y="176.80" width="1.35" height="29.50" fill="#e0d060"/>
<rect x="314.80" y="176.80" width="2.05" height="29.50" fill="#c8a880"/>
<rect x="316.80" y="176.80" width="1.95" height="29.50" fill="#f08060"/>
<rect x="318.70" y="176.80" width="1.95" height="29.50" fill="#ffffff"/>
<rect x="320.60" y="176.80" width="1.45" height="29.50" fill="#b090a0"/>
<rect x="322.00" y="176.80" width="5.65" height="29.50" fill="#58bcb4"/>
<rect x="327.60" y="176.80" width="1.95" height="29.50" fill="#f0d8e8"/>
<rect x="329.50" y="176.80" width="3.95" height="29.50" fill="#58bcb4"/>
<rect x="333.40" y="176.80" width="2.65" height="29.50" fill="#e0e030"/>
<rect x="336.00" y="176.80" width="17.75" height="29.50" fill="#5cc0b8"/>
<rect x="353.70" y="176.80" width="2.65" height="29.50" fill="#ffffff"/>
<rect x="356.30" y="176.80" width="4.45" height="29.50" fill="#a02050"/>
<rect x="360.70" y="176.80" width="1.95" height="29.50" fill="#b06070"/>
<rect x="362.60" y="176.80" width="3.95" height="29.50" fill="#70c8d8"/>
<rect x="366.50" y="176.80" width="2.55" height="29.50" fill="#ffffff"/>
<rect x="369.00" y="176.80" width="2.55" height="29.50" fill="#e0a0c0"/>
<rect x="371.50" y="176.80" width="4.55" height="29.50" fill="#b0c830"/>
<rect x="376.00" y="176.80" width="2.55" height="29.50" fill="#e08070"/>
<rect x="378.50" y="176.80" width="2.55" height="29.50" fill="#e02020"/>
<rect x="381.00" y="176.80" width="1.35" height="29.50" fill="#d0b090"/>
<rect x="382.30" y="176.80" width="3.25" height="29.50" fill="#f09020"/>
<rect x="385.50" y="176.80" width="1.95" height="29.50" fill="#f8d8a0"/>
<rect x="387.40" y="176.80" width="1.95" height="29.50" fill="#90a080"/>
<rect x="389.30" y="176.80" width="1.95" height="29.50" fill="#e0a0b8"/>
<rect x="391.20" y="176.80" width="1.85" height="29.50" fill="#8040a0"/>
<rect x="393.00" y="176.80" width="2.05" height="29.50" fill="#283890"/>
<rect x="395.00" y="176.80" width="5.05" height="29.50" fill="#90d080"/>
<rect x="400.00" y="176.80" width="3.05" height="29.50" fill="#907090"/>
<rect x="403.00" y="176.80" width="2.85" height="29.50" fill="#b04060"/>
<rect x="405.80" y="176.80" width="5.25" height="29.50" fill="#30c0c8"/>
<rect x="411.00" y="176.80" width="3.05" height="29.50" fill="#a06080"/>
<rect x="414.00" y="176.80" width="2.65" height="29.50" fill="#8050a0"/>
<rect x="416.60" y="176.80" width="1.95" height="29.50" fill="#e0b0e0"/>
<rect x="418.50" y="176.80" width="5.85" height="29.50" fill="#8040a0"/>
<rect x="424.30" y="176.80" width="1.25" height="29.50" fill="#d04060"/>
<rect x="425.50" y="176.80" width="2.55" height="29.50" fill="#70c8e0"/>
<rect x="428.00" y="176.80" width="3.05" height="29.50" fill="#8848a0"/>
<rect x="431.00" y="176.80" width="2.85" height="29.50" fill="#e090b0"/>
<rect x="433.80" y="176.80" width="1.75" height="29.50" fill="#705080"/>
<rect x="435.50" y="176.80" width="2.15" height="29.50" fill="#384090"/>
<rect x="437.60" y="176.80" width="2.45" height="29.50" fill="#6050a0"/>
<rect x="440.00" y="176.80" width="2.05" height="29.50" fill="#3a3a8a"/>
<rect x="442.00" y="176.80" width="4.05" height="29.50" fill="#4040a0"/>
<rect x="446.00" y="176.80" width="1.55" height="29.50" fill="#a09098"/>
<rect x="447.50" y="176.80" width="1.55" height="29.50" fill="#e0a0b0"/>
<rect x="449.00" y="176.80" width="3.45" height="29.50" fill="#000000"/>
<rect x="452.40" y="176.80" width="2.05" height="29.50" fill="#f0a030"/>
<rect x="454.40" y="176.80" width="2.15" height="29.50" fill="#f8f0e0"/>
<rect x="456.50" y="176.80" width="7.55" height="29.50" fill="#2848b0"/>
<rect x="464.00" y="176.80" width="2.25" height="29.50" fill="#f8ecd8"/>
<rect x="466.20" y="176.80" width="2.85" height="29.50" fill="#a8d8f0"/>
<rect x="469.00" y="176.80" width="3.05" height="29.50" fill="#e0a0c8"/>
<rect x="472.00" y="176.80" width="3.05" height="29.50" fill="#e88080"/>
<rect x="475.00" y="176.80" width="2.05" height="29.50" fill="#d8d8d8"/>
<rect x="477.00" y="176.80" width="3.05" height="29.50" fill="#8b1a1a"/>
<rect x="480.00" y="176.80" width="4.05" height="29.50" fill="#7040a0"/>
<rect x="484.00" y="176.80" width="3.55" height="29.50" fill="#e08890"/>
<rect x="487.50" y="176.80" width="2.55" height="29.50" fill="#909080"/>
<rect x="490.00" y="176.80" width="2.55" height="29.50" fill="#a07070"/>
<rect x="492.50" y="176.80" width="2.05" height="29.50" fill="#b08090"/>
<rect x="494.50" y="176.80" width="4.25" height="29.50" fill="#106030"/>
<rect x="498.70" y="176.80" width="1.85" height="29.50" fill="#c090a0"/>
<rect x="500.50" y="176.80" width="2.05" height="29.50" fill="#8b2030"/>
<rect x="502.50" y="176.80" width="2.05" height="29.50" fill="#e0a0b0"/>
<rect x="504.50" y="176.80" width="2.05" height="29.50" fill="#d0d0d0"/>
<rect x="506.50" y="176.80" width="3.25" height="29.50" fill="#808040"/>
<rect x="509.70" y="176.80" width="2.15" height="29.50" fill="#60b030"/>
<rect x="511.80" y="176.80" width="2.85" height="29.50" fill="#c0e0f0"/>
<rect x="269.00" y="206.30" width="6.05" height="29.50" fill="#962020"/>
<rect x="275.00" y="206.30" width="2.05" height="29.50" fill="#a08070"/>
<rect x="277.00" y="206.30" width="3.05" height="29.50" fill="#b89088"/>
<rect x="280.00" y="206.30" width="4.55" height="29.50" fill="#60b040"/>
<rect x="284.50" y="206.30" width="0.95" height="29.50" fill="#f0f0c0"/>
<rect x="285.40" y="206.30" width="8.65" height="29.50" fill="#6ab830"/>
<rect x="294.00" y="206.30" width="2.85" height="29.50" fill="#a08070"/>
<rect x="296.80" y="206.30" width="3.65" height="29.50" fill="#ffffff"/>
<rect x="300.40" y="206.30" width="2.65" height="29.50" fill="#5ab0b0"/>
<rect x="303.00" y="206.30" width="3.05" height="29.50" fill="#f5d5a0"/>
<rect x="306.00" y="206.30" width="2.05" height="29.50" fill="#5ab8b4"/>
<rect x="308.00" y="206.30" width="2.05" height="29.50" fill="#c0b090"/>
<rect x="310.00" y="206.30" width="5.55" height="29.50" fill="#5cbcb8"/>
<rect x="315.50" y="206.30" width="1.35" height="29.50" fill="#8b2020"/>
<rect x="316.80" y="206.30" width="1.95" height="29.50" fill="#5cbcb8"/>
<rect x="318.70" y="206.30" width="1.35" height="29.50" fill="#7a1a1a"/>
<rect x="320.00" y="206.30" width="2.05" height="29.50" fill="#a08090"/>
<rect x="322.00" y="206.30" width="5.65" height="29.50" fill="#5cbcb8"/>
<rect x="327.60" y="206.30" width="1.45" height="29.50" fill="#f8e8c0"/>
<rect x="329.00" y="206.30" width="24.75" height="29.50" fill="#5ebfbb"/>
<rect x="353.70" y="206.30" width="2.65" height="29.50" fill="#ffffff"/>
<rect x="356.30" y="206.30" width="5.15" height="29.50" fill="#e04040"/>
<rect x="361.40" y="206.30" width="1.25" height="29.50" fill="#a09090"/>
<rect x="362.60" y="206.30" width="6.45" height="29.50" fill="#60c0d8"/>
<rect x="369.00" y="206.30" width="1.35" height="29.50" fill="#f0f0f0"/>
<rect x="370.30" y="206.30" width="17.15" height="29.50" fill="#e03c3c"/>
<rect x="387.40" y="206.30" width="2.65" height="29.50" fill="#a08070"/>
<rect x="390.00" y="206.30" width="2.05" height="29.50" fill="#c08070"/>
<rect x="392.00" y="206.30" width="1.25" height="29.50" fill="#ffffff"/>
<rect x="393.20" y="206.30" width="3.15" height="29.50" fill="#e06040"/>
<rect x="396.30" y="206.30" width="3.75" height="29.50" fill="#90d080"/>
<rect x="400.00" y="206.30" width="4.05" height="29.50" fill="#a09088"/>
<rect x="404.00" y="206.30" width="6.35" height="29.50" fill="#9a2020"/>
<rect x="410.30" y="206.30" width="2.05" height="29.50" fill="#a07060"/>
<rect x="412.30" y="206.30" width="2.75" height="29.50" fill="#e04040"/>
<rect x="415.00" y="206.30" width="2.05" height="29.50" fill="#a09088"/>
<rect x="417.00" y="206.30" width="2.55" height="29.50" fill="#d04040"/>
<rect x="419.50" y="206.30" width="4.15" height="29.50" fill="#a07068"/>
<rect x="423.60" y="206.30" width="3.95" height="29.50" fill="#68c0d8"/>
<rect x="427.50" y="206.30" width="2.55" height="29.50" fill="#a08078"/>
<rect x="430.00" y="206.30" width="3.05" height="29.50" fill="#8b2020"/>
<rect x="433.00" y="206.30" width="4.05" height="29.50" fill="#68c8d8"/>
<rect x="437.00" y="206.30" width="2.05" height="29.50" fill="#c06050"/>
<rect x="439.00" y="206.30" width="3.05" height="29.50" fill="#a03030"/>
<rect x="442.00" y="206.30" width="11.05" height="29.50" fill="#a02828"/>
<rect x="453.00" y="206.30" width="2.05" height="29.50" fill="#909090"/>
<rect x="455.00" y="206.30" width="9.05" height="29.50" fill="#a02828"/>
<rect x="464.00" y="206.30" width="3.65" height="29.50" fill="#a08070"/>
<rect x="467.60" y="206.30" width="3.45" height="29.50" fill="#f8f8f8"/>
<rect x="471.00" y="206.30" width="2.05" height="29.50" fill="#8b2020"/>
<rect x="473.00" y="206.30" width="11.05" height="29.50" fill="#60c0d8"/>
<rect x="484.00" y="206.30" width="3.65" height="29.50" fill="#e87050"/>
<rect x="487.60" y="206.30" width="2.05" height="29.50" fill="#60b040"/>
<rect x="489.60" y="206.30" width="2.85" height="29.50" fill="#50b090"/>
<rect x="492.40" y="206.30" width="2.65" height="29.50" fill="#f8e8b8"/>
<rect x="495.00" y="206.30" width="3.05" height="29.50" fill="#8b2020"/>
<rect x="498.00" y="206.30" width="8.05" height="29.50" fill="#60b830"/>
<rect x="506.00" y="206.30" width="1.65" height="29.50" fill="#908040"/>
<rect x="507.60" y="206.30" width="4.25" height="29.50" fill="#60b830"/>
<rect x="511.80" y="206.30" width="2.85" height="29.50" fill="#902020"/>
<line x1="240" y1="206.3" x2="514.6" y2="206.3" stroke="#555" stroke-width="0.4" stroke-opacity="0.5"/>
<rect x="179.70" y="247.90" width="3.10" height="3.10" fill="#a52a2a"/>
<text x="184.30" y="250.90" font-size="4.4" font-family="'Liberation Serif', 'Times New Roman', serif" fill="#444" text-anchor="start" font-weight="normal">brown</text>
<rect x="179.70" y="254.07" width="3.10" height="3.10" fill="#4fc0bc"/>
<text x="184.30" y="257.07" font-size="4.4" font-family="'Liberation Serif', 'Times New Roman', serif" fill="#444" text-anchor="start" font-weight="normal">turquoise</text>
<rect x="179.70" y="260.24" width="3.10" height="3.10" fill="#68c4dc"/>
<text x="184.30" y="263.24" font-size="4.4" font-family="'Liberation Serif', 'Times New Roman', serif" fill="#444" text-anchor="start" font-weight="normal">cyan</text>
<rect x="179.70" y="266.41" width="3.10" height="3.10" fill="#5cb030"/>
<text x="184.30" y="269.41" font-size="4.4" font-family="'Liberation Serif', 'Times New Roman', serif" fill="#444" text-anchor="start" font-weight="normal">green</text>
<rect x="179.70" y="272.58" width="3.10" height="3.10" fill="#e83838"/>
<text x="184.30" y="275.58" font-size="4.4" font-family="'Liberation Serif', 'Times New Roman', serif" fill="#444" text-anchor="start" font-weight="normal">brown2</text>
<rect x="179.70" y="278.75" width="3.10" height="3.10" fill="#8b7d6b"/>
<text x="184.30" y="281.75" font-size="4.4" font-family="'Liberation Serif', 'Times New Roman', serif" fill="#444" text-anchor="start" font-weight="normal">bisque4</text>
<rect x="179.70" y="284.92" width="3.10" height="3.10" fill="#fcd9a8"/>
<text x="184.30" y="287.92" font-size="4.4" font-family="'Liberation Serif', 'Times New Roman', serif" fill="#444" text-anchor="start" font-weight="normal">navajowhite1</text>
<rect x="179.70" y="291.09" width="3.10" height="3.10" fill="#8b2323"/>
<text x="184.30" y="294.09" font-size="4.4" font-family="'Liberation Serif', 'Times New Roman', serif" fill="#444" text-anchor="start" font-weight="normal">brown4</text>
<rect x="179.70" y="297.26" width="3.10" height="3.10" fill="#8b1a1a"/>
<text x="184.30" y="300.26" font-size="4.4" font-family="'Liberation Serif', 'Times New Roman', serif" fill="#444" text-anchor="start" font-weight="normal">firebrick4</text>
<rect x="179.70" y="303.43" width="3.10" height="3.10" fill="#cd5b45"/>
<text x="184.30" y="306.43" font-size="4.4" font-family="'Liberation Serif', 'Times New Roman', serif" fill="#444" text-anchor="start" font-weight="normal">coral3</text>
<rect x="179.70" y="309.60" width="3.10" height="3.10" fill="#fffaf0"/>
<text x="184.30" y="312.60" font-size="4.4" font-family="'Liberation Serif', 'Times New Roman', serif" fill="#444" text-anchor="start" font-weight="normal">floralwhite</text>
<rect x="179.70" y="315.77" width="3.10" height="3.10" fill="#80d080"/>
<text x="184.30" y="318.77" font-size="4.4" font-family="'Liberation Serif', 'Times New Roman', serif" fill="#444" text-anchor="start" font-weight="normal">lightgreen</text>
<rect x="179.70" y="321.94" width="3.10" height="3.10" fill="#ee7a5a"/>
<text x="184.30" y="324.94" font-size="4.4" font-family="'Liberation Serif', 'Times New Roman', serif" fill="#444" text-anchor="start" font-weight="normal">salmon2</text>
<rect x="211.60" y="247.90" width="3.10" height="3.10" fill="#eef8ee"/>
<text x="215.80" y="250.90" font-size="4.4" font-family="'Liberation Serif', 'Times New Roman', serif" fill="#444" text-anchor="start" font-weight="normal">honeydew</text>
<rect x="211.60" y="254.07" width="3.10" height="3.10" fill="#bebebe"/>
<text x="215.80" y="257.07" font-size="4.4" font-family="'Liberation Serif', 'Times New Roman', serif" fill="#444" text-anchor="start" font-weight="normal">grey</text>
<rect x="211.60" y="260.24" width="3.10" height="3.10" fill="#ee7600"/>
<text x="215.80" y="263.24" font-size="4.4" font-family="'Liberation Serif', 'Times New Roman', serif" fill="#444" text-anchor="start" font-weight="normal">darkorange2</text>
<rect x="211.60" y="266.41" width="3.10" height="3.10" fill="#ff7f50"/>
<text x="215.80" y="269.41" font-size="4.4" font-family="'Liberation Serif', 'Times New Roman', serif" fill="#444" text-anchor="start" font-weight="normal">coral</text>
<rect x="211.60" y="272.58" width="3.10" height="3.10" fill="#9a4ac8"/>
<text x="215.80" y="275.58" font-size="4.4" font-family="'Liberation Serif', 'Times New Roman', serif" fill="#444" text-anchor="start" font-weight="normal">mediumorchid</text>
<rect x="211.60" y="278.75" width="3.10" height="3.10" fill="#eee0e5"/>
<text x="215.80" y="281.75" font-size="4.4" font-family="'Liberation Serif', 'Times New Roman', serif" fill="#444" text-anchor="start" font-weight="normal">lavenderblush2</text>
<text x="265.30" y="317.50" font-size="3.6" font-family="'Liberation Serif', 'Times New Roman', serif" fill="#555" text-anchor="end" font-weight="normal">0</text>
<line x1="265.50" y1="316.30" x2="267.00" y2="316.30" stroke="#888" stroke-width="0.4"/>
<line x1="267.00" y1="311.55" x2="499.60" y2="311.55" stroke="#e4e4e4" stroke-width="0.4"/>
<text x="265.30" y="312.75" font-size="3.6" font-family="'Liberation Serif', 'Times New Roman', serif" fill="#555" text-anchor="end" font-weight="normal">500</text>
<line x1="265.50" y1="311.55" x2="267.00" y2="311.55" stroke="#888" stroke-width="0.4"/>
<line x1="267.00" y1="306.80" x2="499.60" y2="306.80" stroke="#e4e4e4" stroke-width="0.4"/>
<text x="265.30" y="308.00" font-size="3.6" font-family="'Liberation Serif', 'Times New Roman', serif" fill="#555" text-anchor="end" font-weight="normal">1,000</text>
<line x1="265.50" y1="306.80" x2="267.00" y2="306.80" stroke="#888" stroke-width="0.4"/>
<line x1="267.00" y1="302.05" x2="499.60" y2="302.05" stroke="#e4e4e4" stroke-width="0.4"/>
<text x="265.30" y="303.25" font-size="3.6" font-family="'Liberation Serif', 'Times New Roman', serif" fill="#555" text-anchor="end" font-weight="normal">1,500</text>
<line x1="265.50" y1="302.05" x2="267.00" y2="302.05" stroke="#888" stroke-width="0.4"/>
<line x1="267.00" y1="297.30" x2="499.60" y2="297.30" stroke="#e4e4e4" stroke-width="0.4"/>
<text x="265.30" y="298.50" font-size="3.6" font-family="'Liberation Serif', 'Times New Roman', serif" fill="#555" text-anchor="end" font-weight="normal">2,000</text>
<line x1="265.50" y1="297.30" x2="267.00" y2="297.30" stroke="#888" stroke-width="0.4"/>
<line x1="267.00" y1="292.55" x2="499.60" y2="292.55" stroke="#e4e4e4" stroke-width="0.4"/>
<text x="265.30" y="293.75" font-size="3.6" font-family="'Liberation Serif', 'Times New Roman', serif" fill="#555" text-anchor="end" font-weight="normal">2,500</text>
<line x1="265.50" y1="292.55" x2="267.00" y2="292.55" stroke="#888" stroke-width="0.4"/>
<line x1="267.00" y1="287.80" x2="499.60" y2="287.80" stroke="#e4e4e4" stroke-width="0.4"/>
<text x="265.30" y="289.00" font-size="3.6" font-family="'Liberation Serif', 'Times New Roman', serif" fill="#555" text-anchor="end" font-weight="normal">3,000</text>
<line x1="265.50" y1="287.80" x2="267.00" y2="287.80" stroke="#888" stroke-width="0.4"/>
<line x1="267.00" y1="283.05" x2="499.60" y2="283.05" stroke="#e4e4e4" stroke-width="0.4"/>
<text x="265.30" y="284.25" font-size="3.6" font-family="'Liberation Serif', 'Times New Roman', serif" fill="#555" text-anchor="end" font-weight="normal">3,500</text>
<line x1="265.50" y1="283.05" x2="267.00" y2="283.05" stroke="#888" stroke-width="0.4"/>
<line x1="267.00" y1="278.30" x2="499.60" y2="278.30" stroke="#e4e4e4" stroke-width="0.4"/>
<text x="265.30" y="279.50" font-size="3.6" font-family="'Liberation Serif', 'Times New Roman', serif" fill="#555" text-anchor="end" font-weight="normal">4,000</text>
<line x1="265.50" y1="278.30" x2="267.00" y2="278.30" stroke="#888" stroke-width="0.4"/>
<line x1="267.00" y1="273.55" x2="499.60" y2="273.55" stroke="#e4e4e4" stroke-width="0.4"/>
<text x="265.30" y="274.75" font-size="3.6" font-family="'Liberation Serif', 'Times New Roman', serif" fill="#555" text-anchor="end" font-weight="normal">4,500</text>
<line x1="265.50" y1="273.55" x2="267.00" y2="273.55" stroke="#888" stroke-width="0.4"/>
<line x1="267.00" y1="268.80" x2="499.60" y2="268.80" stroke="#e4e4e4" stroke-width="0.4"/>
<text x="265.30" y="270.00" font-size="3.6" font-family="'Liberation Serif', 'Times New Roman', serif" fill="#555" text-anchor="end" font-weight="normal">5,000</text>
<line x1="265.50" y1="268.80" x2="267.00" y2="268.80" stroke="#888" stroke-width="0.4"/>
<line x1="267.00" y1="264.05" x2="499.60" y2="264.05" stroke="#e4e4e4" stroke-width="0.4"/>
<text x="265.30" y="265.25" font-size="3.6" font-family="'Liberation Serif', 'Times New Roman', serif" fill="#555" text-anchor="end" font-weight="normal">5,500</text>
<line x1="265.50" y1="264.05" x2="267.00" y2="264.05" stroke="#888" stroke-width="0.4"/>
<line x1="267.00" y1="259.30" x2="499.60" y2="259.30" stroke="#e4e4e4" stroke-width="0.4"/>
<text x="265.30" y="260.50" font-size="3.6" font-family="'Liberation Serif', 'Times New Roman', serif" fill="#555" text-anchor="end" font-weight="normal">6,000</text>
<line x1="265.50" y1="259.30" x2="267.00" y2="259.30" stroke="#888" stroke-width="0.4"/>
<line x1="267.00" y1="254.55" x2="499.60" y2="254.55" stroke="#e4e4e4" stroke-width="0.4"/>
<text x="265.30" y="255.75" font-size="3.6" font-family="'Liberation Serif', 'Times New Roman', serif" fill="#555" text-anchor="end" font-weight="normal">6,500</text>
<line x1="265.50" y1="254.55" x2="267.00" y2="254.55" stroke="#888" stroke-width="0.4"/>
<rect x="267" y="253.5" width="232.60000000000002" height="63.10000000000002" fill="none" stroke="#999" stroke-width="0.6"/>
<text x="248.90" y="285.70" font-size="4.6" font-family="'Liberation Serif', 'Times New Roman', serif" fill="#333" text-anchor="middle" font-weight="normal" transform="rotate(-90 248.90 285.70)">Gene number</text>
<rect x="274.00" y="269.93" width="8.60" height="46.37" fill="#a52a2a"/>
<text x="278.30" y="268.43" font-size="3.8" font-family="'Liberation Serif', 'Times New Roman', serif" fill="#555" text-anchor="middle" font-weight="normal">4881</text>
<line x1="278.30" y1="316.60" x2="278.30" y2="318.10" stroke="#888" stroke-width="0.4"/>
<text x="277.80" y="323.00" font-size="3.9" font-family="'Liberation Serif', 'Times New Roman', serif" fill="#555" text-anchor="start" font-weight="normal" transform="rotate(28 277.80 323.00)">brown</text>
<rect x="285.64" y="278.27" width="8.60" height="38.03" fill="#4fc0bc"/>
<text x="289.94" y="276.77" font-size="3.8" font-family="'Liberation Serif', 'Times New Roman', serif" fill="#555" text-anchor="middle" font-weight="normal">4003</text>
<line x1="289.94" y1="316.60" x2="289.94" y2="318.10" stroke="#888" stroke-width="0.4"/>
<text x="289.44" y="323.00" font-size="3.9" font-family="'Liberation Serif', 'Times New Roman', serif" fill="#555" text-anchor="start" font-weight="normal" transform="rotate(28 289.44 323.00)">turquoise</text>
<rect x="297.28" y="284.19" width="8.60" height="32.11" fill="#68c4dc"/>
<text x="301.58" y="282.69" font-size="3.8" font-family="'Liberation Serif', 'Times New Roman', serif" fill="#555" text-anchor="middle" font-weight="normal">3380</text>
<line x1="301.58" y1="316.60" x2="301.58" y2="318.10" stroke="#888" stroke-width="0.4"/>
<text x="301.08" y="323.00" font-size="3.9" font-family="'Liberation Serif', 'Times New Roman', serif" fill="#555" text-anchor="start" font-weight="normal" transform="rotate(28 301.08 323.00)">cyan</text>
<rect x="308.92" y="291.17" width="8.60" height="25.13" fill="#5cb030"/>
<text x="313.22" y="289.67" font-size="3.8" font-family="'Liberation Serif', 'Times New Roman', serif" fill="#555" text-anchor="middle" font-weight="normal">2645</text>
<line x1="313.22" y1="316.60" x2="313.22" y2="318.10" stroke="#888" stroke-width="0.4"/>
<text x="312.72" y="323.00" font-size="3.9" font-family="'Liberation Serif', 'Times New Roman', serif" fill="#555" text-anchor="start" font-weight="normal" transform="rotate(28 312.72 323.00)">green</text>
<rect x="320.56" y="292.40" width="8.60" height="23.90" fill="#e83838"/>
<text x="324.86" y="290.90" font-size="3.8" font-family="'Liberation Serif', 'Times New Roman', serif" fill="#555" text-anchor="middle" font-weight="normal">2516</text>
<line x1="324.86" y1="316.60" x2="324.86" y2="318.10" stroke="#888" stroke-width="0.4"/>
<text x="324.36" y="323.00" font-size="3.9" font-family="'Liberation Serif', 'Times New Roman', serif" fill="#555" text-anchor="start" font-weight="normal" transform="rotate(28 324.36 323.00)">brown2</text>
<rect x="332.20" y="306.00" width="8.60" height="10.30" fill="#8b7d6b"/>
<text x="336.50" y="304.50" font-size="3.8" font-family="'Liberation Serif', 'Times New Roman', serif" fill="#555" text-anchor="middle" font-weight="normal">1084</text>
<line x1="336.50" y1="316.60" x2="336.50" y2="318.10" stroke="#888" stroke-width="0.4"/>
<text x="336.00" y="323.00" font-size="3.9" font-family="'Liberation Serif', 'Times New Roman', serif" fill="#555" text-anchor="start" font-weight="normal" transform="rotate(28 336.00 323.00)">bisque4</text>
<rect x="343.84" y="307.68" width="8.60" height="8.62" fill="#fcd9a8"/>
<text x="348.14" y="306.18" font-size="3.8" font-family="'Liberation Serif', 'Times New Roman', serif" fill="#555" text-anchor="middle" font-weight="normal">907</text>
<line x1="348.14" y1="316.60" x2="348.14" y2="318.10" stroke="#888" stroke-width="0.4"/>
<text x="347.64" y="323.00" font-size="3.9" font-family="'Liberation Serif', 'Times New Roman', serif" fill="#555" text-anchor="start" font-weight="normal" transform="rotate(28 347.64 323.00)">navajowhite1</text>
<rect x="355.48" y="308.36" width="8.60" height="7.94" fill="#8b2323"/>
<text x="359.78" y="306.86" font-size="3.8" font-family="'Liberation Serif', 'Times New Roman', serif" fill="#555" text-anchor="middle" font-weight="normal">836</text>
<line x1="359.78" y1="316.60" x2="359.78" y2="318.10" stroke="#888" stroke-width="0.4"/>
<text x="359.28" y="323.00" font-size="3.9" font-family="'Liberation Serif', 'Times New Roman', serif" fill="#555" text-anchor="start" font-weight="normal" transform="rotate(28 359.28 323.00)">brown4</text>
<rect x="367.12" y="308.63" width="8.60" height="7.67" fill="#8b1a1a"/>
<text x="371.42" y="307.13" font-size="3.8" font-family="'Liberation Serif', 'Times New Roman', serif" fill="#555" text-anchor="middle" font-weight="normal">807</text>
<line x1="371.42" y1="316.60" x2="371.42" y2="318.10" stroke="#888" stroke-width="0.4"/>
<text x="370.92" y="323.00" font-size="3.9" font-family="'Liberation Serif', 'Times New Roman', serif" fill="#555" text-anchor="start" font-weight="normal" transform="rotate(28 370.92 323.00)">firebrick4</text>
<rect x="378.76" y="309.20" width="8.60" height="7.10" fill="#cd5b45"/>
<text x="383.06" y="307.70" font-size="3.8" font-family="'Liberation Serif', 'Times New Roman', serif" fill="#555" text-anchor="middle" font-weight="normal">747</text>
<line x1="383.06" y1="316.60" x2="383.06" y2="318.10" stroke="#888" stroke-width="0.4"/>
<text x="382.56" y="323.00" font-size="3.9" font-family="'Liberation Serif', 'Times New Roman', serif" fill="#555" text-anchor="start" font-weight="normal" transform="rotate(28 382.56 323.00)">coral3</text>
<rect x="390.40" y="310.77" width="8.60" height="5.53" fill="#fff6e8"/>
<text x="394.70" y="309.27" font-size="3.8" font-family="'Liberation Serif', 'Times New Roman', serif" fill="#555" text-anchor="middle" font-weight="normal">582</text>
<line x1="394.70" y1="316.60" x2="394.70" y2="318.10" stroke="#888" stroke-width="0.4"/>
<text x="394.20" y="323.00" font-size="3.9" font-family="'Liberation Serif', 'Times New Roman', serif" fill="#555" text-anchor="start" font-weight="normal" transform="rotate(28 394.20 323.00)">floralwhite</text>
<rect x="402.04" y="313.10" width="8.60" height="3.20" fill="#80d080"/>
<text x="406.34" y="311.60" font-size="3.8" font-family="'Liberation Serif', 'Times New Roman', serif" fill="#555" text-anchor="middle" font-weight="normal">337</text>
<line x1="406.34" y1="316.60" x2="406.34" y2="318.10" stroke="#888" stroke-width="0.4"/>
<text x="405.84" y="323.00" font-size="3.9" font-family="'Liberation Serif', 'Times New Roman', serif" fill="#555" text-anchor="start" font-weight="normal" transform="rotate(28 405.84 323.00)">lightgreen</text>
<rect x="413.68" y="313.23" width="8.60" height="3.07" fill="#ee7a5a"/>
<text x="417.98" y="311.73" font-size="3.8" font-family="'Liberation Serif', 'Times New Roman', serif" fill="#555" text-anchor="middle" font-weight="normal">323</text>
<line x1="417.98" y1="316.60" x2="417.98" y2="318.10" stroke="#888" stroke-width="0.4"/>
<text x="417.48" y="323.00" font-size="3.9" font-family="'Liberation Serif', 'Times New Roman', serif" fill="#555" text-anchor="start" font-weight="normal" transform="rotate(28 417.48 323.00)">salmon2</text>
<rect x="425.32" y="313.42" width="8.60" height="2.88" fill="#eef8ee"/>
<text x="429.62" y="311.92" font-size="3.8" font-family="'Liberation Serif', 'Times New Roman', serif" fill="#555" text-anchor="middle" font-weight="normal">303</text>
<line x1="429.62" y1="316.60" x2="429.62" y2="318.10" stroke="#888" stroke-width="0.4"/>
<text x="429.12" y="323.00" font-size="3.9" font-family="'Liberation Serif', 'Times New Roman', serif" fill="#555" text-anchor="start" font-weight="normal" transform="rotate(28 429.12 323.00)">honeydew</text>
<rect x="436.96" y="313.50" width="8.60" height="2.80" fill="#b8b8b8"/>
<text x="441.26" y="312.00" font-size="3.8" font-family="'Liberation Serif', 'Times New Roman', serif" fill="#555" text-anchor="middle" font-weight="normal">295</text>
<line x1="441.26" y1="316.60" x2="441.26" y2="318.10" stroke="#888" stroke-width="0.4"/>
<text x="440.76" y="323.00" font-size="3.9" font-family="'Liberation Serif', 'Times New Roman', serif" fill="#555" text-anchor="start" font-weight="normal" transform="rotate(28 440.76 323.00)">grey</text>
<rect x="448.60" y="314.56" width="8.60" height="1.74" fill="#ee7600"/>
<text x="452.90" y="313.06" font-size="3.8" font-family="'Liberation Serif', 'Times New Roman', serif" fill="#555" text-anchor="middle" font-weight="normal">183</text>
<line x1="452.90" y1="316.60" x2="452.90" y2="318.10" stroke="#888" stroke-width="0.4"/>
<text x="452.40" y="323.00" font-size="3.9" font-family="'Liberation Serif', 'Times New Roman', serif" fill="#555" text-anchor="start" font-weight="normal" transform="rotate(28 452.40 323.00)">darkorange2</text>
<rect x="460.24" y="314.62" width="8.60" height="1.68" fill="#ff7f50"/>
<text x="464.54" y="313.12" font-size="3.8" font-family="'Liberation Serif', 'Times New Roman', serif" fill="#555" text-anchor="middle" font-weight="normal">177</text>
<line x1="464.54" y1="316.60" x2="464.54" y2="318.10" stroke="#888" stroke-width="0.4"/>
<text x="464.04" y="323.00" font-size="3.9" font-family="'Liberation Serif', 'Times New Roman', serif" fill="#555" text-anchor="start" font-weight="normal" transform="rotate(28 464.04 323.00)">coral</text>
<rect x="471.88" y="314.88" width="8.60" height="1.42" fill="#9a4ac8"/>
<text x="476.18" y="313.38" font-size="3.8" font-family="'Liberation Serif', 'Times New Roman', serif" fill="#555" text-anchor="middle" font-weight="normal">149</text>
<line x1="476.18" y1="316.60" x2="476.18" y2="318.10" stroke="#888" stroke-width="0.4"/>
<text x="475.68" y="323.00" font-size="3.9" font-family="'Liberation Serif', 'Times New Roman', serif" fill="#555" text-anchor="start" font-weight="normal" transform="rotate(28 475.68 323.00)">mediumorchid</text>
<rect x="483.52" y="315.52" width="8.60" height="0.78" fill="#eee0e5"/>
<text x="487.82" y="314.02" font-size="3.8" font-family="'Liberation Serif', 'Times New Roman', serif" fill="#555" text-anchor="middle" font-weight="normal">82</text>
<line x1="487.82" y1="316.60" x2="487.82" y2="318.10" stroke="#888" stroke-width="0.4"/>
<text x="487.32" y="323.00" font-size="3.9" font-family="'Liberation Serif', 'Times New Roman', serif" fill="#555" text-anchor="start" font-weight="normal" transform="rotate(28 487.32 323.00)">lavenderblush2</text>
<text x="383.30" y="341.80" font-size="4.3" font-family="'Liberation Serif', 'Times New Roman', serif" fill="#333" text-anchor="middle" font-weight="bold">module names</text>
<text x="27.90" y="371.20" font-size="12.8" font-family="'Liberation Serif', 'Times New Roman', serif" fill="#000" text-anchor="start" font-weight="normal">B</text>
<rect x="51.30" y="350.90" width="12.90" height="12.87" fill="#8fb0d5" stroke="#e8e8e8" stroke-width="0.5"/>
<rect x="64.20" y="350.90" width="12.90" height="12.87" fill="#7aa0cc" stroke="#e8e8e8" stroke-width="0.5"/>
<text x="70.65" y="362.33" font-size="6.6" font-family="'Liberation Sans', Arial, sans-serif" fill="#fff" text-anchor="middle" font-weight="normal" letter-spacing="0.4" fill-opacity="0.9">*</text>
<rect x="77.10" y="350.90" width="12.90" height="12.87" fill="#d06070" stroke="#e8e8e8" stroke-width="0.5"/>
<text x="83.55" y="362.33" font-size="6.6" font-family="'Liberation Sans', Arial, sans-serif" fill="#fff" text-anchor="middle" font-weight="normal" letter-spacing="0.4" fill-opacity="0.9">*</text>
<line x1="90.00" y1="357.33" x2="92.50" y2="357.33" stroke="#999" stroke-width="0.5"/>
<text x="95.10" y="359.03" font-size="7.2" font-family="'Liberation Sans', Arial, sans-serif" fill="#111" text-anchor="start" font-weight="normal">MM.honeydew</text>
<rect x="51.30" y="363.77" width="12.90" height="12.87" fill="#5a8ac0" stroke="#e8e8e8" stroke-width="0.5"/>
<text x="57.75" y="375.20" font-size="6.6" font-family="'Liberation Sans', Arial, sans-serif" fill="#fff" text-anchor="middle" font-weight="normal" letter-spacing="0.4" fill-opacity="0.9">**</text>
<rect x="64.20" y="363.77" width="12.90" height="12.87" fill="#8eb0d6" stroke="#e8e8e8" stroke-width="0.5"/>
<text x="70.65" y="375.20" font-size="6.6" font-family="'Liberation Sans', Arial, sans-serif" fill="#fff" text-anchor="middle" font-weight="normal" letter-spacing="0.4" fill-opacity="0.9">*</text>
<rect x="77.10" y="363.77" width="12.90" height="12.87" fill="#f0c8cc" stroke="#e8e8e8" stroke-width="0.5"/>
<line x1="90.00" y1="370.20" x2="92.50" y2="370.20" stroke="#999" stroke-width="0.5"/>
<text x="95.10" y="371.90" font-size="7.2" font-family="'Liberation Sans', Arial, sans-serif" fill="#111" text-anchor="start" font-weight="normal">MM.brown</text>
<rect x="51.30" y="376.64" width="12.90" height="12.87" fill="#6a96c8" stroke="#e8e8e8" stroke-width="0.5"/>
<text x="57.75" y="388.07" font-size="6.6" font-family="'Liberation Sans', Arial, sans-serif" fill="#fff" text-anchor="middle" font-weight="normal" letter-spacing="0.4" fill-opacity="0.9">*</text>
<rect x="64.20" y="376.64" width="12.90" height="12.87" fill="#5a88c0" stroke="#e8e8e8" stroke-width="0.5"/>
<text x="70.65" y="388.07" font-size="6.6" font-family="'Liberation Sans', Arial, sans-serif" fill="#fff" text-anchor="middle" font-weight="normal" letter-spacing="0.4" fill-opacity="0.9">**</text>
<rect x="77.10" y="376.64" width="12.90" height="12.87" fill="#c0283a" stroke="#e8e8e8" stroke-width="0.5"/>
<text x="83.55" y="388.07" font-size="6.6" font-family="'Liberation Sans', Arial, sans-serif" fill="#fff" text-anchor="middle" font-weight="normal" letter-spacing="0.4" fill-opacity="0.9">***</text>
<line x1="90.00" y1="383.07" x2="92.50" y2="383.07" stroke="#999" stroke-width="0.5"/>
<text x="95.10" y="384.77" font-size="7.2" font-family="'Liberation Sans', Arial, sans-serif" fill="#111" text-anchor="start" font-weight="normal">MM.coral3</text>
<rect x="51.30" y="389.51" width="12.90" height="12.87" fill="#d0dced" stroke="#e8e8e8" stroke-width="0.5"/>
<rect x="64.20" y="389.51" width="12.90" height="12.87" fill="#a0bcdc" stroke="#e8e8e8" stroke-width="0.5"/>
<rect x="77.10" y="389.51" width="12.90" height="12.87" fill="#d47080" stroke="#e8e8e8" stroke-width="0.5"/>
<text x="83.55" y="400.94" font-size="6.6" font-family="'Liberation Sans', Arial, sans-serif" fill="#fff" text-anchor="middle" font-weight="normal" letter-spacing="0.4" fill-opacity="0.9">*</text>
<line x1="90.00" y1="395.94" x2="92.50" y2="395.94" stroke="#999" stroke-width="0.5"/>
<text x="95.10" y="397.64" font-size="7.2" font-family="'Liberation Sans', Arial, sans-serif" fill="#111" text-anchor="start" font-weight="normal">MM.coral</text>
<rect x="51.30" y="402.38" width="12.90" height="12.87" fill="#4a7cb8" stroke="#e8e8e8" stroke-width="0.5"/>
<text x="57.75" y="413.81" font-size="6.6" font-family="'Liberation Sans', Arial, sans-serif" fill="#fff" text-anchor="middle" font-weight="normal" letter-spacing="0.4" fill-opacity="0.9">**</text>
<rect x="64.20" y="402.38" width="12.90" height="12.87" fill="#3a70b0" stroke="#e8e8e8" stroke-width="0.5"/>
<text x="70.65" y="413.81" font-size="6.6" font-family="'Liberation Sans', Arial, sans-serif" fill="#fff" text-anchor="middle" font-weight="normal" letter-spacing="0.4" fill-opacity="0.9">***</text>
<rect x="77.10" y="402.38" width="12.90" height="12.87" fill="#c83848" stroke="#e8e8e8" stroke-width="0.5"/>
<text x="83.55" y="413.81" font-size="6.6" font-family="'Liberation Sans', Arial, sans-serif" fill="#fff" text-anchor="middle" font-weight="normal" letter-spacing="0.4" fill-opacity="0.9">**</text>
<line x1="90.00" y1="408.81" x2="92.50" y2="408.81" stroke="#999" stroke-width="0.5"/>
<text x="95.10" y="410.51" font-size="7.2" font-family="'Liberation Sans', Arial, sans-serif" fill="#111" text-anchor="start" font-weight="normal">MM.lightgreen</text>
<rect x="51.30" y="415.25" width="12.90" height="12.87" fill="#e0a0a8" stroke="#e8e8e8" stroke-width="0.5"/>
<rect x="64.20" y="415.25" width="12.90" height="12.87" fill="#f0c8cc" stroke="#e8e8e8" stroke-width="0.5"/>
<rect x="77.10" y="415.25" width="12.90" height="12.87" fill="#eef2f8" stroke="#e8e8e8" stroke-width="0.5"/>
<line x1="90.00" y1="421.69" x2="92.50" y2="421.69" stroke="#999" stroke-width="0.5"/>
<text x="95.10" y="423.38" font-size="7.2" font-family="'Liberation Sans', Arial, sans-serif" fill="#111" text-anchor="start" font-weight="normal">MM.cyan</text>
<rect x="51.30" y="428.12" width="12.90" height="12.87" fill="#b8cce4" stroke="#e8e8e8" stroke-width="0.5"/>
<rect x="64.20" y="428.12" width="12.90" height="12.87" fill="#6a96c8" stroke="#e8e8e8" stroke-width="0.5"/>
<text x="70.65" y="439.56" font-size="6.6" font-family="'Liberation Sans', Arial, sans-serif" fill="#fff" text-anchor="middle" font-weight="normal" letter-spacing="0.4" fill-opacity="0.9">**</text>
<rect x="77.10" y="428.12" width="12.90" height="12.87" fill="#d46070" stroke="#e8e8e8" stroke-width="0.5"/>
<text x="83.55" y="439.56" font-size="6.6" font-family="'Liberation Sans', Arial, sans-serif" fill="#fff" text-anchor="middle" font-weight="normal" letter-spacing="0.4" fill-opacity="0.9">*</text>
<line x1="90.00" y1="434.56" x2="92.50" y2="434.56" stroke="#999" stroke-width="0.5"/>
<text x="95.10" y="436.25" font-size="7.2" font-family="'Liberation Sans', Arial, sans-serif" fill="#111" text-anchor="start" font-weight="normal">MM.darkorange2</text>
<rect x="51.30" y="440.99" width="12.90" height="12.87" fill="#dde6f2" stroke="#e8e8e8" stroke-width="0.5"/>
<rect x="64.20" y="440.99" width="12.90" height="12.87" fill="#a0bcdc" stroke="#e8e8e8" stroke-width="0.5"/>
<rect x="77.10" y="440.99" width="12.90" height="12.87" fill="#f0c0c8" stroke="#e8e8e8" stroke-width="0.5"/>
<line x1="90.00" y1="447.42" x2="92.50" y2="447.42" stroke="#999" stroke-width="0.5"/>
<text x="95.10" y="449.12" font-size="7.2" font-family="'Liberation Sans', Arial, sans-serif" fill="#111" text-anchor="start" font-weight="normal">MM.mediumorchid</text>
<rect x="51.30" y="453.86" width="12.90" height="12.87" fill="#d06070" stroke="#e8e8e8" stroke-width="0.5"/>
<text x="57.75" y="465.29" font-size="6.6" font-family="'Liberation Sans', Arial, sans-serif" fill="#fff" text-anchor="middle" font-weight="normal" letter-spacing="0.4" fill-opacity="0.9">*</text>
<rect x="64.20" y="453.86" width="12.90" height="12.87" fill="#d46872" stroke="#e8e8e8" stroke-width="0.5"/>
<rect x="77.10" y="453.86" width="12.90" height="12.87" fill="#6a96c8" stroke="#e8e8e8" stroke-width="0.5"/>
<text x="83.55" y="465.29" font-size="6.6" font-family="'Liberation Sans', Arial, sans-serif" fill="#fff" text-anchor="middle" font-weight="normal" letter-spacing="0.4" fill-opacity="0.9">*</text>
<line x1="90.00" y1="460.29" x2="92.50" y2="460.29" stroke="#999" stroke-width="0.5"/>
<text x="95.10" y="461.99" font-size="7.2" font-family="'Liberation Sans', Arial, sans-serif" fill="#111" text-anchor="start" font-weight="normal">MM.brown2</text>
<rect x="51.30" y="466.73" width="12.90" height="12.87" fill="#d87884" stroke="#e8e8e8" stroke-width="0.5"/>
<rect x="64.20" y="466.73" width="12.90" height="12.87" fill="#e8a0a8" stroke="#e8e8e8" stroke-width="0.5"/>
<rect x="77.10" y="466.73" width="12.90" height="12.87" fill="#fafafa" stroke="#e8e8e8" stroke-width="0.5"/>
<line x1="90.00" y1="473.16" x2="92.50" y2="473.16" stroke="#999" stroke-width="0.5"/>
<text x="95.10" y="474.86" font-size="7.2" font-family="'Liberation Sans', Arial, sans-serif" fill="#111" text-anchor="start" font-weight="normal">MM.floralwhite</text>
<rect x="51.30" y="479.60" width="12.90" height="12.87" fill="#f6dde0" stroke="#e8e8e8" stroke-width="0.5"/>
<rect x="64.20" y="479.60" width="12.90" height="12.87" fill="#d87080" stroke="#e8e8e8" stroke-width="0.5"/>
<rect x="77.10" y="479.60" width="12.90" height="12.87" fill="#5a88c0" stroke="#e8e8e8" stroke-width="0.5"/>
<text x="83.55" y="491.03" font-size="6.6" font-family="'Liberation Sans', Arial, sans-serif" fill="#fff" text-anchor="middle" font-weight="normal" letter-spacing="0.4" fill-opacity="0.9">**</text>
<line x1="90.00" y1="486.03" x2="92.50" y2="486.03" stroke="#999" stroke-width="0.5"/>
<text x="95.10" y="487.73" font-size="7.2" font-family="'Liberation Sans', Arial, sans-serif" fill="#111" text-anchor="start" font-weight="normal">MM.green</text>
<rect x="51.30" y="492.47" width="12.90" height="12.87" fill="#e6eef7" stroke="#e8e8e8" stroke-width="0.5"/>
<rect x="64.20" y="492.47" width="12.90" height="12.87" fill="#fbeeee" stroke="#e8e8e8" stroke-width="0.5"/>
<rect x="77.10" y="492.47" width="12.90" height="12.87" fill="#9ab8da" stroke="#e8e8e8" stroke-width="0.5"/>
<line x1="90.00" y1="498.90" x2="92.50" y2="498.90" stroke="#999" stroke-width="0.5"/>
<text x="95.10" y="500.60" font-size="7.2" font-family="'Liberation Sans', Arial, sans-serif" fill="#111" text-anchor="start" font-weight="normal">MM.lavenderblush2</text>
<rect x="51.30" y="505.34" width="12.90" height="12.87" fill="#e09098" stroke="#e8e8e8" stroke-width="0.5"/>
<rect x="64.20" y="505.34" width="12.90" height="12.87" fill="#c83848" stroke="#e8e8e8" stroke-width="0.5"/>
<text x="70.65" y="516.77" font-size="6.6" font-family="'Liberation Sans', Arial, sans-serif" fill="#fff" text-anchor="middle" font-weight="normal" letter-spacing="0.4" fill-opacity="0.9">*</text>
<rect x="77.10" y="505.34" width="12.90" height="12.87" fill="#4a7cb8" stroke="#e8e8e8" stroke-width="0.5"/>
<text x="83.55" y="516.77" font-size="6.6" font-family="'Liberation Sans', Arial, sans-serif" fill="#fff" text-anchor="middle" font-weight="normal" letter-spacing="0.4" fill-opacity="0.9">**</text>
<line x1="90.00" y1="511.77" x2="92.50" y2="511.77" stroke="#999" stroke-width="0.5"/>
<text x="95.10" y="513.48" font-size="7.2" font-family="'Liberation Sans', Arial, sans-serif" fill="#111" text-anchor="start" font-weight="normal">MM.bisque4</text>
<rect x="51.30" y="518.21" width="12.90" height="12.87" fill="#cad9ec" stroke="#e8e8e8" stroke-width="0.5"/>
<rect x="64.20" y="518.21" width="12.90" height="12.87" fill="#e898a0" stroke="#e8e8e8" stroke-width="0.5"/>
<rect x="77.10" y="518.21" width="12.90" height="12.87" fill="#5a88c0" stroke="#e8e8e8" stroke-width="0.5"/>
<text x="83.55" y="529.64" font-size="6.6" font-family="'Liberation Sans', Arial, sans-serif" fill="#fff" text-anchor="middle" font-weight="normal" letter-spacing="0.4" fill-opacity="0.9">**</text>
<line x1="90.00" y1="524.64" x2="92.50" y2="524.64" stroke="#999" stroke-width="0.5"/>
<text x="95.10" y="526.35" font-size="7.2" font-family="'Liberation Sans', Arial, sans-serif" fill="#111" text-anchor="start" font-weight="normal">MM.brown4</text>
<rect x="51.30" y="531.08" width="12.90" height="12.87" fill="#fdf6f6" stroke="#e8e8e8" stroke-width="0.5"/>
<rect x="64.20" y="531.08" width="12.90" height="12.87" fill="#f8e4e6" stroke="#e8e8e8" stroke-width="0.5"/>
<rect x="77.10" y="531.08" width="12.90" height="12.87" fill="#f2d0d4" stroke="#e8e8e8" stroke-width="0.5"/>
<line x1="90.00" y1="537.51" x2="92.50" y2="537.51" stroke="#999" stroke-width="0.5"/>
<text x="95.10" y="539.21" font-size="7.2" font-family="'Liberation Sans', Arial, sans-serif" fill="#111" text-anchor="start" font-weight="normal">MM.firebrick4</text>
<rect x="51.30" y="543.95" width="12.90" height="12.87" fill="#e09aa2" stroke="#e8e8e8" stroke-width="0.5"/>
<rect x="64.20" y="543.95" width="12.90" height="12.87" fill="#f4d4d8" stroke="#e8e8e8" stroke-width="0.5"/>
<rect x="77.10" y="543.95" width="12.90" height="12.87" fill="#d87080" stroke="#e8e8e8" stroke-width="0.5"/>
<line x1="90.00" y1="550.38" x2="92.50" y2="550.38" stroke="#999" stroke-width="0.5"/>
<text x="95.10" y="552.08" font-size="7.2" font-family="'Liberation Sans', Arial, sans-serif" fill="#111" text-anchor="start" font-weight="normal">MM.turquoise</text>
<rect x="51.30" y="556.82" width="12.90" height="12.87" fill="#d06070" stroke="#e8e8e8" stroke-width="0.5"/>
<rect x="64.20" y="556.82" width="12.90" height="12.87" fill="#c85060" stroke="#e8e8e8" stroke-width="0.5"/>
<text x="70.65" y="568.25" font-size="6.6" font-family="'Liberation Sans', Arial, sans-serif" fill="#fff" text-anchor="middle" font-weight="normal" letter-spacing="0.4" fill-opacity="0.9">*</text>
<rect x="77.10" y="556.82" width="12.90" height="12.87" fill="#e2eaf5" stroke="#e8e8e8" stroke-width="0.5"/>
<line x1="90.00" y1="563.25" x2="92.50" y2="563.25" stroke="#999" stroke-width="0.5"/>
<text x="95.10" y="564.95" font-size="7.2" font-family="'Liberation Sans', Arial, sans-serif" fill="#111" text-anchor="start" font-weight="normal">MM.navajowhite1</text>
<rect x="51.30" y="569.69" width="12.90" height="12.87" fill="#c84858" stroke="#e8e8e8" stroke-width="0.5"/>
<text x="57.75" y="581.12" font-size="6.6" font-family="'Liberation Sans', Arial, sans-serif" fill="#fff" text-anchor="middle" font-weight="normal" letter-spacing="0.4" fill-opacity="0.9">*</text>
<rect x="64.20" y="569.69" width="12.90" height="12.87" fill="#f0c4ca" stroke="#e8e8e8" stroke-width="0.5"/>
<rect x="77.10" y="569.69" width="12.90" height="12.87" fill="#dc8088" stroke="#e8e8e8" stroke-width="0.5"/>
<line x1="90.00" y1="576.12" x2="92.50" y2="576.12" stroke="#999" stroke-width="0.5"/>
<text x="95.10" y="577.82" font-size="7.2" font-family="'Liberation Sans', Arial, sans-serif" fill="#111" text-anchor="start" font-weight="normal">MM.salmon2</text>
<rect x="51.30" y="582.56" width="12.90" height="12.87" fill="#fcf4f4" stroke="#e8e8e8" stroke-width="0.5"/>
<rect x="64.20" y="582.56" width="12.90" height="12.87" fill="#fdfafa" stroke="#e8e8e8" stroke-width="0.5"/>
<rect x="77.10" y="582.56" width="12.90" height="12.87" fill="#fbf0f0" stroke="#e8e8e8" stroke-width="0.5"/>
<line x1="90.00" y1="588.99" x2="92.50" y2="588.99" stroke="#999" stroke-width="0.5"/>
<text x="95.10" y="590.69" font-size="7.2" font-family="'Liberation Sans', Arial, sans-serif" fill="#111" text-anchor="start" font-weight="normal">MM.grey</text>
<line x1="57.75" y1="595.43" x2="57.75" y2="597.93" stroke="#999" stroke-width="0.5"/>
<text x="53.85" y="605.43" font-size="7.1" font-family="'Liberation Sans', Arial, sans-serif" fill="#222" text-anchor="start" font-weight="normal" transform="rotate(45 53.85 605.43)">tea_saponin</text>
<line x1="70.65" y1="595.43" x2="70.65" y2="597.93" stroke="#999" stroke-width="0.5"/>
<text x="66.75" y="605.43" font-size="7.1" font-family="'Liberation Sans', Arial, sans-serif" fill="#222" text-anchor="start" font-weight="normal" transform="rotate(45 66.75 605.43)">total_phenols</text>
<line x1="83.55" y1="595.43" x2="83.55" y2="597.93" stroke="#999" stroke-width="0.5"/>
<text x="79.65" y="605.43" font-size="7.1" font-family="'Liberation Sans', Arial, sans-serif" fill="#222" text-anchor="start" font-weight="normal" transform="rotate(45 79.65 605.43)">total_flavonoids</text>
<defs><linearGradient id="cb" x1="0" y1="0" x2="0" y2="1"><stop offset="0" stop-color="#c0303c"/><stop offset="0.2" stop-color="#d86c78"/><stop offset="0.5" stop-color="#f8f0f0"/><stop offset="0.52" stop-color="#eef2f8"/><stop offset="0.75" stop-color="#8fb0d5"/><stop offset="1" stop-color="#3a72b4"/></linearGradient></defs>
<rect x="162.90" y="434.50" width="8.20" height="51.20" fill="url(#cb)"/>
<text x="172.60" y="445.00" font-size="7.2" font-family="'Liberation Serif', 'Times New Roman', serif" fill="#111" text-anchor="start" font-weight="bold">0.5</text>
<text x="172.60" y="452.80" font-size="7.2" font-family="'Liberation Serif', 'Times New Roman', serif" fill="#111" text-anchor="start" font-weight="bold">0.25</text>
<text x="172.60" y="461.20" font-size="7.2" font-family="'Liberation Serif', 'Times New Roman', serif" fill="#111" text-anchor="start" font-weight="bold">0</text>
<line x1="172.80" y1="466.40" x2="179.80" y2="466.40" stroke="#111" stroke-width="0.9"/>
<text x="179.30" y="468.90" font-size="7.2" font-family="'Liberation Serif', 'Times New Roman', serif" fill="#111" text-anchor="start" font-weight="bold">0.25</text>
<line x1="172.80" y1="474.00" x2="179.80" y2="474.00" stroke="#111" stroke-width="0.9"/>
<text x="179.30" y="476.50" font-size="7.2" font-family="'Liberation Serif', 'Times New Roman', serif" fill="#111" text-anchor="start" font-weight="bold">0.5</text>
<line x1="172.80" y1="482.70" x2="179.80" y2="482.70" stroke="#111" stroke-width="0.9"/>
<text x="179.30" y="485.20" font-size="7.2" font-family="'Liberation Serif', 'Times New Roman', serif" fill="#111" text-anchor="start" font-weight="bold">0.75</text>
<text x="209.40" y="370.30" font-size="13.3" font-family="'Liberation Serif', 'Times New Roman', serif" fill="#000" text-anchor="start" font-weight="normal">D</text>
<g stroke-opacity="0.95"><line x1="354.8" y1="365.5" x2="401.2" y2="361.8" stroke="#e04848" stroke-width="1.5"/><line x1="354.8" y1="365.5" x2="236.4" y2="495.3" stroke="#1f8585" stroke-width="1.1"/><line x1="354.8" y1="365.5" x2="251.3" y2="564.4" stroke="#1f8585" stroke-width="1.1"/><line x1="354.8" y1="365.5" x2="264.0" y2="585.4" stroke="#1f8585" stroke-width="1.1"/><line x1="354.8" y1="365.5" x2="298.7" y2="618.1" stroke="#1f8585" stroke-width="1.1"/><line x1="354.8" y1="365.5" x2="341.8" y2="638.3" stroke="#1f8585" stroke-width="1.1"/><line x1="354.8" y1="365.5" x2="359.3" y2="612.6" stroke="#1f8585" stroke-width="1.1"/><line x1="354.8" y1="365.5" x2="413.2" y2="638.0" stroke="#1f8585" stroke-width="1.1"/><line x1="354.8" y1="365.5" x2="435.0" y2="630.4" stroke="#1f8585" stroke-width="1.1"/><line x1="354.8" y1="365.5" x2="475.3" y2="603.3" stroke="#1f8585" stroke-width="1.1"/><line x1="354.8" y1="365.5" x2="498.0" y2="427.3" stroke="#687070" stroke-width="1.1"/><line x1="354.8" y1="365.5" x2="518.4" y2="495.1" stroke="#8a5a5a" stroke-width="1.1"/><line x1="354.8" y1="365.5" x2="484.3" y2="407.6" stroke="#3a8cbc" stroke-width="0.9"/><line x1="354.8" y1="365.5" x2="288.8" y2="391.3" stroke="#80acd8" stroke-width="0.8"/><line x1="354.8" y1="365.5" x2="242.5" y2="542.6" stroke="#1f8585" stroke-width="1.1"/><line x1="401.2" y1="361.8" x2="466.6" y2="391.3" stroke="#c04848" stroke-width="1.5"/><line x1="424.7" y1="367.7" x2="446.5" y2="377.5" stroke="#c84848" stroke-width="1.5"/><line x1="401.2" y1="361.8" x2="484.3" y2="407.6" stroke="#8a5a5a" stroke-width="1.1"/><line x1="401.2" y1="361.8" x2="246.3" y2="448.6" stroke="#1f8585" stroke-width="1.1"/><line x1="401.2" y1="361.8" x2="239.3" y2="471.5" stroke="#1f8585" stroke-width="1.1"/><line x1="401.2" y1="361.8" x2="236.4" y2="495.3" stroke="#1f8585" stroke-width="1.1"/><line x1="401.2" y1="361.8" x2="237.1" y2="519.3" stroke="#1f8585" stroke-width="1.1"/><line x1="401.2" y1="361.8" x2="279.6" y2="603.1" stroke="#1f8585" stroke-width="1.1"/><line x1="401.2" y1="361.8" x2="320.0" y2="629.5" stroke="#1f8585" stroke-width="1.1"/><line x1="401.2" y1="361.8" x2="341.8" y2="638.3" stroke="#1f8585" stroke-width="1.1"/><line x1="401.2" y1="361.8" x2="377.8" y2="644.9" stroke="#1f8585" stroke-width="1.1"/><line x1="401.2" y1="361.8" x2="435.0" y2="630.4" stroke="#1f8585" stroke-width="1.1"/><line x1="401.2" y1="361.8" x2="491.2" y2="585.4" stroke="#1f8585" stroke-width="1.1"/><line x1="401.2" y1="361.8" x2="512.5" y2="542.0" stroke="#8a5a5a" stroke-width="1.1"/><line x1="401.2" y1="361.8" x2="518.4" y2="495.1" stroke="#8a5a5a" stroke-width="1.1"/><line x1="401.2" y1="361.8" x2="518.4" y2="519.1" stroke="#1f8585" stroke-width="1.1"/><line x1="401.2" y1="361.8" x2="508.5" y2="448.4" stroke="#687070" stroke-width="1.1"/><line x1="401.2" y1="361.8" x2="475.3" y2="603.3" stroke="#687070" stroke-width="1.1"/><line x1="401.2" y1="361.8" x2="298.7" y2="618.1" stroke="#1f8585" stroke-width="1.1"/><line x1="498.0" y1="427.3" x2="330.4" y2="367.3" stroke="#3a8cbc" stroke-width="0.9"/><line x1="498.0" y1="427.3" x2="308.4" y2="377.7" stroke="#3a8cbc" stroke-width="0.9"/><line x1="508.5" y1="448.4" x2="271.3" y2="407.9" stroke="#1f8585" stroke-width="1.1"/><line x1="508.5" y1="448.4" x2="257.2" y2="427.0" stroke="#3a8cbc" stroke-width="0.9"/><line x1="508.5" y1="448.4" x2="264.0" y2="585.4" stroke="#80acd8" stroke-width="0.8"/><line x1="508.5" y1="448.4" x2="279.6" y2="603.1" stroke="#3a8cbc" stroke-width="0.9"/><line x1="508.5" y1="448.4" x2="298.7" y2="618.1" stroke="#1f8585" stroke-width="1.1"/><line x1="508.5" y1="448.4" x2="359.3" y2="612.6" stroke="#1f8585" stroke-width="1.1"/><line x1="508.5" y1="448.4" x2="341.8" y2="638.3" stroke="#1f8585" stroke-width="1.1"/><line x1="508.5" y1="448.4" x2="346.7" y2="395.6" stroke="#3a8cbc" stroke-width="0.9"/><line x1="508.5" y1="448.4" x2="498.0" y2="427.3" stroke="#1f8585" stroke-width="1.1"/><line x1="508.5" y1="448.4" x2="484.3" y2="407.6" stroke="#1f8585" stroke-width="1.1"/><line x1="508.5" y1="448.4" x2="515.7" y2="471.3" stroke="#1f8585" stroke-width="1.1"/><line x1="508.5" y1="448.4" x2="518.4" y2="495.1" stroke="#1f8585" stroke-width="1.1"/><line x1="508.5" y1="448.4" x2="518.4" y2="519.1" stroke="#1f8585" stroke-width="1.1"/><line x1="508.5" y1="448.4" x2="512.5" y2="542.0" stroke="#1f8585" stroke-width="1.1"/><line x1="508.5" y1="448.4" x2="236.4" y2="495.3" stroke="#1f8585" stroke-width="1.1"/><line x1="484.3" y1="407.6" x2="246.3" y2="448.6" stroke="#3a8cbc" stroke-width="0.9"/><line x1="484.3" y1="407.6" x2="251.3" y2="564.4" stroke="#1f8585" stroke-width="1.1"/><line x1="484.3" y1="407.6" x2="456.7" y2="617.9" stroke="#1f8585" stroke-width="1.1"/><line x1="484.3" y1="407.6" x2="413.2" y2="638.0" stroke="#1f8585" stroke-width="1.1"/><line x1="484.3" y1="407.6" x2="498.0" y2="427.3" stroke="#1f8585" stroke-width="1.1"/><line x1="484.3" y1="407.6" x2="359.3" y2="612.6" stroke="#1f8585" stroke-width="1.1"/><line x1="484.3" y1="407.6" x2="298.7" y2="618.1" stroke="#1f8585" stroke-width="1.1"/><line x1="242.5" y1="542.6" x2="346.7" y2="395.6" stroke="#80acd8" stroke-width="0.8"/><line x1="242.5" y1="542.6" x2="518.4" y2="519.1" stroke="#3a8cbc" stroke-width="0.9"/><line x1="242.5" y1="542.6" x2="512.5" y2="542.0" stroke="#3a8cbc" stroke-width="0.9"/><line x1="242.5" y1="542.6" x2="503.6" y2="564.7" stroke="#3a8cbc" stroke-width="0.9"/><line x1="242.5" y1="542.6" x2="491.2" y2="585.4" stroke="#3a8cbc" stroke-width="0.9"/><line x1="242.5" y1="542.6" x2="475.3" y2="603.3" stroke="#1f8585" stroke-width="1.1"/><line x1="242.5" y1="542.6" x2="298.7" y2="618.1" stroke="#1f8585" stroke-width="1.1"/><line x1="242.5" y1="542.6" x2="251.3" y2="564.4" stroke="#80acd8" stroke-width="0.8"/><line x1="246.3" y1="448.6" x2="518.4" y2="495.1" stroke="#1f8585" stroke-width="1.1"/><line x1="246.3" y1="448.6" x2="512.5" y2="542.0" stroke="#1f8585" stroke-width="1.1"/><line x1="288.8" y1="391.3" x2="515.7" y2="471.3" stroke="#1f8585" stroke-width="1.1"/><line x1="239.3" y1="471.5" x2="515.7" y2="471.3" stroke="#1f8585" stroke-width="1.1"/><line x1="237.1" y1="519.3" x2="518.4" y2="519.1" stroke="#1f8585" stroke-width="1.1"/><line x1="346.7" y1="395.6" x2="298.7" y2="618.1" stroke="#80acd8" stroke-width="0.8"/><line x1="346.7" y1="395.6" x2="413.2" y2="638.0" stroke="#80acd8" stroke-width="0.8"/><line x1="359.3" y1="612.6" x2="456.7" y2="617.9" stroke="#1f8585" stroke-width="1.1"/><line x1="359.3" y1="612.6" x2="475.3" y2="603.3" stroke="#1f8585" stroke-width="1.1"/><line x1="359.3" y1="612.6" x2="512.5" y2="542.0" stroke="#1f8585" stroke-width="1.1"/><line x1="359.3" y1="612.6" x2="518.4" y2="519.1" stroke="#1f8585" stroke-width="1.1"/><line x1="475.3" y1="603.3" x2="298.7" y2="618.1" stroke="#1f8585" stroke-width="1.1"/><line x1="475.3" y1="603.3" x2="341.8" y2="638.3" stroke="#1f8585" stroke-width="1.1"/><line x1="456.7" y1="617.9" x2="341.8" y2="638.3" stroke="#1f8585" stroke-width="1.1"/><line x1="498.0" y1="427.3" x2="242.5" y2="542.6" stroke="#1f8585" stroke-width="1.1"/><line x1="498.0" y1="427.3" x2="341.8" y2="638.3" stroke="#1f8585" stroke-width="1.1"/><line x1="515.7" y1="471.3" x2="264.0" y2="585.4" stroke="#80acd8" stroke-width="0.8"/><line x1="298.7" y1="618.1" x2="518.4" y2="519.1" stroke="#1f8585" stroke-width="1.1"/><line x1="320.0" y1="629.5" x2="288.8" y2="391.3" stroke="#3a8cbc" stroke-width="0.9"/><line x1="515.7" y1="471.3" x2="298.7" y2="618.1" stroke="#1f8585" stroke-width="1.1"/><line x1="518.4" y1="495.1" x2="341.8" y2="638.3" stroke="#3a8cbc" stroke-width="0.9"/><line x1="518.4" y1="519.1" x2="298.7" y2="618.1" stroke="#1f8585" stroke-width="1.1"/><line x1="512.5" y1="542.0" x2="341.8" y2="638.3" stroke="#1f8585" stroke-width="1.1"/><line x1="503.6" y1="564.7" x2="298.7" y2="618.1" stroke="#1f8585" stroke-width="1.1"/><line x1="508.5" y1="448.4" x2="503.6" y2="564.7" stroke="#1f8585" stroke-width="1.1"/><line x1="508.5" y1="448.4" x2="491.2" y2="585.4" stroke="#687070" stroke-width="1.1"/><line x1="508.5" y1="448.4" x2="475.3" y2="603.3" stroke="#1f8585" stroke-width="1.1"/><line x1="508.5" y1="448.4" x2="456.7" y2="617.9" stroke="#1f8585" stroke-width="1.1"/><line x1="498.0" y1="427.3" x2="515.7" y2="471.3" stroke="#1f8585" stroke-width="1.1"/><line x1="498.0" y1="427.3" x2="518.4" y2="495.1" stroke="#1f8585" stroke-width="1.1"/><line x1="498.0" y1="427.3" x2="518.4" y2="519.1" stroke="#1f8585" stroke-width="1.1"/><line x1="498.0" y1="427.3" x2="512.5" y2="542.0" stroke="#3a8cbc" stroke-width="0.9"/><line x1="498.0" y1="427.3" x2="503.6" y2="564.7" stroke="#1f8585" stroke-width="1.1"/><line x1="484.3" y1="407.6" x2="515.7" y2="471.3" stroke="#1f8585" stroke-width="1.1"/><line x1="484.3" y1="407.6" x2="518.4" y2="495.1" stroke="#3a8cbc" stroke-width="0.9"/><line x1="484.3" y1="407.6" x2="518.4" y2="519.1" stroke="#1f8585" stroke-width="1.1"/><line x1="484.3" y1="407.6" x2="512.5" y2="542.0" stroke="#1f8585" stroke-width="1.1"/><line x1="515.7" y1="471.3" x2="512.5" y2="542.0" stroke="#1f8585" stroke-width="1.1"/><line x1="515.7" y1="471.3" x2="503.6" y2="564.7" stroke="#1f8585" stroke-width="1.1"/><line x1="518.4" y1="495.1" x2="512.5" y2="542.0" stroke="#1f8585" stroke-width="1.1"/><line x1="518.4" y1="495.1" x2="503.6" y2="564.7" stroke="#1f8585" stroke-width="1.1"/><line x1="518.4" y1="519.1" x2="503.6" y2="564.7" stroke="#1f8585" stroke-width="1.1"/><line x1="518.4" y1="519.1" x2="491.2" y2="585.4" stroke="#1f8585" stroke-width="1.1"/><line x1="512.5" y1="542.0" x2="491.2" y2="585.4" stroke="#1f8585" stroke-width="1.1"/><line x1="401.2" y1="361.8" x2="515.7" y2="471.3" stroke="#687070" stroke-width="1.1"/><line x1="401.2" y1="361.8" x2="503.6" y2="564.7" stroke="#8a5a5a" stroke-width="1.1"/><line x1="354.8" y1="365.5" x2="518.4" y2="519.1" stroke="#687070" stroke-width="1.1"/><line x1="515.7" y1="471.3" x2="491.2" y2="585.4" stroke="#8a5a5a" stroke-width="1.1"/><line x1="518.4" y1="495.1" x2="475.3" y2="603.3" stroke="#1f8585" stroke-width="1.1"/><line x1="308.4" y1="377.7" x2="515.7" y2="471.3" stroke="#3a8cbc" stroke-width="0.9"/><line x1="377.8" y1="644.9" x2="237.1" y2="519.3" stroke="#1f8585" stroke-width="1.1"/><line x1="413.2" y1="638.0" x2="236.4" y2="495.3" stroke="#1f8585" stroke-width="1.1"/></g>
<circle cx="354.8" cy="365.5" r="3.5" fill="#9090d8"/>
<circle cx="330.4" cy="367.3" r="1.8" fill="#9090d8"/>
<circle cx="308.4" cy="377.7" r="1.8" fill="#9090d8"/>
<circle cx="288.8" cy="391.3" r="1.9" fill="#9090d8"/>
<circle cx="271.3" cy="407.9" r="1.8" fill="#9090d8"/>
<circle cx="257.2" cy="427.0" r="2.0" fill="#9090d8"/>
<circle cx="246.3" cy="448.6" r="2.8" fill="#9090d8"/>
<circle cx="239.3" cy="471.5" r="2.0" fill="#9090d8"/>
<circle cx="236.4" cy="495.3" r="2.0" fill="#9090d8"/>
<circle cx="237.1" cy="519.3" r="2.0" fill="#9090d8"/>
<circle cx="242.5" cy="542.6" r="3.8" fill="#9090d8"/>
<circle cx="251.3" cy="564.4" r="2.0" fill="#9090d8"/>
<circle cx="264.0" cy="585.4" r="2.0" fill="#9090d8"/>
<circle cx="279.6" cy="603.1" r="2.0" fill="#9090d8"/>
<circle cx="298.7" cy="618.1" r="2.6" fill="#9090d8"/>
<circle cx="320.0" cy="629.5" r="2.2" fill="#9090d8"/>
<circle cx="341.8" cy="638.3" r="3.0" fill="#9090d8"/>
<circle cx="377.8" cy="644.9" r="2.0" fill="#9090d8"/>
<circle cx="413.2" cy="638.0" r="3.0" fill="#9090d8"/>
<circle cx="435.0" cy="630.4" r="1.8" fill="#9090d8"/>
<circle cx="456.7" cy="617.9" r="3.0" fill="#9090d8"/>
<circle cx="475.3" cy="603.3" r="3.6" fill="#9090d8"/>
<circle cx="491.2" cy="585.4" r="2.2" fill="#9090d8"/>
<circle cx="503.6" cy="564.7" r="2.6" fill="#9090d8"/>
<circle cx="512.5" cy="542.0" r="3.2" fill="#9090d8"/>
<circle cx="518.4" cy="519.1" r="3.2" fill="#9090d8"/>
<circle cx="518.4" cy="495.1" r="2.8" fill="#9090d8"/>
<circle cx="515.7" cy="471.3" r="2.6" fill="#9090d8"/>
<circle cx="508.5" cy="448.4" r="6.5" fill="#9090d8"/>
<circle cx="498.0" cy="427.3" r="3.0" fill="#9090d8"/>
<circle cx="484.3" cy="407.6" r="3.6" fill="#9090d8"/>
<circle cx="466.6" cy="391.3" r="2.0" fill="#9090d8"/>
<circle cx="446.5" cy="377.5" r="2.0" fill="#9090d8"/>
<circle cx="424.7" cy="367.7" r="2.0" fill="#9090d8"/>
<circle cx="401.2" cy="361.8" r="4.0" fill="#9090d8"/>
<circle cx="346.7" cy="395.6" r="2.0" fill="#9090d8"/>
<circle cx="359.3" cy="612.6" r="3.6" fill="#9090d8"/>
<text x="354.80" y="360.00" font-size="5.4" font-family="'Liberation Sans', Arial, sans-serif" fill="#444" text-anchor="middle" font-weight="normal">LOK49_LG02G03064</text>
<text x="330.40" y="363.50" font-size="5.4" font-family="'Liberation Sans', Arial, sans-serif" fill="#444" text-anchor="middle" font-weight="normal">LOK49_LG10G00680</text>
<text x="308.40" y="373.90" font-size="5.4" font-family="'Liberation Sans', Arial, sans-serif" fill="#444" text-anchor="middle" font-weight="normal">LOK49_LG13G01330</text>
<text x="288.80" y="387.40" font-size="5.4" font-family="'Liberation Sans', Arial, sans-serif" fill="#444" text-anchor="middle" font-weight="normal">LOK49_LG13G00161</text>
<text x="271.30" y="404.10" font-size="5.4" font-family="'Liberation Sans', Arial, sans-serif" fill="#444" text-anchor="middle" font-weight="normal">LOK49_LG07G01384</text>
<text x="257.20" y="423.00" font-size="5.4" font-family="'Liberation Sans', Arial, sans-serif" fill="#444" text-anchor="middle" font-weight="normal">LOK49_LG01G02151</text>
<text x="246.30" y="443.80" font-size="5.4" font-family="'Liberation Sans', Arial, sans-serif" fill="#444" text-anchor="middle" font-weight="normal">LOK49_LG12G02758</text>
<text x="239.30" y="467.50" font-size="5.4" font-family="'Liberation Sans', Arial, sans-serif" fill="#444" text-anchor="middle" font-weight="normal">LOK49_LG09G00701</text>
<text x="236.40" y="491.30" font-size="5.4" font-family="'Liberation Sans', Arial, sans-serif" fill="#444" text-anchor="middle" font-weight="normal">LOK49_LG12G00472</text>
<text x="237.10" y="515.30" font-size="5.4" font-family="'Liberation Sans', Arial, sans-serif" fill="#444" text-anchor="middle" font-weight="normal">LOK49_LG05G02066</text>
<text x="242.50" y="536.80" font-size="5.4" font-family="'Liberation Sans', Arial, sans-serif" fill="#444" text-anchor="middle" font-weight="normal">LOK49_LG15G00061</text>
<text x="251.30" y="560.40" font-size="5.4" font-family="'Liberation Sans', Arial, sans-serif" fill="#444" text-anchor="middle" font-weight="normal">LOK49_LG01G02770</text>
<text x="264.00" y="581.40" font-size="5.4" font-family="'Liberation Sans', Arial, sans-serif" fill="#444" text-anchor="middle" font-weight="normal">LOK49_LG06G02463</text>
<text x="279.60" y="599.10" font-size="5.4" font-family="'Liberation Sans', Arial, sans-serif" fill="#444" text-anchor="middle" font-weight="normal">LOK49_LG03G00075</text>
<text x="298.70" y="613.50" font-size="5.4" font-family="'Liberation Sans', Arial, sans-serif" fill="#444" text-anchor="middle" font-weight="normal">LOK49_LG22G01040</text>
<text x="320.00" y="625.30" font-size="5.4" font-family="'Liberation Sans', Arial, sans-serif" fill="#444" text-anchor="middle" font-weight="normal">LOK49_LG03G00718</text>
<text x="341.80" y="633.30" font-size="5.4" font-family="'Liberation Sans', Arial, sans-serif" fill="#444" text-anchor="middle" font-weight="normal">LOK49_LG04G02142</text>
<text x="377.80" y="640.90" font-size="5.4" font-family="'Liberation Sans', Arial, sans-serif" fill="#444" text-anchor="middle" font-weight="normal">LOK49_LG11G01727</text>
<text x="413.20" y="633.00" font-size="5.4" font-family="'Liberation Sans', Arial, sans-serif" fill="#444" text-anchor="middle" font-weight="normal">LOK49_Contig152G00007</text>
<text x="435.00" y="626.60" font-size="5.4" font-family="'Liberation Sans', Arial, sans-serif" fill="#444" text-anchor="middle" font-weight="normal">LOK49_LG24G02590</text>
<text x="456.70" y="612.90" font-size="5.4" font-family="'Liberation Sans', Arial, sans-serif" fill="#444" text-anchor="middle" font-weight="normal">LOK49_LG07G00248</text>
<text x="475.30" y="597.70" font-size="5.4" font-family="'Liberation Sans', Arial, sans-serif" fill="#444" text-anchor="middle" font-weight="normal">LOK49_LG05G02130</text>
<text x="491.20" y="581.20" font-size="5.4" font-family="'Liberation Sans', Arial, sans-serif" fill="#444" text-anchor="middle" font-weight="normal">LOK49_LG01G04246</text>
<text x="503.60" y="560.10" font-size="5.4" font-family="'Liberation Sans', Arial, sans-serif" fill="#444" text-anchor="middle" font-weight="normal">LOK49_LG12G01495</text>
<text x="512.50" y="536.80" font-size="5.4" font-family="'Liberation Sans', Arial, sans-serif" fill="#444" text-anchor="middle" font-weight="normal">LOK49_LG05G03250</text>
<text x="518.40" y="513.90" font-size="5.4" font-family="'Liberation Sans', Arial, sans-serif" fill="#444" text-anchor="middle" font-weight="normal">LOK49_LG12G01487</text>
<text x="518.40" y="490.30" font-size="5.4" font-family="'Liberation Sans', Arial, sans-serif" fill="#444" text-anchor="middle" font-weight="normal">LOK49_LG06G02962</text>
<text x="515.70" y="466.70" font-size="5.4" font-family="'Liberation Sans', Arial, sans-serif" fill="#444" text-anchor="middle" font-weight="normal">LOK49_LG02G03047</text>
<text x="508.50" y="439.90" font-size="5.4" font-family="'Liberation Sans', Arial, sans-serif" fill="#444" text-anchor="middle" font-weight="normal">LOK49_LG08G00143</text>
<text x="498.00" y="422.30" font-size="5.4" font-family="'Liberation Sans', Arial, sans-serif" fill="#444" text-anchor="middle" font-weight="normal">LOK49_LG06G01213</text>
<text x="484.30" y="402.00" font-size="5.4" font-family="'Liberation Sans', Arial, sans-serif" fill="#444" text-anchor="middle" font-weight="normal">LOK49_LG06G03358</text>
<text x="466.60" y="387.30" font-size="5.4" font-family="'Liberation Sans', Arial, sans-serif" fill="#444" text-anchor="middle" font-weight="normal">LOK49_LG12G02976</text>
<text x="446.50" y="373.50" font-size="5.4" font-family="'Liberation Sans', Arial, sans-serif" fill="#444" text-anchor="middle" font-weight="normal">LOK49_LG14G02019</text>
<text x="424.70" y="363.70" font-size="5.4" font-family="'Liberation Sans', Arial, sans-serif" fill="#444" text-anchor="middle" font-weight="normal">LOK49_LG03G00060</text>
<text x="401.20" y="355.80" font-size="5.4" font-family="'Liberation Sans', Arial, sans-serif" fill="#444" text-anchor="middle" font-weight="normal">LOK49_LG09G02788</text>
<text x="346.70" y="391.60" font-size="5.4" font-family="'Liberation Sans', Arial, sans-serif" fill="#444" text-anchor="middle" font-weight="normal">LOK49_LG01G03120</text>
<text x="359.30" y="607.00" font-size="5.4" font-family="'Liberation Sans', Arial, sans-serif" fill="#444" text-anchor="middle" font-weight="normal">LOK49_LG02G02135</text>
</svg></body></html>
